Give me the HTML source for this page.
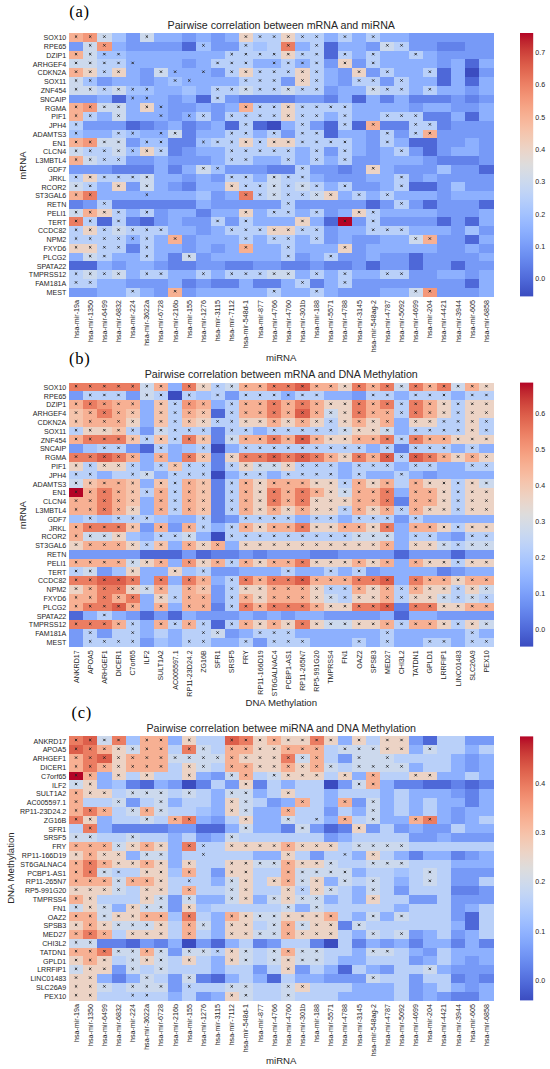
<!DOCTYPE html>
<html><head><meta charset="utf-8"><style>
html,body{margin:0;padding:0;background:#fff;}
body{width:550px;height:1069px;position:relative;overflow:hidden;font-family:"Liberation Sans",sans-serif;}
</style></head><body>
<svg width="550" height="1069" viewBox="0 0 550 1069" style="position:absolute;left:0;top:0">
<defs><linearGradient id="cw" x1="0" y1="1" x2="0" y2="0">
<stop offset="0.0000" stop-color="#3b4cc0"/>
<stop offset="0.0312" stop-color="#445acc"/>
<stop offset="0.0625" stop-color="#4e68d8"/>
<stop offset="0.0938" stop-color="#5875e1"/>
<stop offset="0.1250" stop-color="#6282ea"/>
<stop offset="0.1562" stop-color="#6c8ff1"/>
<stop offset="0.1875" stop-color="#779af7"/>
<stop offset="0.2188" stop-color="#82a6fb"/>
<stop offset="0.2500" stop-color="#8db0fe"/>
<stop offset="0.2812" stop-color="#98b9ff"/>
<stop offset="0.3125" stop-color="#a3c2fe"/>
<stop offset="0.3438" stop-color="#aec9fc"/>
<stop offset="0.3750" stop-color="#b9d0f9"/>
<stop offset="0.4062" stop-color="#c3d5f4"/>
<stop offset="0.4375" stop-color="#ccd9ed"/>
<stop offset="0.4688" stop-color="#d5dbe5"/>
<stop offset="0.5000" stop-color="#dddcdc"/>
<stop offset="0.5312" stop-color="#e5d8d1"/>
<stop offset="0.5625" stop-color="#ecd3c5"/>
<stop offset="0.5938" stop-color="#f1ccb8"/>
<stop offset="0.6250" stop-color="#f5c4ac"/>
<stop offset="0.6562" stop-color="#f7ba9f"/>
<stop offset="0.6875" stop-color="#f7b093"/>
<stop offset="0.7188" stop-color="#f6a586"/>
<stop offset="0.7500" stop-color="#f4987a"/>
<stop offset="0.7812" stop-color="#f08b6e"/>
<stop offset="0.8125" stop-color="#eb7d62"/>
<stop offset="0.8438" stop-color="#e46e56"/>
<stop offset="0.8750" stop-color="#dd5f4b"/>
<stop offset="0.9062" stop-color="#d44e41"/>
<stop offset="0.9375" stop-color="#ca3b37"/>
<stop offset="0.9688" stop-color="#be242e"/>
<stop offset="1.0000" stop-color="#b40426"/>
</linearGradient></defs>
<rect width="550" height="1069" fill="#fff"/>
<g shape-rendering="crispEdges"><rect x="69.0" y="33.0" width="14.5" height="9.1" fill="#f7b093"/><rect x="83.2" y="33.0" width="14.5" height="9.1" fill="#f4987a"/><rect x="97.3" y="33.0" width="14.5" height="9.1" fill="#ccd9ed"/><rect x="111.5" y="33.0" width="14.5" height="9.1" fill="#a3c2fe"/><rect x="125.6" y="33.0" width="14.5" height="9.1" fill="#779af7"/><rect x="139.8" y="33.0" width="14.5" height="9.1" fill="#ccd9ed"/><rect x="153.9" y="33.0" width="14.5" height="9.1" fill="#8db0fe"/><rect x="168.1" y="33.0" width="14.5" height="9.1" fill="#8db0fe"/><rect x="182.2" y="33.0" width="14.5" height="9.1" fill="#779af7"/><rect x="196.4" y="33.0" width="14.5" height="9.1" fill="#8db0fe"/><rect x="210.5" y="33.0" width="14.5" height="9.1" fill="#779af7"/><rect x="224.7" y="33.0" width="14.5" height="9.1" fill="#8db0fe"/><rect x="238.8" y="33.0" width="14.5" height="9.1" fill="#ecd3c5"/><rect x="253.0" y="33.0" width="14.5" height="9.1" fill="#b9d0f9"/><rect x="267.1" y="33.0" width="14.5" height="9.1" fill="#b9d0f9"/><rect x="281.2" y="33.0" width="14.5" height="9.1" fill="#ecd3c5"/><rect x="295.4" y="33.0" width="14.5" height="9.1" fill="#b9d0f9"/><rect x="309.6" y="33.0" width="14.5" height="9.1" fill="#b9d0f9"/><rect x="323.7" y="33.0" width="14.5" height="9.1" fill="#8db0fe"/><rect x="337.9" y="33.0" width="14.5" height="9.1" fill="#b9d0f9"/><rect x="352.0" y="33.0" width="14.5" height="9.1" fill="#8db0fe"/><rect x="366.2" y="33.0" width="14.5" height="9.1" fill="#b9d0f9"/><rect x="380.3" y="33.0" width="14.5" height="9.1" fill="#8db0fe"/><rect x="394.4" y="33.0" width="14.5" height="9.1" fill="#8db0fe"/><rect x="408.6" y="33.0" width="14.5" height="9.1" fill="#779af7"/><rect x="422.8" y="33.0" width="14.5" height="9.1" fill="#779af7"/><rect x="436.9" y="33.0" width="14.5" height="9.1" fill="#779af7"/><rect x="451.1" y="33.0" width="14.5" height="9.1" fill="#779af7"/><rect x="465.2" y="33.0" width="14.5" height="9.1" fill="#779af7"/><rect x="479.4" y="33.0" width="14.5" height="9.1" fill="#779af7"/><rect x="69.0" y="41.8" width="14.5" height="9.1" fill="#779af7"/><rect x="83.2" y="41.8" width="14.5" height="9.1" fill="#ccd9ed"/><rect x="97.3" y="41.8" width="14.5" height="9.1" fill="#f4987a"/><rect x="111.5" y="41.8" width="14.5" height="9.1" fill="#8db0fe"/><rect x="125.6" y="41.8" width="14.5" height="9.1" fill="#779af7"/><rect x="139.8" y="41.8" width="14.5" height="9.1" fill="#779af7"/><rect x="153.9" y="41.8" width="14.5" height="9.1" fill="#779af7"/><rect x="168.1" y="41.8" width="14.5" height="9.1" fill="#779af7"/><rect x="182.2" y="41.8" width="14.5" height="9.1" fill="#4e68d8"/><rect x="196.4" y="41.8" width="14.5" height="9.1" fill="#a3c2fe"/><rect x="210.5" y="41.8" width="14.5" height="9.1" fill="#779af7"/><rect x="224.7" y="41.8" width="14.5" height="9.1" fill="#779af7"/><rect x="238.8" y="41.8" width="14.5" height="9.1" fill="#b9d0f9"/><rect x="253.0" y="41.8" width="14.5" height="9.1" fill="#a3c2fe"/><rect x="267.1" y="41.8" width="14.5" height="9.1" fill="#b9d0f9"/><rect x="281.2" y="41.8" width="14.5" height="9.1" fill="#eb7d62"/><rect x="295.4" y="41.8" width="14.5" height="9.1" fill="#8db0fe"/><rect x="309.6" y="41.8" width="14.5" height="9.1" fill="#b9d0f9"/><rect x="323.7" y="41.8" width="14.5" height="9.1" fill="#4e68d8"/><rect x="337.9" y="41.8" width="14.5" height="9.1" fill="#8db0fe"/><rect x="352.0" y="41.8" width="14.5" height="9.1" fill="#8db0fe"/><rect x="366.2" y="41.8" width="14.5" height="9.1" fill="#779af7"/><rect x="380.3" y="41.8" width="14.5" height="9.1" fill="#ccd9ed"/><rect x="394.4" y="41.8" width="14.5" height="9.1" fill="#b9d0f9"/><rect x="408.6" y="41.8" width="14.5" height="9.1" fill="#779af7"/><rect x="422.8" y="41.8" width="14.5" height="9.1" fill="#779af7"/><rect x="436.9" y="41.8" width="14.5" height="9.1" fill="#6282ea"/><rect x="451.1" y="41.8" width="14.5" height="9.1" fill="#6282ea"/><rect x="465.2" y="41.8" width="14.5" height="9.1" fill="#779af7"/><rect x="479.4" y="41.8" width="14.5" height="9.1" fill="#779af7"/><rect x="69.0" y="50.6" width="14.5" height="9.1" fill="#f7b093"/><rect x="83.2" y="50.6" width="14.5" height="9.1" fill="#ccd9ed"/><rect x="97.3" y="50.6" width="14.5" height="9.1" fill="#a3c2fe"/><rect x="111.5" y="50.6" width="14.5" height="9.1" fill="#a3c2fe"/><rect x="125.6" y="50.6" width="14.5" height="9.1" fill="#8db0fe"/><rect x="139.8" y="50.6" width="14.5" height="9.1" fill="#8db0fe"/><rect x="153.9" y="50.6" width="14.5" height="9.1" fill="#8db0fe"/><rect x="168.1" y="50.6" width="14.5" height="9.1" fill="#8db0fe"/><rect x="182.2" y="50.6" width="14.5" height="9.1" fill="#8db0fe"/><rect x="196.4" y="50.6" width="14.5" height="9.1" fill="#8db0fe"/><rect x="210.5" y="50.6" width="14.5" height="9.1" fill="#8db0fe"/><rect x="224.7" y="50.6" width="14.5" height="9.1" fill="#b9d0f9"/><rect x="238.8" y="50.6" width="14.5" height="9.1" fill="#b9d0f9"/><rect x="253.0" y="50.6" width="14.5" height="9.1" fill="#b9d0f9"/><rect x="267.1" y="50.6" width="14.5" height="9.1" fill="#b9d0f9"/><rect x="281.2" y="50.6" width="14.5" height="9.1" fill="#ecd3c5"/><rect x="295.4" y="50.6" width="14.5" height="9.1" fill="#b9d0f9"/><rect x="309.6" y="50.6" width="14.5" height="9.1" fill="#b9d0f9"/><rect x="323.7" y="50.6" width="14.5" height="9.1" fill="#4e68d8"/><rect x="337.9" y="50.6" width="14.5" height="9.1" fill="#b9d0f9"/><rect x="352.0" y="50.6" width="14.5" height="9.1" fill="#8db0fe"/><rect x="366.2" y="50.6" width="14.5" height="9.1" fill="#b9d0f9"/><rect x="380.3" y="50.6" width="14.5" height="9.1" fill="#8db0fe"/><rect x="394.4" y="50.6" width="14.5" height="9.1" fill="#8db0fe"/><rect x="408.6" y="50.6" width="14.5" height="9.1" fill="#b9d0f9"/><rect x="422.8" y="50.6" width="14.5" height="9.1" fill="#8db0fe"/><rect x="436.9" y="50.6" width="14.5" height="9.1" fill="#779af7"/><rect x="451.1" y="50.6" width="14.5" height="9.1" fill="#779af7"/><rect x="465.2" y="50.6" width="14.5" height="9.1" fill="#779af7"/><rect x="479.4" y="50.6" width="14.5" height="9.1" fill="#779af7"/><rect x="69.0" y="59.3" width="14.5" height="9.1" fill="#ccd9ed"/><rect x="83.2" y="59.3" width="14.5" height="9.1" fill="#ccd9ed"/><rect x="97.3" y="59.3" width="14.5" height="9.1" fill="#b9d0f9"/><rect x="111.5" y="59.3" width="14.5" height="9.1" fill="#b9d0f9"/><rect x="125.6" y="59.3" width="14.5" height="9.1" fill="#8db0fe"/><rect x="139.8" y="59.3" width="14.5" height="9.1" fill="#8db0fe"/><rect x="153.9" y="59.3" width="14.5" height="9.1" fill="#8db0fe"/><rect x="168.1" y="59.3" width="14.5" height="9.1" fill="#8db0fe"/><rect x="182.2" y="59.3" width="14.5" height="9.1" fill="#779af7"/><rect x="196.4" y="59.3" width="14.5" height="9.1" fill="#8db0fe"/><rect x="210.5" y="59.3" width="14.5" height="9.1" fill="#b9d0f9"/><rect x="224.7" y="59.3" width="14.5" height="9.1" fill="#b9d0f9"/><rect x="238.8" y="59.3" width="14.5" height="9.1" fill="#b9d0f9"/><rect x="253.0" y="59.3" width="14.5" height="9.1" fill="#8db0fe"/><rect x="267.1" y="59.3" width="14.5" height="9.1" fill="#8db0fe"/><rect x="281.2" y="59.3" width="14.5" height="9.1" fill="#b9d0f9"/><rect x="295.4" y="59.3" width="14.5" height="9.1" fill="#8db0fe"/><rect x="309.6" y="59.3" width="14.5" height="9.1" fill="#b9d0f9"/><rect x="323.7" y="59.3" width="14.5" height="9.1" fill="#779af7"/><rect x="337.9" y="59.3" width="14.5" height="9.1" fill="#ecd3c5"/><rect x="352.0" y="59.3" width="14.5" height="9.1" fill="#779af7"/><rect x="366.2" y="59.3" width="14.5" height="9.1" fill="#b9d0f9"/><rect x="380.3" y="59.3" width="14.5" height="9.1" fill="#8db0fe"/><rect x="394.4" y="59.3" width="14.5" height="9.1" fill="#8db0fe"/><rect x="408.6" y="59.3" width="14.5" height="9.1" fill="#8db0fe"/><rect x="422.8" y="59.3" width="14.5" height="9.1" fill="#8db0fe"/><rect x="436.9" y="59.3" width="14.5" height="9.1" fill="#779af7"/><rect x="451.1" y="59.3" width="14.5" height="9.1" fill="#8db0fe"/><rect x="465.2" y="59.3" width="14.5" height="9.1" fill="#4e68d8"/><rect x="479.4" y="59.3" width="14.5" height="9.1" fill="#8db0fe"/><rect x="69.0" y="68.1" width="14.5" height="9.1" fill="#f7b093"/><rect x="83.2" y="68.1" width="14.5" height="9.1" fill="#ecd3c5"/><rect x="97.3" y="68.1" width="14.5" height="9.1" fill="#b9d0f9"/><rect x="111.5" y="68.1" width="14.5" height="9.1" fill="#ecd3c5"/><rect x="125.6" y="68.1" width="14.5" height="9.1" fill="#8db0fe"/><rect x="139.8" y="68.1" width="14.5" height="9.1" fill="#779af7"/><rect x="153.9" y="68.1" width="14.5" height="9.1" fill="#ccd9ed"/><rect x="168.1" y="68.1" width="14.5" height="9.1" fill="#8db0fe"/><rect x="182.2" y="68.1" width="14.5" height="9.1" fill="#8db0fe"/><rect x="196.4" y="68.1" width="14.5" height="9.1" fill="#8db0fe"/><rect x="210.5" y="68.1" width="14.5" height="9.1" fill="#779af7"/><rect x="224.7" y="68.1" width="14.5" height="9.1" fill="#b9d0f9"/><rect x="238.8" y="68.1" width="14.5" height="9.1" fill="#ecd3c5"/><rect x="253.0" y="68.1" width="14.5" height="9.1" fill="#b9d0f9"/><rect x="267.1" y="68.1" width="14.5" height="9.1" fill="#b9d0f9"/><rect x="281.2" y="68.1" width="14.5" height="9.1" fill="#b9d0f9"/><rect x="295.4" y="68.1" width="14.5" height="9.1" fill="#ecd3c5"/><rect x="309.6" y="68.1" width="14.5" height="9.1" fill="#b9d0f9"/><rect x="323.7" y="68.1" width="14.5" height="9.1" fill="#8db0fe"/><rect x="337.9" y="68.1" width="14.5" height="9.1" fill="#779af7"/><rect x="352.0" y="68.1" width="14.5" height="9.1" fill="#ecd3c5"/><rect x="366.2" y="68.1" width="14.5" height="9.1" fill="#779af7"/><rect x="380.3" y="68.1" width="14.5" height="9.1" fill="#b9d0f9"/><rect x="394.4" y="68.1" width="14.5" height="9.1" fill="#8db0fe"/><rect x="408.6" y="68.1" width="14.5" height="9.1" fill="#8db0fe"/><rect x="422.8" y="68.1" width="14.5" height="9.1" fill="#b9d0f9"/><rect x="436.9" y="68.1" width="14.5" height="9.1" fill="#4e68d8"/><rect x="451.1" y="68.1" width="14.5" height="9.1" fill="#8db0fe"/><rect x="465.2" y="68.1" width="14.5" height="9.1" fill="#3b4cc0"/><rect x="479.4" y="68.1" width="14.5" height="9.1" fill="#779af7"/><rect x="69.0" y="76.9" width="14.5" height="9.1" fill="#ccd9ed"/><rect x="83.2" y="76.9" width="14.5" height="9.1" fill="#a3c2fe"/><rect x="97.3" y="76.9" width="14.5" height="9.1" fill="#779af7"/><rect x="111.5" y="76.9" width="14.5" height="9.1" fill="#8db0fe"/><rect x="125.6" y="76.9" width="14.5" height="9.1" fill="#8db0fe"/><rect x="139.8" y="76.9" width="14.5" height="9.1" fill="#779af7"/><rect x="153.9" y="76.9" width="14.5" height="9.1" fill="#8db0fe"/><rect x="168.1" y="76.9" width="14.5" height="9.1" fill="#a3c2fe"/><rect x="182.2" y="76.9" width="14.5" height="9.1" fill="#8db0fe"/><rect x="196.4" y="76.9" width="14.5" height="9.1" fill="#8db0fe"/><rect x="210.5" y="76.9" width="14.5" height="9.1" fill="#8db0fe"/><rect x="224.7" y="76.9" width="14.5" height="9.1" fill="#8db0fe"/><rect x="238.8" y="76.9" width="14.5" height="9.1" fill="#b9d0f9"/><rect x="253.0" y="76.9" width="14.5" height="9.1" fill="#b9d0f9"/><rect x="267.1" y="76.9" width="14.5" height="9.1" fill="#b9d0f9"/><rect x="281.2" y="76.9" width="14.5" height="9.1" fill="#779af7"/><rect x="295.4" y="76.9" width="14.5" height="9.1" fill="#ecd3c5"/><rect x="309.6" y="76.9" width="14.5" height="9.1" fill="#b9d0f9"/><rect x="323.7" y="76.9" width="14.5" height="9.1" fill="#8db0fe"/><rect x="337.9" y="76.9" width="14.5" height="9.1" fill="#779af7"/><rect x="352.0" y="76.9" width="14.5" height="9.1" fill="#b9d0f9"/><rect x="366.2" y="76.9" width="14.5" height="9.1" fill="#b9d0f9"/><rect x="380.3" y="76.9" width="14.5" height="9.1" fill="#779af7"/><rect x="394.4" y="76.9" width="14.5" height="9.1" fill="#b9d0f9"/><rect x="408.6" y="76.9" width="14.5" height="9.1" fill="#8db0fe"/><rect x="422.8" y="76.9" width="14.5" height="9.1" fill="#8db0fe"/><rect x="436.9" y="76.9" width="14.5" height="9.1" fill="#4e68d8"/><rect x="451.1" y="76.9" width="14.5" height="9.1" fill="#8db0fe"/><rect x="465.2" y="76.9" width="14.5" height="9.1" fill="#4e68d8"/><rect x="479.4" y="76.9" width="14.5" height="9.1" fill="#8db0fe"/><rect x="69.0" y="85.7" width="14.5" height="9.1" fill="#ccd9ed"/><rect x="83.2" y="85.7" width="14.5" height="9.1" fill="#ccd9ed"/><rect x="97.3" y="85.7" width="14.5" height="9.1" fill="#b9d0f9"/><rect x="111.5" y="85.7" width="14.5" height="9.1" fill="#ccd9ed"/><rect x="125.6" y="85.7" width="14.5" height="9.1" fill="#a3c2fe"/><rect x="139.8" y="85.7" width="14.5" height="9.1" fill="#a3c2fe"/><rect x="153.9" y="85.7" width="14.5" height="9.1" fill="#8db0fe"/><rect x="168.1" y="85.7" width="14.5" height="9.1" fill="#8db0fe"/><rect x="182.2" y="85.7" width="14.5" height="9.1" fill="#a3c2fe"/><rect x="196.4" y="85.7" width="14.5" height="9.1" fill="#8db0fe"/><rect x="210.5" y="85.7" width="14.5" height="9.1" fill="#b9d0f9"/><rect x="224.7" y="85.7" width="14.5" height="9.1" fill="#b9d0f9"/><rect x="238.8" y="85.7" width="14.5" height="9.1" fill="#ccd9ed"/><rect x="253.0" y="85.7" width="14.5" height="9.1" fill="#b9d0f9"/><rect x="267.1" y="85.7" width="14.5" height="9.1" fill="#b9d0f9"/><rect x="281.2" y="85.7" width="14.5" height="9.1" fill="#ccd9ed"/><rect x="295.4" y="85.7" width="14.5" height="9.1" fill="#b9d0f9"/><rect x="309.6" y="85.7" width="14.5" height="9.1" fill="#b9d0f9"/><rect x="323.7" y="85.7" width="14.5" height="9.1" fill="#779af7"/><rect x="337.9" y="85.7" width="14.5" height="9.1" fill="#8db0fe"/><rect x="352.0" y="85.7" width="14.5" height="9.1" fill="#8db0fe"/><rect x="366.2" y="85.7" width="14.5" height="9.1" fill="#ccd9ed"/><rect x="380.3" y="85.7" width="14.5" height="9.1" fill="#b9d0f9"/><rect x="394.4" y="85.7" width="14.5" height="9.1" fill="#b9d0f9"/><rect x="408.6" y="85.7" width="14.5" height="9.1" fill="#8db0fe"/><rect x="422.8" y="85.7" width="14.5" height="9.1" fill="#b9d0f9"/><rect x="436.9" y="85.7" width="14.5" height="9.1" fill="#8db0fe"/><rect x="451.1" y="85.7" width="14.5" height="9.1" fill="#8db0fe"/><rect x="465.2" y="85.7" width="14.5" height="9.1" fill="#779af7"/><rect x="479.4" y="85.7" width="14.5" height="9.1" fill="#8db0fe"/><rect x="69.0" y="94.5" width="14.5" height="9.1" fill="#779af7"/><rect x="83.2" y="94.5" width="14.5" height="9.1" fill="#779af7"/><rect x="97.3" y="94.5" width="14.5" height="9.1" fill="#8db0fe"/><rect x="111.5" y="94.5" width="14.5" height="9.1" fill="#4e68d8"/><rect x="125.6" y="94.5" width="14.5" height="9.1" fill="#8db0fe"/><rect x="139.8" y="94.5" width="14.5" height="9.1" fill="#8db0fe"/><rect x="153.9" y="94.5" width="14.5" height="9.1" fill="#8db0fe"/><rect x="168.1" y="94.5" width="14.5" height="9.1" fill="#779af7"/><rect x="182.2" y="94.5" width="14.5" height="9.1" fill="#8db0fe"/><rect x="196.4" y="94.5" width="14.5" height="9.1" fill="#4e68d8"/><rect x="210.5" y="94.5" width="14.5" height="9.1" fill="#b9d0f9"/><rect x="224.7" y="94.5" width="14.5" height="9.1" fill="#779af7"/><rect x="238.8" y="94.5" width="14.5" height="9.1" fill="#6282ea"/><rect x="253.0" y="94.5" width="14.5" height="9.1" fill="#6282ea"/><rect x="267.1" y="94.5" width="14.5" height="9.1" fill="#6282ea"/><rect x="281.2" y="94.5" width="14.5" height="9.1" fill="#6282ea"/><rect x="295.4" y="94.5" width="14.5" height="9.1" fill="#779af7"/><rect x="309.6" y="94.5" width="14.5" height="9.1" fill="#779af7"/><rect x="323.7" y="94.5" width="14.5" height="9.1" fill="#6282ea"/><rect x="337.9" y="94.5" width="14.5" height="9.1" fill="#8db0fe"/><rect x="352.0" y="94.5" width="14.5" height="9.1" fill="#4e68d8"/><rect x="366.2" y="94.5" width="14.5" height="9.1" fill="#8db0fe"/><rect x="380.3" y="94.5" width="14.5" height="9.1" fill="#6282ea"/><rect x="394.4" y="94.5" width="14.5" height="9.1" fill="#8db0fe"/><rect x="408.6" y="94.5" width="14.5" height="9.1" fill="#6282ea"/><rect x="422.8" y="94.5" width="14.5" height="9.1" fill="#6282ea"/><rect x="436.9" y="94.5" width="14.5" height="9.1" fill="#6282ea"/><rect x="451.1" y="94.5" width="14.5" height="9.1" fill="#779af7"/><rect x="465.2" y="94.5" width="14.5" height="9.1" fill="#6282ea"/><rect x="479.4" y="94.5" width="14.5" height="9.1" fill="#779af7"/><rect x="69.0" y="103.2" width="14.5" height="9.1" fill="#f7b093"/><rect x="83.2" y="103.2" width="14.5" height="9.1" fill="#f4987a"/><rect x="97.3" y="103.2" width="14.5" height="9.1" fill="#ccd9ed"/><rect x="111.5" y="103.2" width="14.5" height="9.1" fill="#ccd9ed"/><rect x="125.6" y="103.2" width="14.5" height="9.1" fill="#8db0fe"/><rect x="139.8" y="103.2" width="14.5" height="9.1" fill="#ecd3c5"/><rect x="153.9" y="103.2" width="14.5" height="9.1" fill="#8db0fe"/><rect x="168.1" y="103.2" width="14.5" height="9.1" fill="#779af7"/><rect x="182.2" y="103.2" width="14.5" height="9.1" fill="#779af7"/><rect x="196.4" y="103.2" width="14.5" height="9.1" fill="#8db0fe"/><rect x="210.5" y="103.2" width="14.5" height="9.1" fill="#779af7"/><rect x="224.7" y="103.2" width="14.5" height="9.1" fill="#8db0fe"/><rect x="238.8" y="103.2" width="14.5" height="9.1" fill="#f7b093"/><rect x="253.0" y="103.2" width="14.5" height="9.1" fill="#b9d0f9"/><rect x="267.1" y="103.2" width="14.5" height="9.1" fill="#b9d0f9"/><rect x="281.2" y="103.2" width="14.5" height="9.1" fill="#ecd3c5"/><rect x="295.4" y="103.2" width="14.5" height="9.1" fill="#b9d0f9"/><rect x="309.6" y="103.2" width="14.5" height="9.1" fill="#b9d0f9"/><rect x="323.7" y="103.2" width="14.5" height="9.1" fill="#b9d0f9"/><rect x="337.9" y="103.2" width="14.5" height="9.1" fill="#b9d0f9"/><rect x="352.0" y="103.2" width="14.5" height="9.1" fill="#8db0fe"/><rect x="366.2" y="103.2" width="14.5" height="9.1" fill="#8db0fe"/><rect x="380.3" y="103.2" width="14.5" height="9.1" fill="#8db0fe"/><rect x="394.4" y="103.2" width="14.5" height="9.1" fill="#8db0fe"/><rect x="408.6" y="103.2" width="14.5" height="9.1" fill="#779af7"/><rect x="422.8" y="103.2" width="14.5" height="9.1" fill="#8db0fe"/><rect x="436.9" y="103.2" width="14.5" height="9.1" fill="#8db0fe"/><rect x="451.1" y="103.2" width="14.5" height="9.1" fill="#779af7"/><rect x="465.2" y="103.2" width="14.5" height="9.1" fill="#779af7"/><rect x="479.4" y="103.2" width="14.5" height="9.1" fill="#8db0fe"/><rect x="69.0" y="112.0" width="14.5" height="9.1" fill="#f7b093"/><rect x="83.2" y="112.0" width="14.5" height="9.1" fill="#b9d0f9"/><rect x="97.3" y="112.0" width="14.5" height="9.1" fill="#8db0fe"/><rect x="111.5" y="112.0" width="14.5" height="9.1" fill="#ccd9ed"/><rect x="125.6" y="112.0" width="14.5" height="9.1" fill="#8db0fe"/><rect x="139.8" y="112.0" width="14.5" height="9.1" fill="#8db0fe"/><rect x="153.9" y="112.0" width="14.5" height="9.1" fill="#8db0fe"/><rect x="168.1" y="112.0" width="14.5" height="9.1" fill="#779af7"/><rect x="182.2" y="112.0" width="14.5" height="9.1" fill="#8db0fe"/><rect x="196.4" y="112.0" width="14.5" height="9.1" fill="#b9d0f9"/><rect x="210.5" y="112.0" width="14.5" height="9.1" fill="#779af7"/><rect x="224.7" y="112.0" width="14.5" height="9.1" fill="#b9d0f9"/><rect x="238.8" y="112.0" width="14.5" height="9.1" fill="#b9d0f9"/><rect x="253.0" y="112.0" width="14.5" height="9.1" fill="#b9d0f9"/><rect x="267.1" y="112.0" width="14.5" height="9.1" fill="#b9d0f9"/><rect x="281.2" y="112.0" width="14.5" height="9.1" fill="#ecd3c5"/><rect x="295.4" y="112.0" width="14.5" height="9.1" fill="#b9d0f9"/><rect x="309.6" y="112.0" width="14.5" height="9.1" fill="#b9d0f9"/><rect x="323.7" y="112.0" width="14.5" height="9.1" fill="#8db0fe"/><rect x="337.9" y="112.0" width="14.5" height="9.1" fill="#b9d0f9"/><rect x="352.0" y="112.0" width="14.5" height="9.1" fill="#8db0fe"/><rect x="366.2" y="112.0" width="14.5" height="9.1" fill="#8db0fe"/><rect x="380.3" y="112.0" width="14.5" height="9.1" fill="#b9d0f9"/><rect x="394.4" y="112.0" width="14.5" height="9.1" fill="#b9d0f9"/><rect x="408.6" y="112.0" width="14.5" height="9.1" fill="#b9d0f9"/><rect x="422.8" y="112.0" width="14.5" height="9.1" fill="#6282ea"/><rect x="436.9" y="112.0" width="14.5" height="9.1" fill="#6282ea"/><rect x="451.1" y="112.0" width="14.5" height="9.1" fill="#8db0fe"/><rect x="465.2" y="112.0" width="14.5" height="9.1" fill="#4e68d8"/><rect x="479.4" y="112.0" width="14.5" height="9.1" fill="#8db0fe"/><rect x="69.0" y="120.8" width="14.5" height="9.1" fill="#b9d0f9"/><rect x="83.2" y="120.8" width="14.5" height="9.1" fill="#779af7"/><rect x="97.3" y="120.8" width="14.5" height="9.1" fill="#779af7"/><rect x="111.5" y="120.8" width="14.5" height="9.1" fill="#779af7"/><rect x="125.6" y="120.8" width="14.5" height="9.1" fill="#4e68d8"/><rect x="139.8" y="120.8" width="14.5" height="9.1" fill="#6282ea"/><rect x="153.9" y="120.8" width="14.5" height="9.1" fill="#779af7"/><rect x="168.1" y="120.8" width="14.5" height="9.1" fill="#8db0fe"/><rect x="182.2" y="120.8" width="14.5" height="9.1" fill="#6282ea"/><rect x="196.4" y="120.8" width="14.5" height="9.1" fill="#779af7"/><rect x="210.5" y="120.8" width="14.5" height="9.1" fill="#8db0fe"/><rect x="224.7" y="120.8" width="14.5" height="9.1" fill="#4e68d8"/><rect x="238.8" y="120.8" width="14.5" height="9.1" fill="#b9d0f9"/><rect x="253.0" y="120.8" width="14.5" height="9.1" fill="#4e68d8"/><rect x="267.1" y="120.8" width="14.5" height="9.1" fill="#3b4cc0"/><rect x="281.2" y="120.8" width="14.5" height="9.1" fill="#8db0fe"/><rect x="295.4" y="120.8" width="14.5" height="9.1" fill="#b9d0f9"/><rect x="309.6" y="120.8" width="14.5" height="9.1" fill="#779af7"/><rect x="323.7" y="120.8" width="14.5" height="9.1" fill="#4e68d8"/><rect x="337.9" y="120.8" width="14.5" height="9.1" fill="#b9d0f9"/><rect x="352.0" y="120.8" width="14.5" height="9.1" fill="#4e68d8"/><rect x="366.2" y="120.8" width="14.5" height="9.1" fill="#f7b093"/><rect x="380.3" y="120.8" width="14.5" height="9.1" fill="#6282ea"/><rect x="394.4" y="120.8" width="14.5" height="9.1" fill="#6282ea"/><rect x="408.6" y="120.8" width="14.5" height="9.1" fill="#b9d0f9"/><rect x="422.8" y="120.8" width="14.5" height="9.1" fill="#b9d0f9"/><rect x="436.9" y="120.8" width="14.5" height="9.1" fill="#6282ea"/><rect x="451.1" y="120.8" width="14.5" height="9.1" fill="#779af7"/><rect x="465.2" y="120.8" width="14.5" height="9.1" fill="#779af7"/><rect x="479.4" y="120.8" width="14.5" height="9.1" fill="#779af7"/><rect x="69.0" y="129.6" width="14.5" height="9.1" fill="#a3c2fe"/><rect x="83.2" y="129.6" width="14.5" height="9.1" fill="#8db0fe"/><rect x="97.3" y="129.6" width="14.5" height="9.1" fill="#8db0fe"/><rect x="111.5" y="129.6" width="14.5" height="9.1" fill="#b9d0f9"/><rect x="125.6" y="129.6" width="14.5" height="9.1" fill="#a3c2fe"/><rect x="139.8" y="129.6" width="14.5" height="9.1" fill="#8db0fe"/><rect x="153.9" y="129.6" width="14.5" height="9.1" fill="#8db0fe"/><rect x="168.1" y="129.6" width="14.5" height="9.1" fill="#ccd9ed"/><rect x="182.2" y="129.6" width="14.5" height="9.1" fill="#6282ea"/><rect x="196.4" y="129.6" width="14.5" height="9.1" fill="#8db0fe"/><rect x="210.5" y="129.6" width="14.5" height="9.1" fill="#8db0fe"/><rect x="224.7" y="129.6" width="14.5" height="9.1" fill="#b9d0f9"/><rect x="238.8" y="129.6" width="14.5" height="9.1" fill="#b9d0f9"/><rect x="253.0" y="129.6" width="14.5" height="9.1" fill="#8db0fe"/><rect x="267.1" y="129.6" width="14.5" height="9.1" fill="#b9d0f9"/><rect x="281.2" y="129.6" width="14.5" height="9.1" fill="#779af7"/><rect x="295.4" y="129.6" width="14.5" height="9.1" fill="#b9d0f9"/><rect x="309.6" y="129.6" width="14.5" height="9.1" fill="#b9d0f9"/><rect x="323.7" y="129.6" width="14.5" height="9.1" fill="#4e68d8"/><rect x="337.9" y="129.6" width="14.5" height="9.1" fill="#8db0fe"/><rect x="352.0" y="129.6" width="14.5" height="9.1" fill="#8db0fe"/><rect x="366.2" y="129.6" width="14.5" height="9.1" fill="#779af7"/><rect x="380.3" y="129.6" width="14.5" height="9.1" fill="#b9d0f9"/><rect x="394.4" y="129.6" width="14.5" height="9.1" fill="#779af7"/><rect x="408.6" y="129.6" width="14.5" height="9.1" fill="#b9d0f9"/><rect x="422.8" y="129.6" width="14.5" height="9.1" fill="#f7b093"/><rect x="436.9" y="129.6" width="14.5" height="9.1" fill="#779af7"/><rect x="451.1" y="129.6" width="14.5" height="9.1" fill="#779af7"/><rect x="465.2" y="129.6" width="14.5" height="9.1" fill="#779af7"/><rect x="479.4" y="129.6" width="14.5" height="9.1" fill="#779af7"/><rect x="69.0" y="138.4" width="14.5" height="9.1" fill="#f7b093"/><rect x="83.2" y="138.4" width="14.5" height="9.1" fill="#f4987a"/><rect x="97.3" y="138.4" width="14.5" height="9.1" fill="#ccd9ed"/><rect x="111.5" y="138.4" width="14.5" height="9.1" fill="#ccd9ed"/><rect x="125.6" y="138.4" width="14.5" height="9.1" fill="#779af7"/><rect x="139.8" y="138.4" width="14.5" height="9.1" fill="#a3c2fe"/><rect x="153.9" y="138.4" width="14.5" height="9.1" fill="#a3c2fe"/><rect x="168.1" y="138.4" width="14.5" height="9.1" fill="#6282ea"/><rect x="182.2" y="138.4" width="14.5" height="9.1" fill="#6282ea"/><rect x="196.4" y="138.4" width="14.5" height="9.1" fill="#a3c2fe"/><rect x="210.5" y="138.4" width="14.5" height="9.1" fill="#b9d0f9"/><rect x="224.7" y="138.4" width="14.5" height="9.1" fill="#b9d0f9"/><rect x="238.8" y="138.4" width="14.5" height="9.1" fill="#ecd3c5"/><rect x="253.0" y="138.4" width="14.5" height="9.1" fill="#b9d0f9"/><rect x="267.1" y="138.4" width="14.5" height="9.1" fill="#ecd3c5"/><rect x="281.2" y="138.4" width="14.5" height="9.1" fill="#ecd3c5"/><rect x="295.4" y="138.4" width="14.5" height="9.1" fill="#b9d0f9"/><rect x="309.6" y="138.4" width="14.5" height="9.1" fill="#b9d0f9"/><rect x="323.7" y="138.4" width="14.5" height="9.1" fill="#b9d0f9"/><rect x="337.9" y="138.4" width="14.5" height="9.1" fill="#b9d0f9"/><rect x="352.0" y="138.4" width="14.5" height="9.1" fill="#8db0fe"/><rect x="366.2" y="138.4" width="14.5" height="9.1" fill="#779af7"/><rect x="380.3" y="138.4" width="14.5" height="9.1" fill="#b9d0f9"/><rect x="394.4" y="138.4" width="14.5" height="9.1" fill="#8db0fe"/><rect x="408.6" y="138.4" width="14.5" height="9.1" fill="#4e68d8"/><rect x="422.8" y="138.4" width="14.5" height="9.1" fill="#4e68d8"/><rect x="436.9" y="138.4" width="14.5" height="9.1" fill="#779af7"/><rect x="451.1" y="138.4" width="14.5" height="9.1" fill="#779af7"/><rect x="465.2" y="138.4" width="14.5" height="9.1" fill="#8db0fe"/><rect x="479.4" y="138.4" width="14.5" height="9.1" fill="#779af7"/><rect x="69.0" y="147.1" width="14.5" height="9.1" fill="#ccd9ed"/><rect x="83.2" y="147.1" width="14.5" height="9.1" fill="#b9d0f9"/><rect x="97.3" y="147.1" width="14.5" height="9.1" fill="#b9d0f9"/><rect x="111.5" y="147.1" width="14.5" height="9.1" fill="#ccd9ed"/><rect x="125.6" y="147.1" width="14.5" height="9.1" fill="#a3c2fe"/><rect x="139.8" y="147.1" width="14.5" height="9.1" fill="#ecd3c5"/><rect x="153.9" y="147.1" width="14.5" height="9.1" fill="#b9d0f9"/><rect x="168.1" y="147.1" width="14.5" height="9.1" fill="#6282ea"/><rect x="182.2" y="147.1" width="14.5" height="9.1" fill="#779af7"/><rect x="196.4" y="147.1" width="14.5" height="9.1" fill="#8db0fe"/><rect x="210.5" y="147.1" width="14.5" height="9.1" fill="#8db0fe"/><rect x="224.7" y="147.1" width="14.5" height="9.1" fill="#b9d0f9"/><rect x="238.8" y="147.1" width="14.5" height="9.1" fill="#b9d0f9"/><rect x="253.0" y="147.1" width="14.5" height="9.1" fill="#b9d0f9"/><rect x="267.1" y="147.1" width="14.5" height="9.1" fill="#b9d0f9"/><rect x="281.2" y="147.1" width="14.5" height="9.1" fill="#b9d0f9"/><rect x="295.4" y="147.1" width="14.5" height="9.1" fill="#8db0fe"/><rect x="309.6" y="147.1" width="14.5" height="9.1" fill="#b9d0f9"/><rect x="323.7" y="147.1" width="14.5" height="9.1" fill="#779af7"/><rect x="337.9" y="147.1" width="14.5" height="9.1" fill="#b9d0f9"/><rect x="352.0" y="147.1" width="14.5" height="9.1" fill="#8db0fe"/><rect x="366.2" y="147.1" width="14.5" height="9.1" fill="#779af7"/><rect x="380.3" y="147.1" width="14.5" height="9.1" fill="#8db0fe"/><rect x="394.4" y="147.1" width="14.5" height="9.1" fill="#b9d0f9"/><rect x="408.6" y="147.1" width="14.5" height="9.1" fill="#779af7"/><rect x="422.8" y="147.1" width="14.5" height="9.1" fill="#4e68d8"/><rect x="436.9" y="147.1" width="14.5" height="9.1" fill="#779af7"/><rect x="451.1" y="147.1" width="14.5" height="9.1" fill="#8db0fe"/><rect x="465.2" y="147.1" width="14.5" height="9.1" fill="#8db0fe"/><rect x="479.4" y="147.1" width="14.5" height="9.1" fill="#779af7"/><rect x="69.0" y="155.9" width="14.5" height="9.1" fill="#f7b093"/><rect x="83.2" y="155.9" width="14.5" height="9.1" fill="#ccd9ed"/><rect x="97.3" y="155.9" width="14.5" height="9.1" fill="#b9d0f9"/><rect x="111.5" y="155.9" width="14.5" height="9.1" fill="#b9d0f9"/><rect x="125.6" y="155.9" width="14.5" height="9.1" fill="#779af7"/><rect x="139.8" y="155.9" width="14.5" height="9.1" fill="#779af7"/><rect x="153.9" y="155.9" width="14.5" height="9.1" fill="#8db0fe"/><rect x="168.1" y="155.9" width="14.5" height="9.1" fill="#779af7"/><rect x="182.2" y="155.9" width="14.5" height="9.1" fill="#779af7"/><rect x="196.4" y="155.9" width="14.5" height="9.1" fill="#779af7"/><rect x="210.5" y="155.9" width="14.5" height="9.1" fill="#8db0fe"/><rect x="224.7" y="155.9" width="14.5" height="9.1" fill="#b9d0f9"/><rect x="238.8" y="155.9" width="14.5" height="9.1" fill="#b9d0f9"/><rect x="253.0" y="155.9" width="14.5" height="9.1" fill="#8db0fe"/><rect x="267.1" y="155.9" width="14.5" height="9.1" fill="#8db0fe"/><rect x="281.2" y="155.9" width="14.5" height="9.1" fill="#b9d0f9"/><rect x="295.4" y="155.9" width="14.5" height="9.1" fill="#8db0fe"/><rect x="309.6" y="155.9" width="14.5" height="9.1" fill="#b9d0f9"/><rect x="323.7" y="155.9" width="14.5" height="9.1" fill="#8db0fe"/><rect x="337.9" y="155.9" width="14.5" height="9.1" fill="#b9d0f9"/><rect x="352.0" y="155.9" width="14.5" height="9.1" fill="#779af7"/><rect x="366.2" y="155.9" width="14.5" height="9.1" fill="#779af7"/><rect x="380.3" y="155.9" width="14.5" height="9.1" fill="#8db0fe"/><rect x="394.4" y="155.9" width="14.5" height="9.1" fill="#8db0fe"/><rect x="408.6" y="155.9" width="14.5" height="9.1" fill="#8db0fe"/><rect x="422.8" y="155.9" width="14.5" height="9.1" fill="#779af7"/><rect x="436.9" y="155.9" width="14.5" height="9.1" fill="#6282ea"/><rect x="451.1" y="155.9" width="14.5" height="9.1" fill="#6282ea"/><rect x="465.2" y="155.9" width="14.5" height="9.1" fill="#6282ea"/><rect x="479.4" y="155.9" width="14.5" height="9.1" fill="#779af7"/><rect x="69.0" y="164.7" width="14.5" height="9.1" fill="#779af7"/><rect x="83.2" y="164.7" width="14.5" height="9.1" fill="#779af7"/><rect x="97.3" y="164.7" width="14.5" height="9.1" fill="#779af7"/><rect x="111.5" y="164.7" width="14.5" height="9.1" fill="#6282ea"/><rect x="125.6" y="164.7" width="14.5" height="9.1" fill="#6282ea"/><rect x="139.8" y="164.7" width="14.5" height="9.1" fill="#6282ea"/><rect x="153.9" y="164.7" width="14.5" height="9.1" fill="#8db0fe"/><rect x="168.1" y="164.7" width="14.5" height="9.1" fill="#6282ea"/><rect x="182.2" y="164.7" width="14.5" height="9.1" fill="#8db0fe"/><rect x="196.4" y="164.7" width="14.5" height="9.1" fill="#ccd9ed"/><rect x="210.5" y="164.7" width="14.5" height="9.1" fill="#a3c2fe"/><rect x="224.7" y="164.7" width="14.5" height="9.1" fill="#779af7"/><rect x="238.8" y="164.7" width="14.5" height="9.1" fill="#779af7"/><rect x="253.0" y="164.7" width="14.5" height="9.1" fill="#779af7"/><rect x="267.1" y="164.7" width="14.5" height="9.1" fill="#6282ea"/><rect x="281.2" y="164.7" width="14.5" height="9.1" fill="#6282ea"/><rect x="295.4" y="164.7" width="14.5" height="9.1" fill="#b9d0f9"/><rect x="309.6" y="164.7" width="14.5" height="9.1" fill="#779af7"/><rect x="323.7" y="164.7" width="14.5" height="9.1" fill="#779af7"/><rect x="337.9" y="164.7" width="14.5" height="9.1" fill="#6282ea"/><rect x="352.0" y="164.7" width="14.5" height="9.1" fill="#779af7"/><rect x="366.2" y="164.7" width="14.5" height="9.1" fill="#ecd3c5"/><rect x="380.3" y="164.7" width="14.5" height="9.1" fill="#8db0fe"/><rect x="394.4" y="164.7" width="14.5" height="9.1" fill="#779af7"/><rect x="408.6" y="164.7" width="14.5" height="9.1" fill="#779af7"/><rect x="422.8" y="164.7" width="14.5" height="9.1" fill="#779af7"/><rect x="436.9" y="164.7" width="14.5" height="9.1" fill="#a3c2fe"/><rect x="451.1" y="164.7" width="14.5" height="9.1" fill="#779af7"/><rect x="465.2" y="164.7" width="14.5" height="9.1" fill="#779af7"/><rect x="479.4" y="164.7" width="14.5" height="9.1" fill="#4e68d8"/><rect x="69.0" y="173.5" width="14.5" height="9.1" fill="#b9d0f9"/><rect x="83.2" y="173.5" width="14.5" height="9.1" fill="#ecd3c5"/><rect x="97.3" y="173.5" width="14.5" height="9.1" fill="#b9d0f9"/><rect x="111.5" y="173.5" width="14.5" height="9.1" fill="#b9d0f9"/><rect x="125.6" y="173.5" width="14.5" height="9.1" fill="#b9d0f9"/><rect x="139.8" y="173.5" width="14.5" height="9.1" fill="#ccd9ed"/><rect x="153.9" y="173.5" width="14.5" height="9.1" fill="#8db0fe"/><rect x="168.1" y="173.5" width="14.5" height="9.1" fill="#8db0fe"/><rect x="182.2" y="173.5" width="14.5" height="9.1" fill="#779af7"/><rect x="196.4" y="173.5" width="14.5" height="9.1" fill="#8db0fe"/><rect x="210.5" y="173.5" width="14.5" height="9.1" fill="#779af7"/><rect x="224.7" y="173.5" width="14.5" height="9.1" fill="#b9d0f9"/><rect x="238.8" y="173.5" width="14.5" height="9.1" fill="#b9d0f9"/><rect x="253.0" y="173.5" width="14.5" height="9.1" fill="#8db0fe"/><rect x="267.1" y="173.5" width="14.5" height="9.1" fill="#ccd9ed"/><rect x="281.2" y="173.5" width="14.5" height="9.1" fill="#b9d0f9"/><rect x="295.4" y="173.5" width="14.5" height="9.1" fill="#b9d0f9"/><rect x="309.6" y="173.5" width="14.5" height="9.1" fill="#8db0fe"/><rect x="323.7" y="173.5" width="14.5" height="9.1" fill="#779af7"/><rect x="337.9" y="173.5" width="14.5" height="9.1" fill="#779af7"/><rect x="352.0" y="173.5" width="14.5" height="9.1" fill="#779af7"/><rect x="366.2" y="173.5" width="14.5" height="9.1" fill="#8db0fe"/><rect x="380.3" y="173.5" width="14.5" height="9.1" fill="#8db0fe"/><rect x="394.4" y="173.5" width="14.5" height="9.1" fill="#b9d0f9"/><rect x="408.6" y="173.5" width="14.5" height="9.1" fill="#779af7"/><rect x="422.8" y="173.5" width="14.5" height="9.1" fill="#8db0fe"/><rect x="436.9" y="173.5" width="14.5" height="9.1" fill="#779af7"/><rect x="451.1" y="173.5" width="14.5" height="9.1" fill="#779af7"/><rect x="465.2" y="173.5" width="14.5" height="9.1" fill="#779af7"/><rect x="479.4" y="173.5" width="14.5" height="9.1" fill="#779af7"/><rect x="69.0" y="182.3" width="14.5" height="9.1" fill="#ccd9ed"/><rect x="83.2" y="182.3" width="14.5" height="9.1" fill="#b9d0f9"/><rect x="97.3" y="182.3" width="14.5" height="9.1" fill="#8db0fe"/><rect x="111.5" y="182.3" width="14.5" height="9.1" fill="#ecd3c5"/><rect x="125.6" y="182.3" width="14.5" height="9.1" fill="#779af7"/><rect x="139.8" y="182.3" width="14.5" height="9.1" fill="#ccd9ed"/><rect x="153.9" y="182.3" width="14.5" height="9.1" fill="#8db0fe"/><rect x="168.1" y="182.3" width="14.5" height="9.1" fill="#779af7"/><rect x="182.2" y="182.3" width="14.5" height="9.1" fill="#6282ea"/><rect x="196.4" y="182.3" width="14.5" height="9.1" fill="#8db0fe"/><rect x="210.5" y="182.3" width="14.5" height="9.1" fill="#8db0fe"/><rect x="224.7" y="182.3" width="14.5" height="9.1" fill="#ecd3c5"/><rect x="238.8" y="182.3" width="14.5" height="9.1" fill="#b9d0f9"/><rect x="253.0" y="182.3" width="14.5" height="9.1" fill="#b9d0f9"/><rect x="267.1" y="182.3" width="14.5" height="9.1" fill="#ccd9ed"/><rect x="281.2" y="182.3" width="14.5" height="9.1" fill="#b9d0f9"/><rect x="295.4" y="182.3" width="14.5" height="9.1" fill="#ccd9ed"/><rect x="309.6" y="182.3" width="14.5" height="9.1" fill="#b9d0f9"/><rect x="323.7" y="182.3" width="14.5" height="9.1" fill="#8db0fe"/><rect x="337.9" y="182.3" width="14.5" height="9.1" fill="#b9d0f9"/><rect x="352.0" y="182.3" width="14.5" height="9.1" fill="#779af7"/><rect x="366.2" y="182.3" width="14.5" height="9.1" fill="#779af7"/><rect x="380.3" y="182.3" width="14.5" height="9.1" fill="#8db0fe"/><rect x="394.4" y="182.3" width="14.5" height="9.1" fill="#b9d0f9"/><rect x="408.6" y="182.3" width="14.5" height="9.1" fill="#4e68d8"/><rect x="422.8" y="182.3" width="14.5" height="9.1" fill="#4e68d8"/><rect x="436.9" y="182.3" width="14.5" height="9.1" fill="#779af7"/><rect x="451.1" y="182.3" width="14.5" height="9.1" fill="#a3c2fe"/><rect x="465.2" y="182.3" width="14.5" height="9.1" fill="#779af7"/><rect x="479.4" y="182.3" width="14.5" height="9.1" fill="#779af7"/><rect x="69.0" y="191.0" width="14.5" height="9.1" fill="#f7b093"/><rect x="83.2" y="191.0" width="14.5" height="9.1" fill="#eb7d62"/><rect x="97.3" y="191.0" width="14.5" height="9.1" fill="#8db0fe"/><rect x="111.5" y="191.0" width="14.5" height="9.1" fill="#8db0fe"/><rect x="125.6" y="191.0" width="14.5" height="9.1" fill="#8db0fe"/><rect x="139.8" y="191.0" width="14.5" height="9.1" fill="#8db0fe"/><rect x="153.9" y="191.0" width="14.5" height="9.1" fill="#8db0fe"/><rect x="168.1" y="191.0" width="14.5" height="9.1" fill="#8db0fe"/><rect x="182.2" y="191.0" width="14.5" height="9.1" fill="#8db0fe"/><rect x="196.4" y="191.0" width="14.5" height="9.1" fill="#a3c2fe"/><rect x="210.5" y="191.0" width="14.5" height="9.1" fill="#779af7"/><rect x="224.7" y="191.0" width="14.5" height="9.1" fill="#8db0fe"/><rect x="238.8" y="191.0" width="14.5" height="9.1" fill="#eb7d62"/><rect x="253.0" y="191.0" width="14.5" height="9.1" fill="#b9d0f9"/><rect x="267.1" y="191.0" width="14.5" height="9.1" fill="#ccd9ed"/><rect x="281.2" y="191.0" width="14.5" height="9.1" fill="#b9d0f9"/><rect x="295.4" y="191.0" width="14.5" height="9.1" fill="#b9d0f9"/><rect x="309.6" y="191.0" width="14.5" height="9.1" fill="#ccd9ed"/><rect x="323.7" y="191.0" width="14.5" height="9.1" fill="#ecd3c5"/><rect x="337.9" y="191.0" width="14.5" height="9.1" fill="#8db0fe"/><rect x="352.0" y="191.0" width="14.5" height="9.1" fill="#b9d0f9"/><rect x="366.2" y="191.0" width="14.5" height="9.1" fill="#8db0fe"/><rect x="380.3" y="191.0" width="14.5" height="9.1" fill="#b9d0f9"/><rect x="394.4" y="191.0" width="14.5" height="9.1" fill="#8db0fe"/><rect x="408.6" y="191.0" width="14.5" height="9.1" fill="#8db0fe"/><rect x="422.8" y="191.0" width="14.5" height="9.1" fill="#8db0fe"/><rect x="436.9" y="191.0" width="14.5" height="9.1" fill="#779af7"/><rect x="451.1" y="191.0" width="14.5" height="9.1" fill="#8db0fe"/><rect x="465.2" y="191.0" width="14.5" height="9.1" fill="#8db0fe"/><rect x="479.4" y="191.0" width="14.5" height="9.1" fill="#8db0fe"/><rect x="69.0" y="199.8" width="14.5" height="9.1" fill="#6282ea"/><rect x="83.2" y="199.8" width="14.5" height="9.1" fill="#779af7"/><rect x="97.3" y="199.8" width="14.5" height="9.1" fill="#b9d0f9"/><rect x="111.5" y="199.8" width="14.5" height="9.1" fill="#6282ea"/><rect x="125.6" y="199.8" width="14.5" height="9.1" fill="#6282ea"/><rect x="139.8" y="199.8" width="14.5" height="9.1" fill="#6282ea"/><rect x="153.9" y="199.8" width="14.5" height="9.1" fill="#6282ea"/><rect x="168.1" y="199.8" width="14.5" height="9.1" fill="#6282ea"/><rect x="182.2" y="199.8" width="14.5" height="9.1" fill="#6282ea"/><rect x="196.4" y="199.8" width="14.5" height="9.1" fill="#8db0fe"/><rect x="210.5" y="199.8" width="14.5" height="9.1" fill="#779af7"/><rect x="224.7" y="199.8" width="14.5" height="9.1" fill="#779af7"/><rect x="238.8" y="199.8" width="14.5" height="9.1" fill="#779af7"/><rect x="253.0" y="199.8" width="14.5" height="9.1" fill="#779af7"/><rect x="267.1" y="199.8" width="14.5" height="9.1" fill="#779af7"/><rect x="281.2" y="199.8" width="14.5" height="9.1" fill="#b9d0f9"/><rect x="295.4" y="199.8" width="14.5" height="9.1" fill="#779af7"/><rect x="309.6" y="199.8" width="14.5" height="9.1" fill="#779af7"/><rect x="323.7" y="199.8" width="14.5" height="9.1" fill="#779af7"/><rect x="337.9" y="199.8" width="14.5" height="9.1" fill="#779af7"/><rect x="352.0" y="199.8" width="14.5" height="9.1" fill="#779af7"/><rect x="366.2" y="199.8" width="14.5" height="9.1" fill="#4e68d8"/><rect x="380.3" y="199.8" width="14.5" height="9.1" fill="#779af7"/><rect x="394.4" y="199.8" width="14.5" height="9.1" fill="#b9d0f9"/><rect x="408.6" y="199.8" width="14.5" height="9.1" fill="#779af7"/><rect x="422.8" y="199.8" width="14.5" height="9.1" fill="#4e68d8"/><rect x="436.9" y="199.8" width="14.5" height="9.1" fill="#779af7"/><rect x="451.1" y="199.8" width="14.5" height="9.1" fill="#779af7"/><rect x="465.2" y="199.8" width="14.5" height="9.1" fill="#779af7"/><rect x="479.4" y="199.8" width="14.5" height="9.1" fill="#4e68d8"/><rect x="69.0" y="208.6" width="14.5" height="9.1" fill="#ccd9ed"/><rect x="83.2" y="208.6" width="14.5" height="9.1" fill="#f7b093"/><rect x="97.3" y="208.6" width="14.5" height="9.1" fill="#ecd3c5"/><rect x="111.5" y="208.6" width="14.5" height="9.1" fill="#b9d0f9"/><rect x="125.6" y="208.6" width="14.5" height="9.1" fill="#8db0fe"/><rect x="139.8" y="208.6" width="14.5" height="9.1" fill="#b9d0f9"/><rect x="153.9" y="208.6" width="14.5" height="9.1" fill="#779af7"/><rect x="168.1" y="208.6" width="14.5" height="9.1" fill="#8db0fe"/><rect x="182.2" y="208.6" width="14.5" height="9.1" fill="#8db0fe"/><rect x="196.4" y="208.6" width="14.5" height="9.1" fill="#6282ea"/><rect x="210.5" y="208.6" width="14.5" height="9.1" fill="#8db0fe"/><rect x="224.7" y="208.6" width="14.5" height="9.1" fill="#8db0fe"/><rect x="238.8" y="208.6" width="14.5" height="9.1" fill="#ecd3c5"/><rect x="253.0" y="208.6" width="14.5" height="9.1" fill="#8db0fe"/><rect x="267.1" y="208.6" width="14.5" height="9.1" fill="#b9d0f9"/><rect x="281.2" y="208.6" width="14.5" height="9.1" fill="#b9d0f9"/><rect x="295.4" y="208.6" width="14.5" height="9.1" fill="#8db0fe"/><rect x="309.6" y="208.6" width="14.5" height="9.1" fill="#b9d0f9"/><rect x="323.7" y="208.6" width="14.5" height="9.1" fill="#779af7"/><rect x="337.9" y="208.6" width="14.5" height="9.1" fill="#8db0fe"/><rect x="352.0" y="208.6" width="14.5" height="9.1" fill="#ecd3c5"/><rect x="366.2" y="208.6" width="14.5" height="9.1" fill="#b9d0f9"/><rect x="380.3" y="208.6" width="14.5" height="9.1" fill="#8db0fe"/><rect x="394.4" y="208.6" width="14.5" height="9.1" fill="#8db0fe"/><rect x="408.6" y="208.6" width="14.5" height="9.1" fill="#8db0fe"/><rect x="422.8" y="208.6" width="14.5" height="9.1" fill="#8db0fe"/><rect x="436.9" y="208.6" width="14.5" height="9.1" fill="#779af7"/><rect x="451.1" y="208.6" width="14.5" height="9.1" fill="#779af7"/><rect x="465.2" y="208.6" width="14.5" height="9.1" fill="#779af7"/><rect x="479.4" y="208.6" width="14.5" height="9.1" fill="#8db0fe"/><rect x="69.0" y="217.4" width="14.5" height="9.1" fill="#eb7d62"/><rect x="83.2" y="217.4" width="14.5" height="9.1" fill="#b9d0f9"/><rect x="97.3" y="217.4" width="14.5" height="9.1" fill="#4e68d8"/><rect x="111.5" y="217.4" width="14.5" height="9.1" fill="#b9d0f9"/><rect x="125.6" y="217.4" width="14.5" height="9.1" fill="#6282ea"/><rect x="139.8" y="217.4" width="14.5" height="9.1" fill="#4e68d8"/><rect x="153.9" y="217.4" width="14.5" height="9.1" fill="#779af7"/><rect x="168.1" y="217.4" width="14.5" height="9.1" fill="#8db0fe"/><rect x="182.2" y="217.4" width="14.5" height="9.1" fill="#779af7"/><rect x="196.4" y="217.4" width="14.5" height="9.1" fill="#779af7"/><rect x="210.5" y="217.4" width="14.5" height="9.1" fill="#b9d0f9"/><rect x="224.7" y="217.4" width="14.5" height="9.1" fill="#779af7"/><rect x="238.8" y="217.4" width="14.5" height="9.1" fill="#b9d0f9"/><rect x="253.0" y="217.4" width="14.5" height="9.1" fill="#8db0fe"/><rect x="267.1" y="217.4" width="14.5" height="9.1" fill="#8db0fe"/><rect x="281.2" y="217.4" width="14.5" height="9.1" fill="#8db0fe"/><rect x="295.4" y="217.4" width="14.5" height="9.1" fill="#ecd3c5"/><rect x="309.6" y="217.4" width="14.5" height="9.1" fill="#8db0fe"/><rect x="323.7" y="217.4" width="14.5" height="9.1" fill="#4e68d8"/><rect x="337.9" y="217.4" width="14.5" height="9.1" fill="#b40426"/><rect x="352.0" y="217.4" width="14.5" height="9.1" fill="#779af7"/><rect x="366.2" y="217.4" width="14.5" height="9.1" fill="#b9d0f9"/><rect x="380.3" y="217.4" width="14.5" height="9.1" fill="#779af7"/><rect x="394.4" y="217.4" width="14.5" height="9.1" fill="#779af7"/><rect x="408.6" y="217.4" width="14.5" height="9.1" fill="#779af7"/><rect x="422.8" y="217.4" width="14.5" height="9.1" fill="#779af7"/><rect x="436.9" y="217.4" width="14.5" height="9.1" fill="#4e68d8"/><rect x="451.1" y="217.4" width="14.5" height="9.1" fill="#779af7"/><rect x="465.2" y="217.4" width="14.5" height="9.1" fill="#4e68d8"/><rect x="479.4" y="217.4" width="14.5" height="9.1" fill="#8db0fe"/><rect x="69.0" y="226.2" width="14.5" height="9.1" fill="#b9d0f9"/><rect x="83.2" y="226.2" width="14.5" height="9.1" fill="#ecd3c5"/><rect x="97.3" y="226.2" width="14.5" height="9.1" fill="#b9d0f9"/><rect x="111.5" y="226.2" width="14.5" height="9.1" fill="#ccd9ed"/><rect x="125.6" y="226.2" width="14.5" height="9.1" fill="#b9d0f9"/><rect x="139.8" y="226.2" width="14.5" height="9.1" fill="#b9d0f9"/><rect x="153.9" y="226.2" width="14.5" height="9.1" fill="#b9d0f9"/><rect x="168.1" y="226.2" width="14.5" height="9.1" fill="#8db0fe"/><rect x="182.2" y="226.2" width="14.5" height="9.1" fill="#8db0fe"/><rect x="196.4" y="226.2" width="14.5" height="9.1" fill="#779af7"/><rect x="210.5" y="226.2" width="14.5" height="9.1" fill="#8db0fe"/><rect x="224.7" y="226.2" width="14.5" height="9.1" fill="#b9d0f9"/><rect x="238.8" y="226.2" width="14.5" height="9.1" fill="#b9d0f9"/><rect x="253.0" y="226.2" width="14.5" height="9.1" fill="#b9d0f9"/><rect x="267.1" y="226.2" width="14.5" height="9.1" fill="#ecd3c5"/><rect x="281.2" y="226.2" width="14.5" height="9.1" fill="#ecd3c5"/><rect x="295.4" y="226.2" width="14.5" height="9.1" fill="#b9d0f9"/><rect x="309.6" y="226.2" width="14.5" height="9.1" fill="#b9d0f9"/><rect x="323.7" y="226.2" width="14.5" height="9.1" fill="#779af7"/><rect x="337.9" y="226.2" width="14.5" height="9.1" fill="#8db0fe"/><rect x="352.0" y="226.2" width="14.5" height="9.1" fill="#8db0fe"/><rect x="366.2" y="226.2" width="14.5" height="9.1" fill="#b9d0f9"/><rect x="380.3" y="226.2" width="14.5" height="9.1" fill="#b9d0f9"/><rect x="394.4" y="226.2" width="14.5" height="9.1" fill="#b9d0f9"/><rect x="408.6" y="226.2" width="14.5" height="9.1" fill="#8db0fe"/><rect x="422.8" y="226.2" width="14.5" height="9.1" fill="#8db0fe"/><rect x="436.9" y="226.2" width="14.5" height="9.1" fill="#8db0fe"/><rect x="451.1" y="226.2" width="14.5" height="9.1" fill="#779af7"/><rect x="465.2" y="226.2" width="14.5" height="9.1" fill="#a3c2fe"/><rect x="479.4" y="226.2" width="14.5" height="9.1" fill="#779af7"/><rect x="69.0" y="234.9" width="14.5" height="9.1" fill="#b9d0f9"/><rect x="83.2" y="234.9" width="14.5" height="9.1" fill="#b9d0f9"/><rect x="97.3" y="234.9" width="14.5" height="9.1" fill="#b9d0f9"/><rect x="111.5" y="234.9" width="14.5" height="9.1" fill="#b9d0f9"/><rect x="125.6" y="234.9" width="14.5" height="9.1" fill="#8db0fe"/><rect x="139.8" y="234.9" width="14.5" height="9.1" fill="#b9d0f9"/><rect x="153.9" y="234.9" width="14.5" height="9.1" fill="#8db0fe"/><rect x="168.1" y="234.9" width="14.5" height="9.1" fill="#f7b093"/><rect x="182.2" y="234.9" width="14.5" height="9.1" fill="#779af7"/><rect x="196.4" y="234.9" width="14.5" height="9.1" fill="#8db0fe"/><rect x="210.5" y="234.9" width="14.5" height="9.1" fill="#8db0fe"/><rect x="224.7" y="234.9" width="14.5" height="9.1" fill="#8db0fe"/><rect x="238.8" y="234.9" width="14.5" height="9.1" fill="#b9d0f9"/><rect x="253.0" y="234.9" width="14.5" height="9.1" fill="#8db0fe"/><rect x="267.1" y="234.9" width="14.5" height="9.1" fill="#b9d0f9"/><rect x="281.2" y="234.9" width="14.5" height="9.1" fill="#b9d0f9"/><rect x="295.4" y="234.9" width="14.5" height="9.1" fill="#8db0fe"/><rect x="309.6" y="234.9" width="14.5" height="9.1" fill="#b9d0f9"/><rect x="323.7" y="234.9" width="14.5" height="9.1" fill="#779af7"/><rect x="337.9" y="234.9" width="14.5" height="9.1" fill="#8db0fe"/><rect x="352.0" y="234.9" width="14.5" height="9.1" fill="#779af7"/><rect x="366.2" y="234.9" width="14.5" height="9.1" fill="#779af7"/><rect x="380.3" y="234.9" width="14.5" height="9.1" fill="#8db0fe"/><rect x="394.4" y="234.9" width="14.5" height="9.1" fill="#8db0fe"/><rect x="408.6" y="234.9" width="14.5" height="9.1" fill="#ccd9ed"/><rect x="422.8" y="234.9" width="14.5" height="9.1" fill="#f7b093"/><rect x="436.9" y="234.9" width="14.5" height="9.1" fill="#779af7"/><rect x="451.1" y="234.9" width="14.5" height="9.1" fill="#779af7"/><rect x="465.2" y="234.9" width="14.5" height="9.1" fill="#4e68d8"/><rect x="479.4" y="234.9" width="14.5" height="9.1" fill="#8db0fe"/><rect x="69.0" y="243.7" width="14.5" height="9.1" fill="#ecd3c5"/><rect x="83.2" y="243.7" width="14.5" height="9.1" fill="#ecd3c5"/><rect x="97.3" y="243.7" width="14.5" height="9.1" fill="#b9d0f9"/><rect x="111.5" y="243.7" width="14.5" height="9.1" fill="#b9d0f9"/><rect x="125.6" y="243.7" width="14.5" height="9.1" fill="#6282ea"/><rect x="139.8" y="243.7" width="14.5" height="9.1" fill="#b9d0f9"/><rect x="153.9" y="243.7" width="14.5" height="9.1" fill="#8db0fe"/><rect x="168.1" y="243.7" width="14.5" height="9.1" fill="#8db0fe"/><rect x="182.2" y="243.7" width="14.5" height="9.1" fill="#779af7"/><rect x="196.4" y="243.7" width="14.5" height="9.1" fill="#8db0fe"/><rect x="210.5" y="243.7" width="14.5" height="9.1" fill="#779af7"/><rect x="224.7" y="243.7" width="14.5" height="9.1" fill="#8db0fe"/><rect x="238.8" y="243.7" width="14.5" height="9.1" fill="#f7b093"/><rect x="253.0" y="243.7" width="14.5" height="9.1" fill="#8db0fe"/><rect x="267.1" y="243.7" width="14.5" height="9.1" fill="#8db0fe"/><rect x="281.2" y="243.7" width="14.5" height="9.1" fill="#b9d0f9"/><rect x="295.4" y="243.7" width="14.5" height="9.1" fill="#8db0fe"/><rect x="309.6" y="243.7" width="14.5" height="9.1" fill="#8db0fe"/><rect x="323.7" y="243.7" width="14.5" height="9.1" fill="#8db0fe"/><rect x="337.9" y="243.7" width="14.5" height="9.1" fill="#ecd3c5"/><rect x="352.0" y="243.7" width="14.5" height="9.1" fill="#779af7"/><rect x="366.2" y="243.7" width="14.5" height="9.1" fill="#8db0fe"/><rect x="380.3" y="243.7" width="14.5" height="9.1" fill="#8db0fe"/><rect x="394.4" y="243.7" width="14.5" height="9.1" fill="#8db0fe"/><rect x="408.6" y="243.7" width="14.5" height="9.1" fill="#8db0fe"/><rect x="422.8" y="243.7" width="14.5" height="9.1" fill="#8db0fe"/><rect x="436.9" y="243.7" width="14.5" height="9.1" fill="#779af7"/><rect x="451.1" y="243.7" width="14.5" height="9.1" fill="#779af7"/><rect x="465.2" y="243.7" width="14.5" height="9.1" fill="#8db0fe"/><rect x="479.4" y="243.7" width="14.5" height="9.1" fill="#779af7"/><rect x="69.0" y="252.5" width="14.5" height="9.1" fill="#8db0fe"/><rect x="83.2" y="252.5" width="14.5" height="9.1" fill="#ccd9ed"/><rect x="97.3" y="252.5" width="14.5" height="9.1" fill="#b9d0f9"/><rect x="111.5" y="252.5" width="14.5" height="9.1" fill="#8db0fe"/><rect x="125.6" y="252.5" width="14.5" height="9.1" fill="#8db0fe"/><rect x="139.8" y="252.5" width="14.5" height="9.1" fill="#b9d0f9"/><rect x="153.9" y="252.5" width="14.5" height="9.1" fill="#8db0fe"/><rect x="168.1" y="252.5" width="14.5" height="9.1" fill="#6282ea"/><rect x="182.2" y="252.5" width="14.5" height="9.1" fill="#ccd9ed"/><rect x="196.4" y="252.5" width="14.5" height="9.1" fill="#779af7"/><rect x="210.5" y="252.5" width="14.5" height="9.1" fill="#8db0fe"/><rect x="224.7" y="252.5" width="14.5" height="9.1" fill="#8db0fe"/><rect x="238.8" y="252.5" width="14.5" height="9.1" fill="#8db0fe"/><rect x="253.0" y="252.5" width="14.5" height="9.1" fill="#8db0fe"/><rect x="267.1" y="252.5" width="14.5" height="9.1" fill="#8db0fe"/><rect x="281.2" y="252.5" width="14.5" height="9.1" fill="#b9d0f9"/><rect x="295.4" y="252.5" width="14.5" height="9.1" fill="#779af7"/><rect x="309.6" y="252.5" width="14.5" height="9.1" fill="#8db0fe"/><rect x="323.7" y="252.5" width="14.5" height="9.1" fill="#b9d0f9"/><rect x="337.9" y="252.5" width="14.5" height="9.1" fill="#779af7"/><rect x="352.0" y="252.5" width="14.5" height="9.1" fill="#779af7"/><rect x="366.2" y="252.5" width="14.5" height="9.1" fill="#8db0fe"/><rect x="380.3" y="252.5" width="14.5" height="9.1" fill="#779af7"/><rect x="394.4" y="252.5" width="14.5" height="9.1" fill="#779af7"/><rect x="408.6" y="252.5" width="14.5" height="9.1" fill="#4e68d8"/><rect x="422.8" y="252.5" width="14.5" height="9.1" fill="#779af7"/><rect x="436.9" y="252.5" width="14.5" height="9.1" fill="#779af7"/><rect x="451.1" y="252.5" width="14.5" height="9.1" fill="#779af7"/><rect x="465.2" y="252.5" width="14.5" height="9.1" fill="#779af7"/><rect x="479.4" y="252.5" width="14.5" height="9.1" fill="#8db0fe"/><rect x="69.0" y="261.3" width="14.5" height="9.1" fill="#4e68d8"/><rect x="83.2" y="261.3" width="14.5" height="9.1" fill="#4e68d8"/><rect x="97.3" y="261.3" width="14.5" height="9.1" fill="#8db0fe"/><rect x="111.5" y="261.3" width="14.5" height="9.1" fill="#779af7"/><rect x="125.6" y="261.3" width="14.5" height="9.1" fill="#8db0fe"/><rect x="139.8" y="261.3" width="14.5" height="9.1" fill="#8db0fe"/><rect x="153.9" y="261.3" width="14.5" height="9.1" fill="#779af7"/><rect x="168.1" y="261.3" width="14.5" height="9.1" fill="#6282ea"/><rect x="182.2" y="261.3" width="14.5" height="9.1" fill="#6282ea"/><rect x="196.4" y="261.3" width="14.5" height="9.1" fill="#779af7"/><rect x="210.5" y="261.3" width="14.5" height="9.1" fill="#779af7"/><rect x="224.7" y="261.3" width="14.5" height="9.1" fill="#6282ea"/><rect x="238.8" y="261.3" width="14.5" height="9.1" fill="#6282ea"/><rect x="253.0" y="261.3" width="14.5" height="9.1" fill="#779af7"/><rect x="267.1" y="261.3" width="14.5" height="9.1" fill="#779af7"/><rect x="281.2" y="261.3" width="14.5" height="9.1" fill="#6282ea"/><rect x="295.4" y="261.3" width="14.5" height="9.1" fill="#6282ea"/><rect x="309.6" y="261.3" width="14.5" height="9.1" fill="#779af7"/><rect x="323.7" y="261.3" width="14.5" height="9.1" fill="#6282ea"/><rect x="337.9" y="261.3" width="14.5" height="9.1" fill="#6282ea"/><rect x="352.0" y="261.3" width="14.5" height="9.1" fill="#779af7"/><rect x="366.2" y="261.3" width="14.5" height="9.1" fill="#4e68d8"/><rect x="380.3" y="261.3" width="14.5" height="9.1" fill="#779af7"/><rect x="394.4" y="261.3" width="14.5" height="9.1" fill="#779af7"/><rect x="408.6" y="261.3" width="14.5" height="9.1" fill="#4e68d8"/><rect x="422.8" y="261.3" width="14.5" height="9.1" fill="#779af7"/><rect x="436.9" y="261.3" width="14.5" height="9.1" fill="#779af7"/><rect x="451.1" y="261.3" width="14.5" height="9.1" fill="#4e68d8"/><rect x="465.2" y="261.3" width="14.5" height="9.1" fill="#779af7"/><rect x="479.4" y="261.3" width="14.5" height="9.1" fill="#779af7"/><rect x="69.0" y="270.1" width="14.5" height="9.1" fill="#b9d0f9"/><rect x="83.2" y="270.1" width="14.5" height="9.1" fill="#ccd9ed"/><rect x="97.3" y="270.1" width="14.5" height="9.1" fill="#b9d0f9"/><rect x="111.5" y="270.1" width="14.5" height="9.1" fill="#ccd9ed"/><rect x="125.6" y="270.1" width="14.5" height="9.1" fill="#8db0fe"/><rect x="139.8" y="270.1" width="14.5" height="9.1" fill="#b9d0f9"/><rect x="153.9" y="270.1" width="14.5" height="9.1" fill="#b9d0f9"/><rect x="168.1" y="270.1" width="14.5" height="9.1" fill="#8db0fe"/><rect x="182.2" y="270.1" width="14.5" height="9.1" fill="#8db0fe"/><rect x="196.4" y="270.1" width="14.5" height="9.1" fill="#b9d0f9"/><rect x="210.5" y="270.1" width="14.5" height="9.1" fill="#8db0fe"/><rect x="224.7" y="270.1" width="14.5" height="9.1" fill="#b9d0f9"/><rect x="238.8" y="270.1" width="14.5" height="9.1" fill="#b9d0f9"/><rect x="253.0" y="270.1" width="14.5" height="9.1" fill="#b9d0f9"/><rect x="267.1" y="270.1" width="14.5" height="9.1" fill="#ccd9ed"/><rect x="281.2" y="270.1" width="14.5" height="9.1" fill="#ccd9ed"/><rect x="295.4" y="270.1" width="14.5" height="9.1" fill="#8db0fe"/><rect x="309.6" y="270.1" width="14.5" height="9.1" fill="#b9d0f9"/><rect x="323.7" y="270.1" width="14.5" height="9.1" fill="#8db0fe"/><rect x="337.9" y="270.1" width="14.5" height="9.1" fill="#b9d0f9"/><rect x="352.0" y="270.1" width="14.5" height="9.1" fill="#8db0fe"/><rect x="366.2" y="270.1" width="14.5" height="9.1" fill="#8db0fe"/><rect x="380.3" y="270.1" width="14.5" height="9.1" fill="#b9d0f9"/><rect x="394.4" y="270.1" width="14.5" height="9.1" fill="#b9d0f9"/><rect x="408.6" y="270.1" width="14.5" height="9.1" fill="#779af7"/><rect x="422.8" y="270.1" width="14.5" height="9.1" fill="#779af7"/><rect x="436.9" y="270.1" width="14.5" height="9.1" fill="#8db0fe"/><rect x="451.1" y="270.1" width="14.5" height="9.1" fill="#8db0fe"/><rect x="465.2" y="270.1" width="14.5" height="9.1" fill="#779af7"/><rect x="479.4" y="270.1" width="14.5" height="9.1" fill="#8db0fe"/><rect x="69.0" y="278.8" width="14.5" height="9.1" fill="#b9d0f9"/><rect x="83.2" y="278.8" width="14.5" height="9.1" fill="#b9d0f9"/><rect x="97.3" y="278.8" width="14.5" height="9.1" fill="#8db0fe"/><rect x="111.5" y="278.8" width="14.5" height="9.1" fill="#8db0fe"/><rect x="125.6" y="278.8" width="14.5" height="9.1" fill="#779af7"/><rect x="139.8" y="278.8" width="14.5" height="9.1" fill="#779af7"/><rect x="153.9" y="278.8" width="14.5" height="9.1" fill="#779af7"/><rect x="168.1" y="278.8" width="14.5" height="9.1" fill="#8db0fe"/><rect x="182.2" y="278.8" width="14.5" height="9.1" fill="#6282ea"/><rect x="196.4" y="278.8" width="14.5" height="9.1" fill="#779af7"/><rect x="210.5" y="278.8" width="14.5" height="9.1" fill="#6282ea"/><rect x="224.7" y="278.8" width="14.5" height="9.1" fill="#6282ea"/><rect x="238.8" y="278.8" width="14.5" height="9.1" fill="#8db0fe"/><rect x="253.0" y="278.8" width="14.5" height="9.1" fill="#6282ea"/><rect x="267.1" y="278.8" width="14.5" height="9.1" fill="#6282ea"/><rect x="281.2" y="278.8" width="14.5" height="9.1" fill="#8db0fe"/><rect x="295.4" y="278.8" width="14.5" height="9.1" fill="#b9d0f9"/><rect x="309.6" y="278.8" width="14.5" height="9.1" fill="#6282ea"/><rect x="323.7" y="278.8" width="14.5" height="9.1" fill="#8db0fe"/><rect x="337.9" y="278.8" width="14.5" height="9.1" fill="#b9d0f9"/><rect x="352.0" y="278.8" width="14.5" height="9.1" fill="#779af7"/><rect x="366.2" y="278.8" width="14.5" height="9.1" fill="#779af7"/><rect x="380.3" y="278.8" width="14.5" height="9.1" fill="#779af7"/><rect x="394.4" y="278.8" width="14.5" height="9.1" fill="#779af7"/><rect x="408.6" y="278.8" width="14.5" height="9.1" fill="#779af7"/><rect x="422.8" y="278.8" width="14.5" height="9.1" fill="#779af7"/><rect x="436.9" y="278.8" width="14.5" height="9.1" fill="#779af7"/><rect x="451.1" y="278.8" width="14.5" height="9.1" fill="#779af7"/><rect x="465.2" y="278.8" width="14.5" height="9.1" fill="#4e68d8"/><rect x="479.4" y="278.8" width="14.5" height="9.1" fill="#8db0fe"/><rect x="69.0" y="287.6" width="14.5" height="9.1" fill="#779af7"/><rect x="83.2" y="287.6" width="14.5" height="9.1" fill="#779af7"/><rect x="97.3" y="287.6" width="14.5" height="9.1" fill="#8db0fe"/><rect x="111.5" y="287.6" width="14.5" height="9.1" fill="#8db0fe"/><rect x="125.6" y="287.6" width="14.5" height="9.1" fill="#b9d0f9"/><rect x="139.8" y="287.6" width="14.5" height="9.1" fill="#8db0fe"/><rect x="153.9" y="287.6" width="14.5" height="9.1" fill="#779af7"/><rect x="168.1" y="287.6" width="14.5" height="9.1" fill="#f7b093"/><rect x="182.2" y="287.6" width="14.5" height="9.1" fill="#779af7"/><rect x="196.4" y="287.6" width="14.5" height="9.1" fill="#8db0fe"/><rect x="210.5" y="287.6" width="14.5" height="9.1" fill="#8db0fe"/><rect x="224.7" y="287.6" width="14.5" height="9.1" fill="#8db0fe"/><rect x="238.8" y="287.6" width="14.5" height="9.1" fill="#8db0fe"/><rect x="253.0" y="287.6" width="14.5" height="9.1" fill="#8db0fe"/><rect x="267.1" y="287.6" width="14.5" height="9.1" fill="#b9d0f9"/><rect x="281.2" y="287.6" width="14.5" height="9.1" fill="#8db0fe"/><rect x="295.4" y="287.6" width="14.5" height="9.1" fill="#8db0fe"/><rect x="309.6" y="287.6" width="14.5" height="9.1" fill="#b9d0f9"/><rect x="323.7" y="287.6" width="14.5" height="9.1" fill="#8db0fe"/><rect x="337.9" y="287.6" width="14.5" height="9.1" fill="#779af7"/><rect x="352.0" y="287.6" width="14.5" height="9.1" fill="#779af7"/><rect x="366.2" y="287.6" width="14.5" height="9.1" fill="#779af7"/><rect x="380.3" y="287.6" width="14.5" height="9.1" fill="#8db0fe"/><rect x="394.4" y="287.6" width="14.5" height="9.1" fill="#8db0fe"/><rect x="408.6" y="287.6" width="14.5" height="9.1" fill="#ccd9ed"/><rect x="422.8" y="287.6" width="14.5" height="9.1" fill="#f4987a"/><rect x="436.9" y="287.6" width="14.5" height="9.1" fill="#779af7"/><rect x="451.1" y="287.6" width="14.5" height="9.1" fill="#779af7"/><rect x="465.2" y="287.6" width="14.5" height="9.1" fill="#779af7"/><rect x="479.4" y="287.6" width="14.5" height="9.1" fill="#8db0fe"/></g>
<path d="M74.92 35.44L77.23 37.74M74.92 37.74L77.23 35.44M89.07 35.44L91.38 37.74M89.07 37.74L91.38 35.44M103.22 35.44L105.53 37.74M103.22 37.74L105.53 35.44M145.67 35.44L147.97 37.74M145.67 37.74L147.97 35.44M244.72 35.44L247.03 37.74M244.72 37.74L247.03 35.44M258.88 35.44L261.17 37.74M258.88 37.74L261.17 35.44M273.03 35.44L275.32 37.74M273.03 37.74L275.32 35.44M287.18 35.44L289.48 37.74M287.18 37.74L289.48 35.44M301.33 35.44L303.62 37.74M301.33 37.74L303.62 35.44M315.48 35.44L317.77 37.74M315.48 37.74L317.77 35.44M343.78 35.44L346.07 37.74M343.78 37.74L346.07 35.44M372.08 35.44L374.38 37.74M372.08 37.74L374.38 35.44M89.07 44.22L91.38 46.52M89.07 46.52L91.38 44.22M103.22 44.22L105.53 46.52M103.22 46.52L105.53 44.22M202.28 44.22L204.58 46.52M202.28 46.52L204.58 44.22M244.72 44.22L247.03 46.52M244.72 46.52L247.03 44.22M287.18 44.22L289.48 46.52M287.18 46.52L289.48 44.22M315.48 44.22L317.77 46.52M315.48 46.52L317.77 44.22M386.23 44.22L388.52 46.52M386.23 46.52L388.52 44.22M400.38 44.22L402.68 46.52M400.38 46.52L402.68 44.22M74.92 53.00L77.23 55.30M74.92 55.30L77.23 53.00M89.07 53.00L91.38 55.30M89.07 55.30L91.38 53.00M103.22 53.00L105.53 55.30M103.22 55.30L105.53 53.00M117.38 53.00L119.68 55.30M117.38 55.30L119.68 53.00M230.57 53.00L232.88 55.30M230.57 55.30L232.88 53.00M244.72 53.00L247.03 55.30M244.72 55.30L247.03 53.00M258.88 53.00L261.17 55.30M258.88 55.30L261.17 53.00M273.03 53.00L275.32 55.30M273.03 55.30L275.32 53.00M287.18 53.00L289.48 55.30M287.18 55.30L289.48 53.00M301.33 53.00L303.62 55.30M301.33 55.30L303.62 53.00M315.48 53.00L317.77 55.30M315.48 55.30L317.77 53.00M343.78 53.00L346.07 55.30M343.78 55.30L346.07 53.00M372.08 53.00L374.38 55.30M372.08 55.30L374.38 53.00M414.53 53.00L416.82 55.30M414.53 55.30L416.82 53.00M74.92 61.78L77.23 64.08M74.92 64.08L77.23 61.78M89.07 61.78L91.38 64.08M89.07 64.08L91.38 61.78M103.22 61.78L105.53 64.08M103.22 64.08L105.53 61.78M117.38 61.78L119.68 64.08M117.38 64.08L119.68 61.78M131.53 61.78L133.83 64.08M131.53 64.08L133.83 61.78M216.43 61.78L218.73 64.08M216.43 64.08L218.73 61.78M230.57 61.78L232.88 64.08M230.57 64.08L232.88 61.78M244.72 61.78L247.03 64.08M244.72 64.08L247.03 61.78M273.03 61.78L275.32 64.08M273.03 64.08L275.32 61.78M287.18 61.78L289.48 64.08M287.18 64.08L289.48 61.78M301.33 61.78L303.62 64.08M301.33 64.08L303.62 61.78M315.48 61.78L317.77 64.08M315.48 64.08L317.77 61.78M343.78 61.78L346.07 64.08M343.78 64.08L346.07 61.78M372.08 61.78L374.38 64.08M372.08 64.08L374.38 61.78M74.92 70.56L77.23 72.86M74.92 72.86L77.23 70.56M89.07 70.56L91.38 72.86M89.07 72.86L91.38 70.56M103.22 70.56L105.53 72.86M103.22 72.86L105.53 70.56M117.38 70.56L119.68 72.86M117.38 72.86L119.68 70.56M159.83 70.56L162.13 72.86M159.83 72.86L162.13 70.56M173.97 70.56L176.28 72.86M173.97 72.86L176.28 70.56M202.28 70.56L204.58 72.86M202.28 72.86L204.58 70.56M230.57 70.56L232.88 72.86M230.57 72.86L232.88 70.56M244.72 70.56L247.03 72.86M244.72 72.86L247.03 70.56M258.88 70.56L261.17 72.86M258.88 72.86L261.17 70.56M273.03 70.56L275.32 72.86M273.03 72.86L275.32 70.56M287.18 70.56L289.48 72.86M287.18 72.86L289.48 70.56M301.33 70.56L303.62 72.86M301.33 72.86L303.62 70.56M315.48 70.56L317.77 72.86M315.48 72.86L317.77 70.56M357.93 70.56L360.22 72.86M357.93 72.86L360.22 70.56M386.23 70.56L388.52 72.86M386.23 72.86L388.52 70.56M428.68 70.56L430.97 72.86M428.68 72.86L430.97 70.56M74.92 79.34L77.23 81.64M74.92 81.64L77.23 79.34M89.07 79.34L91.38 81.64M89.07 81.64L91.38 79.34M173.97 79.34L176.28 81.64M173.97 81.64L176.28 79.34M188.12 79.34L190.43 81.64M188.12 81.64L190.43 79.34M244.72 79.34L247.03 81.64M244.72 81.64L247.03 79.34M258.88 79.34L261.17 81.64M258.88 81.64L261.17 79.34M273.03 79.34L275.32 81.64M273.03 81.64L275.32 79.34M301.33 79.34L303.62 81.64M301.33 81.64L303.62 79.34M315.48 79.34L317.77 81.64M315.48 81.64L317.77 79.34M357.93 79.34L360.22 81.64M357.93 81.64L360.22 79.34M372.08 79.34L374.38 81.64M372.08 81.64L374.38 79.34M400.38 79.34L402.68 81.64M400.38 81.64L402.68 79.34M74.92 88.12L77.23 90.42M74.92 90.42L77.23 88.12M89.07 88.12L91.38 90.42M89.07 90.42L91.38 88.12M103.22 88.12L105.53 90.42M103.22 90.42L105.53 88.12M117.38 88.12L119.68 90.42M117.38 90.42L119.68 88.12M131.53 88.12L133.83 90.42M131.53 90.42L133.83 88.12M145.67 88.12L147.97 90.42M145.67 90.42L147.97 88.12M216.43 88.12L218.73 90.42M216.43 90.42L218.73 88.12M230.57 88.12L232.88 90.42M230.57 90.42L232.88 88.12M244.72 88.12L247.03 90.42M244.72 90.42L247.03 88.12M258.88 88.12L261.17 90.42M258.88 90.42L261.17 88.12M273.03 88.12L275.32 90.42M273.03 90.42L275.32 88.12M287.18 88.12L289.48 90.42M287.18 90.42L289.48 88.12M301.33 88.12L303.62 90.42M301.33 90.42L303.62 88.12M315.48 88.12L317.77 90.42M315.48 90.42L317.77 88.12M372.08 88.12L374.38 90.42M372.08 90.42L374.38 88.12M386.23 88.12L388.52 90.42M386.23 90.42L388.52 88.12M400.38 88.12L402.68 90.42M400.38 90.42L402.68 88.12M428.68 88.12L430.97 90.42M428.68 90.42L430.97 88.12M131.53 96.90L133.83 99.20M131.53 99.20L133.83 96.90M145.67 96.90L147.97 99.20M145.67 99.20L147.97 96.90M216.43 96.90L218.73 99.20M216.43 99.20L218.73 96.90M74.92 105.68L77.23 107.98M74.92 107.98L77.23 105.68M89.07 105.68L91.38 107.98M89.07 107.98L91.38 105.68M103.22 105.68L105.53 107.98M103.22 107.98L105.53 105.68M117.38 105.68L119.68 107.98M117.38 107.98L119.68 105.68M145.67 105.68L147.97 107.98M145.67 107.98L147.97 105.68M159.83 105.68L162.13 107.98M159.83 107.98L162.13 105.68M244.72 105.68L247.03 107.98M244.72 107.98L247.03 105.68M258.88 105.68L261.17 107.98M258.88 107.98L261.17 105.68M273.03 105.68L275.32 107.98M273.03 107.98L275.32 105.68M287.18 105.68L289.48 107.98M287.18 107.98L289.48 105.68M301.33 105.68L303.62 107.98M301.33 107.98L303.62 105.68M315.48 105.68L317.77 107.98M315.48 107.98L317.77 105.68M329.63 105.68L331.93 107.98M329.63 107.98L331.93 105.68M343.78 105.68L346.07 107.98M343.78 107.98L346.07 105.68M74.92 114.46L77.23 116.76M74.92 116.76L77.23 114.46M89.07 114.46L91.38 116.76M89.07 116.76L91.38 114.46M117.38 114.46L119.68 116.76M117.38 116.76L119.68 114.46M159.83 114.46L162.13 116.76M159.83 116.76L162.13 114.46M188.12 114.46L190.43 116.76M188.12 116.76L190.43 114.46M202.28 114.46L204.58 116.76M202.28 116.76L204.58 114.46M230.57 114.46L232.88 116.76M230.57 116.76L232.88 114.46M244.72 114.46L247.03 116.76M244.72 116.76L247.03 114.46M258.88 114.46L261.17 116.76M258.88 116.76L261.17 114.46M273.03 114.46L275.32 116.76M273.03 116.76L275.32 114.46M287.18 114.46L289.48 116.76M287.18 116.76L289.48 114.46M301.33 114.46L303.62 116.76M301.33 116.76L303.62 114.46M315.48 114.46L317.77 116.76M315.48 116.76L317.77 114.46M343.78 114.46L346.07 116.76M343.78 116.76L346.07 114.46M386.23 114.46L388.52 116.76M386.23 116.76L388.52 114.46M400.38 114.46L402.68 116.76M400.38 116.76L402.68 114.46M414.53 114.46L416.82 116.76M414.53 116.76L416.82 114.46M74.92 123.24L77.23 125.54M74.92 125.54L77.23 123.24M244.72 123.24L247.03 125.54M244.72 125.54L247.03 123.24M301.33 123.24L303.62 125.54M301.33 125.54L303.62 123.24M343.78 123.24L346.07 125.54M343.78 125.54L346.07 123.24M372.08 123.24L374.38 125.54M372.08 125.54L374.38 123.24M414.53 123.24L416.82 125.54M414.53 125.54L416.82 123.24M428.68 123.24L430.97 125.54M428.68 125.54L430.97 123.24M74.92 132.02L77.23 134.32M74.92 134.32L77.23 132.02M117.38 132.02L119.68 134.32M117.38 134.32L119.68 132.02M131.53 132.02L133.83 134.32M131.53 134.32L133.83 132.02M159.83 132.02L162.13 134.32M159.83 134.32L162.13 132.02M173.97 132.02L176.28 134.32M173.97 134.32L176.28 132.02M230.57 132.02L232.88 134.32M230.57 134.32L232.88 132.02M244.72 132.02L247.03 134.32M244.72 134.32L247.03 132.02M273.03 132.02L275.32 134.32M273.03 134.32L275.32 132.02M301.33 132.02L303.62 134.32M301.33 134.32L303.62 132.02M315.48 132.02L317.77 134.32M315.48 134.32L317.77 132.02M386.23 132.02L388.52 134.32M386.23 134.32L388.52 132.02M414.53 132.02L416.82 134.32M414.53 134.32L416.82 132.02M428.68 132.02L430.97 134.32M428.68 134.32L430.97 132.02M74.92 140.80L77.23 143.10M74.92 143.10L77.23 140.80M89.07 140.80L91.38 143.10M89.07 143.10L91.38 140.80M103.22 140.80L105.53 143.10M103.22 143.10L105.53 140.80M117.38 140.80L119.68 143.10M117.38 143.10L119.68 140.80M145.67 140.80L147.97 143.10M145.67 143.10L147.97 140.80M159.83 140.80L162.13 143.10M159.83 143.10L162.13 140.80M202.28 140.80L204.58 143.10M202.28 143.10L204.58 140.80M216.43 140.80L218.73 143.10M216.43 143.10L218.73 140.80M230.57 140.80L232.88 143.10M230.57 143.10L232.88 140.80M244.72 140.80L247.03 143.10M244.72 143.10L247.03 140.80M258.88 140.80L261.17 143.10M258.88 143.10L261.17 140.80M273.03 140.80L275.32 143.10M273.03 143.10L275.32 140.80M287.18 140.80L289.48 143.10M287.18 143.10L289.48 140.80M301.33 140.80L303.62 143.10M301.33 143.10L303.62 140.80M315.48 140.80L317.77 143.10M315.48 143.10L317.77 140.80M329.63 140.80L331.93 143.10M329.63 143.10L331.93 140.80M343.78 140.80L346.07 143.10M343.78 143.10L346.07 140.80M386.23 140.80L388.52 143.10M386.23 143.10L388.52 140.80M74.92 149.58L77.23 151.88M74.92 151.88L77.23 149.58M89.07 149.58L91.38 151.88M89.07 151.88L91.38 149.58M103.22 149.58L105.53 151.88M103.22 151.88L105.53 149.58M117.38 149.58L119.68 151.88M117.38 151.88L119.68 149.58M131.53 149.58L133.83 151.88M131.53 151.88L133.83 149.58M145.67 149.58L147.97 151.88M145.67 151.88L147.97 149.58M159.83 149.58L162.13 151.88M159.83 151.88L162.13 149.58M230.57 149.58L232.88 151.88M230.57 151.88L232.88 149.58M244.72 149.58L247.03 151.88M244.72 151.88L247.03 149.58M258.88 149.58L261.17 151.88M258.88 151.88L261.17 149.58M273.03 149.58L275.32 151.88M273.03 151.88L275.32 149.58M287.18 149.58L289.48 151.88M287.18 151.88L289.48 149.58M315.48 149.58L317.77 151.88M315.48 151.88L317.77 149.58M343.78 149.58L346.07 151.88M343.78 151.88L346.07 149.58M400.38 149.58L402.68 151.88M400.38 151.88L402.68 149.58M74.92 158.36L77.23 160.66M74.92 160.66L77.23 158.36M89.07 158.36L91.38 160.66M89.07 160.66L91.38 158.36M103.22 158.36L105.53 160.66M103.22 160.66L105.53 158.36M117.38 158.36L119.68 160.66M117.38 160.66L119.68 158.36M230.57 158.36L232.88 160.66M230.57 160.66L232.88 158.36M244.72 158.36L247.03 160.66M244.72 160.66L247.03 158.36M287.18 158.36L289.48 160.66M287.18 160.66L289.48 158.36M315.48 158.36L317.77 160.66M315.48 160.66L317.77 158.36M343.78 158.36L346.07 160.66M343.78 160.66L346.07 158.36M202.28 167.14L204.58 169.44M202.28 169.44L204.58 167.14M216.43 167.14L218.73 169.44M216.43 169.44L218.73 167.14M301.33 167.14L303.62 169.44M301.33 169.44L303.62 167.14M372.08 167.14L374.38 169.44M372.08 169.44L374.38 167.14M74.92 175.92L77.23 178.22M74.92 178.22L77.23 175.92M89.07 175.92L91.38 178.22M89.07 178.22L91.38 175.92M103.22 175.92L105.53 178.22M103.22 178.22L105.53 175.92M117.38 175.92L119.68 178.22M117.38 178.22L119.68 175.92M131.53 175.92L133.83 178.22M131.53 178.22L133.83 175.92M145.67 175.92L147.97 178.22M145.67 178.22L147.97 175.92M230.57 175.92L232.88 178.22M230.57 178.22L232.88 175.92M244.72 175.92L247.03 178.22M244.72 178.22L247.03 175.92M273.03 175.92L275.32 178.22M273.03 178.22L275.32 175.92M287.18 175.92L289.48 178.22M287.18 178.22L289.48 175.92M301.33 175.92L303.62 178.22M301.33 178.22L303.62 175.92M400.38 175.92L402.68 178.22M400.38 178.22L402.68 175.92M74.92 184.70L77.23 187.00M74.92 187.00L77.23 184.70M89.07 184.70L91.38 187.00M89.07 187.00L91.38 184.70M117.38 184.70L119.68 187.00M117.38 187.00L119.68 184.70M145.67 184.70L147.97 187.00M145.67 187.00L147.97 184.70M230.57 184.70L232.88 187.00M230.57 187.00L232.88 184.70M244.72 184.70L247.03 187.00M244.72 187.00L247.03 184.70M258.88 184.70L261.17 187.00M258.88 187.00L261.17 184.70M273.03 184.70L275.32 187.00M273.03 187.00L275.32 184.70M287.18 184.70L289.48 187.00M287.18 187.00L289.48 184.70M301.33 184.70L303.62 187.00M301.33 187.00L303.62 184.70M315.48 184.70L317.77 187.00M315.48 187.00L317.77 184.70M343.78 184.70L346.07 187.00M343.78 187.00L346.07 184.70M400.38 184.70L402.68 187.00M400.38 187.00L402.68 184.70M74.92 193.48L77.23 195.78M74.92 195.78L77.23 193.48M89.07 193.48L91.38 195.78M89.07 195.78L91.38 193.48M145.67 193.48L147.97 195.78M145.67 195.78L147.97 193.48M244.72 193.48L247.03 195.78M244.72 195.78L247.03 193.48M258.88 193.48L261.17 195.78M258.88 195.78L261.17 193.48M273.03 193.48L275.32 195.78M273.03 195.78L275.32 193.48M287.18 193.48L289.48 195.78M287.18 195.78L289.48 193.48M301.33 193.48L303.62 195.78M301.33 195.78L303.62 193.48M315.48 193.48L317.77 195.78M315.48 195.78L317.77 193.48M329.63 193.48L331.93 195.78M329.63 195.78L331.93 193.48M357.93 193.48L360.22 195.78M357.93 195.78L360.22 193.48M386.23 193.48L388.52 195.78M386.23 195.78L388.52 193.48M103.22 202.26L105.53 204.56M103.22 204.56L105.53 202.26M287.18 202.26L289.48 204.56M287.18 204.56L289.48 202.26M400.38 202.26L402.68 204.56M400.38 204.56L402.68 202.26M74.92 211.04L77.23 213.34M74.92 213.34L77.23 211.04M89.07 211.04L91.38 213.34M89.07 213.34L91.38 211.04M103.22 211.04L105.53 213.34M103.22 213.34L105.53 211.04M117.38 211.04L119.68 213.34M117.38 213.34L119.68 211.04M145.67 211.04L147.97 213.34M145.67 213.34L147.97 211.04M244.72 211.04L247.03 213.34M244.72 213.34L247.03 211.04M273.03 211.04L275.32 213.34M273.03 213.34L275.32 211.04M287.18 211.04L289.48 213.34M287.18 213.34L289.48 211.04M315.48 211.04L317.77 213.34M315.48 213.34L317.77 211.04M357.93 211.04L360.22 213.34M357.93 213.34L360.22 211.04M372.08 211.04L374.38 213.34M372.08 213.34L374.38 211.04M74.92 219.82L77.23 222.12M74.92 222.12L77.23 219.82M89.07 219.82L91.38 222.12M89.07 222.12L91.38 219.82M117.38 219.82L119.68 222.12M117.38 222.12L119.68 219.82M216.43 219.82L218.73 222.12M216.43 222.12L218.73 219.82M244.72 219.82L247.03 222.12M244.72 222.12L247.03 219.82M301.33 219.82L303.62 222.12M301.33 222.12L303.62 219.82M343.78 219.82L346.07 222.12M343.78 222.12L346.07 219.82M372.08 219.82L374.38 222.12M372.08 222.12L374.38 219.82M74.92 228.60L77.23 230.90M74.92 230.90L77.23 228.60M89.07 228.60L91.38 230.90M89.07 230.90L91.38 228.60M103.22 228.60L105.53 230.90M103.22 230.90L105.53 228.60M117.38 228.60L119.68 230.90M117.38 230.90L119.68 228.60M131.53 228.60L133.83 230.90M131.53 230.90L133.83 228.60M145.67 228.60L147.97 230.90M145.67 230.90L147.97 228.60M159.83 228.60L162.13 230.90M159.83 230.90L162.13 228.60M230.57 228.60L232.88 230.90M230.57 230.90L232.88 228.60M244.72 228.60L247.03 230.90M244.72 230.90L247.03 228.60M258.88 228.60L261.17 230.90M258.88 230.90L261.17 228.60M273.03 228.60L275.32 230.90M273.03 230.90L275.32 228.60M287.18 228.60L289.48 230.90M287.18 230.90L289.48 228.60M301.33 228.60L303.62 230.90M301.33 230.90L303.62 228.60M315.48 228.60L317.77 230.90M315.48 230.90L317.77 228.60M372.08 228.60L374.38 230.90M372.08 230.90L374.38 228.60M386.23 228.60L388.52 230.90M386.23 230.90L388.52 228.60M400.38 228.60L402.68 230.90M400.38 230.90L402.68 228.60M74.92 237.38L77.23 239.68M74.92 239.68L77.23 237.38M89.07 237.38L91.38 239.68M89.07 239.68L91.38 237.38M103.22 237.38L105.53 239.68M103.22 239.68L105.53 237.38M117.38 237.38L119.68 239.68M117.38 239.68L119.68 237.38M131.53 237.38L133.83 239.68M131.53 239.68L133.83 237.38M145.67 237.38L147.97 239.68M145.67 239.68L147.97 237.38M173.97 237.38L176.28 239.68M173.97 239.68L176.28 237.38M244.72 237.38L247.03 239.68M244.72 239.68L247.03 237.38M273.03 237.38L275.32 239.68M273.03 239.68L275.32 237.38M287.18 237.38L289.48 239.68M287.18 239.68L289.48 237.38M315.48 237.38L317.77 239.68M315.48 239.68L317.77 237.38M414.53 237.38L416.82 239.68M414.53 239.68L416.82 237.38M428.68 237.38L430.97 239.68M428.68 239.68L430.97 237.38M74.92 246.16L77.23 248.46M74.92 248.46L77.23 246.16M89.07 246.16L91.38 248.46M89.07 248.46L91.38 246.16M103.22 246.16L105.53 248.46M103.22 248.46L105.53 246.16M117.38 246.16L119.68 248.46M117.38 248.46L119.68 246.16M145.67 246.16L147.97 248.46M145.67 248.46L147.97 246.16M244.72 246.16L247.03 248.46M244.72 248.46L247.03 246.16M287.18 246.16L289.48 248.46M287.18 248.46L289.48 246.16M343.78 246.16L346.07 248.46M343.78 248.46L346.07 246.16M89.07 254.94L91.38 257.24M89.07 257.24L91.38 254.94M103.22 254.94L105.53 257.24M103.22 257.24L105.53 254.94M145.67 254.94L147.97 257.24M145.67 257.24L147.97 254.94M188.12 254.94L190.43 257.24M188.12 257.24L190.43 254.94M287.18 254.94L289.48 257.24M287.18 257.24L289.48 254.94M329.63 254.94L331.93 257.24M329.63 257.24L331.93 254.94M74.92 272.50L77.23 274.80M74.92 274.80L77.23 272.50M89.07 272.50L91.38 274.80M89.07 274.80L91.38 272.50M103.22 272.50L105.53 274.80M103.22 274.80L105.53 272.50M117.38 272.50L119.68 274.80M117.38 274.80L119.68 272.50M145.67 272.50L147.97 274.80M145.67 274.80L147.97 272.50M159.83 272.50L162.13 274.80M159.83 274.80L162.13 272.50M202.28 272.50L204.58 274.80M202.28 274.80L204.58 272.50M230.57 272.50L232.88 274.80M230.57 274.80L232.88 272.50M244.72 272.50L247.03 274.80M244.72 274.80L247.03 272.50M258.88 272.50L261.17 274.80M258.88 274.80L261.17 272.50M273.03 272.50L275.32 274.80M273.03 274.80L275.32 272.50M287.18 272.50L289.48 274.80M287.18 274.80L289.48 272.50M315.48 272.50L317.77 274.80M315.48 274.80L317.77 272.50M343.78 272.50L346.07 274.80M343.78 274.80L346.07 272.50M386.23 272.50L388.52 274.80M386.23 274.80L388.52 272.50M400.38 272.50L402.68 274.80M400.38 274.80L402.68 272.50M74.92 281.28L77.23 283.58M74.92 283.58L77.23 281.28M89.07 281.28L91.38 283.58M89.07 283.58L91.38 281.28M301.33 281.28L303.62 283.58M301.33 283.58L303.62 281.28M343.78 281.28L346.07 283.58M343.78 283.58L346.07 281.28M131.53 290.06L133.83 292.36M131.53 292.36L133.83 290.06M173.97 290.06L176.28 292.36M173.97 292.36L176.28 290.06M273.03 290.06L275.32 292.36M273.03 292.36L275.32 290.06M315.48 290.06L317.77 292.36M315.48 292.36L317.77 290.06M414.53 290.06L416.82 292.36M414.53 292.36L416.82 290.06M428.68 290.06L430.97 292.36M428.68 292.36L430.97 290.06" stroke="#222" stroke-width="0.9" fill="none"/>
<g font-family="Liberation Sans, sans-serif" font-size="7.1" fill="#262626"><text x="66.3" y="37.79" text-anchor="end" dy="0.35em">SOX10</text><text x="66.3" y="46.57" text-anchor="end" dy="0.35em">RPE65</text><text x="66.3" y="55.35" text-anchor="end" dy="0.35em">DZIP1</text><text x="66.3" y="64.13" text-anchor="end" dy="0.35em">ARHGEF4</text><text x="66.3" y="72.91" text-anchor="end" dy="0.35em">CDKN2A</text><text x="66.3" y="81.69" text-anchor="end" dy="0.35em">SOX11</text><text x="66.3" y="90.47" text-anchor="end" dy="0.35em">ZNF454</text><text x="66.3" y="99.25" text-anchor="end" dy="0.35em">SNCAIP</text><text x="66.3" y="108.03" text-anchor="end" dy="0.35em">RGMA</text><text x="66.3" y="116.81" text-anchor="end" dy="0.35em">PIF1</text><text x="66.3" y="125.59" text-anchor="end" dy="0.35em">JPH4</text><text x="66.3" y="134.37" text-anchor="end" dy="0.35em">ADAMTS3</text><text x="66.3" y="143.15" text-anchor="end" dy="0.35em">EN1</text><text x="66.3" y="151.93" text-anchor="end" dy="0.35em">CLCN4</text><text x="66.3" y="160.71" text-anchor="end" dy="0.35em">L3MBTL4</text><text x="66.3" y="169.49" text-anchor="end" dy="0.35em">GDF7</text><text x="66.3" y="178.27" text-anchor="end" dy="0.35em">JRKL</text><text x="66.3" y="187.05" text-anchor="end" dy="0.35em">RCOR2</text><text x="66.3" y="195.83" text-anchor="end" dy="0.35em">ST3GAL6</text><text x="66.3" y="204.61" text-anchor="end" dy="0.35em">RETN</text><text x="66.3" y="213.39" text-anchor="end" dy="0.35em">PELI1</text><text x="66.3" y="222.17" text-anchor="end" dy="0.35em">TERT</text><text x="66.3" y="230.95" text-anchor="end" dy="0.35em">CCDC82</text><text x="66.3" y="239.73" text-anchor="end" dy="0.35em">NPM2</text><text x="66.3" y="248.51" text-anchor="end" dy="0.35em">FXYD6</text><text x="66.3" y="257.29" text-anchor="end" dy="0.35em">PLCG2</text><text x="66.3" y="266.07" text-anchor="end" dy="0.35em">SPATA22</text><text x="66.3" y="274.85" text-anchor="end" dy="0.35em">TMPRSS12</text><text x="66.3" y="283.63" text-anchor="end" dy="0.35em">FAM181A</text><text x="66.3" y="292.41" text-anchor="end" dy="0.35em">MEST</text><text transform="translate(76.08 300.10) rotate(-90)" text-anchor="end" dy="0.35em">hsa-mir-19a</text><text transform="translate(90.22 300.10) rotate(-90)" text-anchor="end" dy="0.35em">hsa-mir-1350</text><text transform="translate(104.38 300.10) rotate(-90)" text-anchor="end" dy="0.35em">hsa-mir-6499</text><text transform="translate(118.53 300.10) rotate(-90)" text-anchor="end" dy="0.35em">hsa-mir-6832</text><text transform="translate(132.68 300.10) rotate(-90)" text-anchor="end" dy="0.35em">hsa-mir-224</text><text transform="translate(146.82 300.10) rotate(-90)" text-anchor="end" dy="0.35em">hsa-mir-3622a</text><text transform="translate(160.98 300.10) rotate(-90)" text-anchor="end" dy="0.35em">hsa-mir-6728</text><text transform="translate(175.12 300.10) rotate(-90)" text-anchor="end" dy="0.35em">hsa-mir-216b</text><text transform="translate(189.28 300.10) rotate(-90)" text-anchor="end" dy="0.35em">hsa-mir-155</text><text transform="translate(203.43 300.10) rotate(-90)" text-anchor="end" dy="0.35em">hsa-mir-1276</text><text transform="translate(217.58 300.10) rotate(-90)" text-anchor="end" dy="0.35em">hsa-mir-3115</text><text transform="translate(231.72 300.10) rotate(-90)" text-anchor="end" dy="0.35em">hsa-mir-7112</text><text transform="translate(245.88 300.10) rotate(-90)" text-anchor="end" dy="0.35em">hsa-mir-548d-1</text><text transform="translate(260.02 300.10) rotate(-90)" text-anchor="end" dy="0.35em">hsa-mir-877</text><text transform="translate(274.18 300.10) rotate(-90)" text-anchor="end" dy="0.35em">hsa-mir-4766</text><text transform="translate(288.33 300.10) rotate(-90)" text-anchor="end" dy="0.35em">hsa-mir-4760</text><text transform="translate(302.48 300.10) rotate(-90)" text-anchor="end" dy="0.35em">hsa-mir-301b</text><text transform="translate(316.62 300.10) rotate(-90)" text-anchor="end" dy="0.35em">hsa-mir-188</text><text transform="translate(330.78 300.10) rotate(-90)" text-anchor="end" dy="0.35em">hsa-mir-5571</text><text transform="translate(344.93 300.10) rotate(-90)" text-anchor="end" dy="0.35em">hsa-mir-4788</text><text transform="translate(359.07 300.10) rotate(-90)" text-anchor="end" dy="0.35em">hsa-mir-3145</text><text transform="translate(373.23 300.10) rotate(-90)" text-anchor="end" dy="0.35em">hsa-mir-548ag-2</text><text transform="translate(387.38 300.10) rotate(-90)" text-anchor="end" dy="0.35em">hsa-mir-4787</text><text transform="translate(401.53 300.10) rotate(-90)" text-anchor="end" dy="0.35em">hsa-mir-5092</text><text transform="translate(415.68 300.10) rotate(-90)" text-anchor="end" dy="0.35em">hsa-mir-4699</text><text transform="translate(429.82 300.10) rotate(-90)" text-anchor="end" dy="0.35em">hsa-mir-204</text><text transform="translate(443.98 300.10) rotate(-90)" text-anchor="end" dy="0.35em">hsa-mir-4421</text><text transform="translate(458.12 300.10) rotate(-90)" text-anchor="end" dy="0.35em">hsa-mir-3944</text><text transform="translate(472.28 300.10) rotate(-90)" text-anchor="end" dy="0.35em">hsa-mir-605</text><text transform="translate(486.43 300.10) rotate(-90)" text-anchor="end" dy="0.35em">hsa-mir-6858</text></g>
<text x="281.25" y="28.70" text-anchor="middle" font-family="Liberation Sans, sans-serif" font-size="10.67" fill="#262626">Pairwise correlation between mRNA and miRNA</text>
<text x="281.25" y="360.90" text-anchor="middle" font-family="Liberation Sans, sans-serif" font-size="9.6" fill="#262626">miRNA</text>
<text transform="translate(26.40 165.50) rotate(-90)" text-anchor="middle" font-family="Liberation Sans, sans-serif" font-size="9.6" fill="#262626">mRNA</text>
<text x="69.20" y="17.10" font-family="Liberation Serif, serif" font-size="16.5" letter-spacing="0.8" fill="#000">(a)</text>
<rect x="520" y="33.00" width="13.2" height="263.40" fill="url(#cw)"/>
<g font-family="Liberation Sans, sans-serif" font-size="7.1" fill="#262626"><text x="535.3" y="278.70" dy="0.35em">0.0</text><text x="535.3" y="246.37" dy="0.35em">0.1</text><text x="535.3" y="214.04" dy="0.35em">0.2</text><text x="535.3" y="181.71" dy="0.35em">0.3</text><text x="535.3" y="149.38" dy="0.35em">0.4</text><text x="535.3" y="117.05" dy="0.35em">0.5</text><text x="535.3" y="84.72" dy="0.35em">0.6</text><text x="535.3" y="52.39" dy="0.35em">0.7</text></g>
<g shape-rendering="crispEdges"><rect x="69.0" y="382.6" width="14.5" height="9.1" fill="#eb7d62"/><rect x="83.2" y="382.6" width="14.5" height="9.1" fill="#eb7d62"/><rect x="97.3" y="382.6" width="14.5" height="9.1" fill="#eb7d62"/><rect x="111.5" y="382.6" width="14.5" height="9.1" fill="#eb7d62"/><rect x="125.6" y="382.6" width="14.5" height="9.1" fill="#eb7d62"/><rect x="139.8" y="382.6" width="14.5" height="9.1" fill="#ccd9ed"/><rect x="153.9" y="382.6" width="14.5" height="9.1" fill="#f7b093"/><rect x="168.1" y="382.6" width="14.5" height="9.1" fill="#8db0fe"/><rect x="182.2" y="382.6" width="14.5" height="9.1" fill="#eb7d62"/><rect x="196.4" y="382.6" width="14.5" height="9.1" fill="#ecd3c5"/><rect x="210.5" y="382.6" width="14.5" height="9.1" fill="#b9d0f9"/><rect x="224.7" y="382.6" width="14.5" height="9.1" fill="#ccd9ed"/><rect x="238.8" y="382.6" width="14.5" height="9.1" fill="#f7b093"/><rect x="253.0" y="382.6" width="14.5" height="9.1" fill="#f7b093"/><rect x="267.1" y="382.6" width="14.5" height="9.1" fill="#eb7d62"/><rect x="281.2" y="382.6" width="14.5" height="9.1" fill="#eb7d62"/><rect x="295.4" y="382.6" width="14.5" height="9.1" fill="#dd5f4b"/><rect x="309.6" y="382.6" width="14.5" height="9.1" fill="#f7b093"/><rect x="323.7" y="382.6" width="14.5" height="9.1" fill="#f7b093"/><rect x="337.9" y="382.6" width="14.5" height="9.1" fill="#ecd3c5"/><rect x="352.0" y="382.6" width="14.5" height="9.1" fill="#eb7d62"/><rect x="366.2" y="382.6" width="14.5" height="9.1" fill="#f7b093"/><rect x="380.3" y="382.6" width="14.5" height="9.1" fill="#eb7d62"/><rect x="394.4" y="382.6" width="14.5" height="9.1" fill="#ccd9ed"/><rect x="408.6" y="382.6" width="14.5" height="9.1" fill="#eb7d62"/><rect x="422.8" y="382.6" width="14.5" height="9.1" fill="#f7b093"/><rect x="436.9" y="382.6" width="14.5" height="9.1" fill="#eb7d62"/><rect x="451.1" y="382.6" width="14.5" height="9.1" fill="#ccd9ed"/><rect x="465.2" y="382.6" width="14.5" height="9.1" fill="#f7b093"/><rect x="479.4" y="382.6" width="14.5" height="9.1" fill="#ecd3c5"/><rect x="69.0" y="391.4" width="14.5" height="9.1" fill="#779af7"/><rect x="83.2" y="391.4" width="14.5" height="9.1" fill="#b9d0f9"/><rect x="97.3" y="391.4" width="14.5" height="9.1" fill="#b9d0f9"/><rect x="111.5" y="391.4" width="14.5" height="9.1" fill="#b9d0f9"/><rect x="125.6" y="391.4" width="14.5" height="9.1" fill="#779af7"/><rect x="139.8" y="391.4" width="14.5" height="9.1" fill="#ccd9ed"/><rect x="153.9" y="391.4" width="14.5" height="9.1" fill="#b9d0f9"/><rect x="168.1" y="391.4" width="14.5" height="9.1" fill="#3b4cc0"/><rect x="182.2" y="391.4" width="14.5" height="9.1" fill="#b9d0f9"/><rect x="196.4" y="391.4" width="14.5" height="9.1" fill="#a3c2fe"/><rect x="210.5" y="391.4" width="14.5" height="9.1" fill="#b9d0f9"/><rect x="224.7" y="391.4" width="14.5" height="9.1" fill="#779af7"/><rect x="238.8" y="391.4" width="14.5" height="9.1" fill="#b9d0f9"/><rect x="253.0" y="391.4" width="14.5" height="9.1" fill="#b9d0f9"/><rect x="267.1" y="391.4" width="14.5" height="9.1" fill="#b9d0f9"/><rect x="281.2" y="391.4" width="14.5" height="9.1" fill="#8db0fe"/><rect x="295.4" y="391.4" width="14.5" height="9.1" fill="#b9d0f9"/><rect x="309.6" y="391.4" width="14.5" height="9.1" fill="#b9d0f9"/><rect x="323.7" y="391.4" width="14.5" height="9.1" fill="#8db0fe"/><rect x="337.9" y="391.4" width="14.5" height="9.1" fill="#8db0fe"/><rect x="352.0" y="391.4" width="14.5" height="9.1" fill="#779af7"/><rect x="366.2" y="391.4" width="14.5" height="9.1" fill="#b9d0f9"/><rect x="380.3" y="391.4" width="14.5" height="9.1" fill="#b9d0f9"/><rect x="394.4" y="391.4" width="14.5" height="9.1" fill="#8db0fe"/><rect x="408.6" y="391.4" width="14.5" height="9.1" fill="#b9d0f9"/><rect x="422.8" y="391.4" width="14.5" height="9.1" fill="#b9d0f9"/><rect x="436.9" y="391.4" width="14.5" height="9.1" fill="#b9d0f9"/><rect x="451.1" y="391.4" width="14.5" height="9.1" fill="#8db0fe"/><rect x="465.2" y="391.4" width="14.5" height="9.1" fill="#b9d0f9"/><rect x="479.4" y="391.4" width="14.5" height="9.1" fill="#b9d0f9"/><rect x="69.0" y="400.2" width="14.5" height="9.1" fill="#f7b093"/><rect x="83.2" y="400.2" width="14.5" height="9.1" fill="#eb7d62"/><rect x="97.3" y="400.2" width="14.5" height="9.1" fill="#f4987a"/><rect x="111.5" y="400.2" width="14.5" height="9.1" fill="#f7b093"/><rect x="125.6" y="400.2" width="14.5" height="9.1" fill="#f7b093"/><rect x="139.8" y="400.2" width="14.5" height="9.1" fill="#8db0fe"/><rect x="153.9" y="400.2" width="14.5" height="9.1" fill="#f5c4ac"/><rect x="168.1" y="400.2" width="14.5" height="9.1" fill="#b9d0f9"/><rect x="182.2" y="400.2" width="14.5" height="9.1" fill="#f4987a"/><rect x="196.4" y="400.2" width="14.5" height="9.1" fill="#f7b093"/><rect x="210.5" y="400.2" width="14.5" height="9.1" fill="#8db0fe"/><rect x="224.7" y="400.2" width="14.5" height="9.1" fill="#b9d0f9"/><rect x="238.8" y="400.2" width="14.5" height="9.1" fill="#f7b093"/><rect x="253.0" y="400.2" width="14.5" height="9.1" fill="#f7b093"/><rect x="267.1" y="400.2" width="14.5" height="9.1" fill="#eb7d62"/><rect x="281.2" y="400.2" width="14.5" height="9.1" fill="#f7b093"/><rect x="295.4" y="400.2" width="14.5" height="9.1" fill="#eb7d62"/><rect x="309.6" y="400.2" width="14.5" height="9.1" fill="#f7b093"/><rect x="323.7" y="400.2" width="14.5" height="9.1" fill="#ecd3c5"/><rect x="337.9" y="400.2" width="14.5" height="9.1" fill="#ecd3c5"/><rect x="352.0" y="400.2" width="14.5" height="9.1" fill="#eb7d62"/><rect x="366.2" y="400.2" width="14.5" height="9.1" fill="#f7b093"/><rect x="380.3" y="400.2" width="14.5" height="9.1" fill="#eb7d62"/><rect x="394.4" y="400.2" width="14.5" height="9.1" fill="#b9d0f9"/><rect x="408.6" y="400.2" width="14.5" height="9.1" fill="#eb7d62"/><rect x="422.8" y="400.2" width="14.5" height="9.1" fill="#f7b093"/><rect x="436.9" y="400.2" width="14.5" height="9.1" fill="#ecd3c5"/><rect x="451.1" y="400.2" width="14.5" height="9.1" fill="#b9d0f9"/><rect x="465.2" y="400.2" width="14.5" height="9.1" fill="#ecd3c5"/><rect x="479.4" y="400.2" width="14.5" height="9.1" fill="#ecd3c5"/><rect x="69.0" y="409.0" width="14.5" height="9.1" fill="#f5c4ac"/><rect x="83.2" y="409.0" width="14.5" height="9.1" fill="#f7b093"/><rect x="97.3" y="409.0" width="14.5" height="9.1" fill="#eb7d62"/><rect x="111.5" y="409.0" width="14.5" height="9.1" fill="#f7b093"/><rect x="125.6" y="409.0" width="14.5" height="9.1" fill="#f5c4ac"/><rect x="139.8" y="409.0" width="14.5" height="9.1" fill="#8db0fe"/><rect x="153.9" y="409.0" width="14.5" height="9.1" fill="#f5c4ac"/><rect x="168.1" y="409.0" width="14.5" height="9.1" fill="#b9d0f9"/><rect x="182.2" y="409.0" width="14.5" height="9.1" fill="#f7b093"/><rect x="196.4" y="409.0" width="14.5" height="9.1" fill="#f5c4ac"/><rect x="210.5" y="409.0" width="14.5" height="9.1" fill="#4e68d8"/><rect x="224.7" y="409.0" width="14.5" height="9.1" fill="#b9d0f9"/><rect x="238.8" y="409.0" width="14.5" height="9.1" fill="#f7b093"/><rect x="253.0" y="409.0" width="14.5" height="9.1" fill="#f7b093"/><rect x="267.1" y="409.0" width="14.5" height="9.1" fill="#eb7d62"/><rect x="281.2" y="409.0" width="14.5" height="9.1" fill="#f7b093"/><rect x="295.4" y="409.0" width="14.5" height="9.1" fill="#dd5f4b"/><rect x="309.6" y="409.0" width="14.5" height="9.1" fill="#f7b093"/><rect x="323.7" y="409.0" width="14.5" height="9.1" fill="#ccd9ed"/><rect x="337.9" y="409.0" width="14.5" height="9.1" fill="#ecd3c5"/><rect x="352.0" y="409.0" width="14.5" height="9.1" fill="#eb7d62"/><rect x="366.2" y="409.0" width="14.5" height="9.1" fill="#f7b093"/><rect x="380.3" y="409.0" width="14.5" height="9.1" fill="#f7b093"/><rect x="394.4" y="409.0" width="14.5" height="9.1" fill="#b9d0f9"/><rect x="408.6" y="409.0" width="14.5" height="9.1" fill="#eb7d62"/><rect x="422.8" y="409.0" width="14.5" height="9.1" fill="#f7b093"/><rect x="436.9" y="409.0" width="14.5" height="9.1" fill="#ecd3c5"/><rect x="451.1" y="409.0" width="14.5" height="9.1" fill="#b9d0f9"/><rect x="465.2" y="409.0" width="14.5" height="9.1" fill="#ecd3c5"/><rect x="479.4" y="409.0" width="14.5" height="9.1" fill="#ecd3c5"/><rect x="69.0" y="417.8" width="14.5" height="9.1" fill="#f5c4ac"/><rect x="83.2" y="417.8" width="14.5" height="9.1" fill="#f7b093"/><rect x="97.3" y="417.8" width="14.5" height="9.1" fill="#f7b093"/><rect x="111.5" y="417.8" width="14.5" height="9.1" fill="#f7b093"/><rect x="125.6" y="417.8" width="14.5" height="9.1" fill="#ecd3c5"/><rect x="139.8" y="417.8" width="14.5" height="9.1" fill="#8db0fe"/><rect x="153.9" y="417.8" width="14.5" height="9.1" fill="#f5c4ac"/><rect x="168.1" y="417.8" width="14.5" height="9.1" fill="#b9d0f9"/><rect x="182.2" y="417.8" width="14.5" height="9.1" fill="#f5c4ac"/><rect x="196.4" y="417.8" width="14.5" height="9.1" fill="#ecd3c5"/><rect x="210.5" y="417.8" width="14.5" height="9.1" fill="#b9d0f9"/><rect x="224.7" y="417.8" width="14.5" height="9.1" fill="#b9d0f9"/><rect x="238.8" y="417.8" width="14.5" height="9.1" fill="#ecd3c5"/><rect x="253.0" y="417.8" width="14.5" height="9.1" fill="#ecd3c5"/><rect x="267.1" y="417.8" width="14.5" height="9.1" fill="#f7b093"/><rect x="281.2" y="417.8" width="14.5" height="9.1" fill="#ecd3c5"/><rect x="295.4" y="417.8" width="14.5" height="9.1" fill="#f7b093"/><rect x="309.6" y="417.8" width="14.5" height="9.1" fill="#ecd3c5"/><rect x="323.7" y="417.8" width="14.5" height="9.1" fill="#b9d0f9"/><rect x="337.9" y="417.8" width="14.5" height="9.1" fill="#ecd3c5"/><rect x="352.0" y="417.8" width="14.5" height="9.1" fill="#f7b093"/><rect x="366.2" y="417.8" width="14.5" height="9.1" fill="#ecd3c5"/><rect x="380.3" y="417.8" width="14.5" height="9.1" fill="#f7b093"/><rect x="394.4" y="417.8" width="14.5" height="9.1" fill="#8db0fe"/><rect x="408.6" y="417.8" width="14.5" height="9.1" fill="#ecd3c5"/><rect x="422.8" y="417.8" width="14.5" height="9.1" fill="#ecd3c5"/><rect x="436.9" y="417.8" width="14.5" height="9.1" fill="#b9d0f9"/><rect x="451.1" y="417.8" width="14.5" height="9.1" fill="#b9d0f9"/><rect x="465.2" y="417.8" width="14.5" height="9.1" fill="#ecd3c5"/><rect x="479.4" y="417.8" width="14.5" height="9.1" fill="#b9d0f9"/><rect x="69.0" y="426.6" width="14.5" height="9.1" fill="#b9d0f9"/><rect x="83.2" y="426.6" width="14.5" height="9.1" fill="#ecd3c5"/><rect x="97.3" y="426.6" width="14.5" height="9.1" fill="#ecd3c5"/><rect x="111.5" y="426.6" width="14.5" height="9.1" fill="#f5c4ac"/><rect x="125.6" y="426.6" width="14.5" height="9.1" fill="#b9d0f9"/><rect x="139.8" y="426.6" width="14.5" height="9.1" fill="#779af7"/><rect x="153.9" y="426.6" width="14.5" height="9.1" fill="#ccd9ed"/><rect x="168.1" y="426.6" width="14.5" height="9.1" fill="#b9d0f9"/><rect x="182.2" y="426.6" width="14.5" height="9.1" fill="#b9d0f9"/><rect x="196.4" y="426.6" width="14.5" height="9.1" fill="#b9d0f9"/><rect x="210.5" y="426.6" width="14.5" height="9.1" fill="#6282ea"/><rect x="224.7" y="426.6" width="14.5" height="9.1" fill="#b9d0f9"/><rect x="238.8" y="426.6" width="14.5" height="9.1" fill="#b9d0f9"/><rect x="253.0" y="426.6" width="14.5" height="9.1" fill="#8db0fe"/><rect x="267.1" y="426.6" width="14.5" height="9.1" fill="#b9d0f9"/><rect x="281.2" y="426.6" width="14.5" height="9.1" fill="#b9d0f9"/><rect x="295.4" y="426.6" width="14.5" height="9.1" fill="#b9d0f9"/><rect x="309.6" y="426.6" width="14.5" height="9.1" fill="#b9d0f9"/><rect x="323.7" y="426.6" width="14.5" height="9.1" fill="#b9d0f9"/><rect x="337.9" y="426.6" width="14.5" height="9.1" fill="#ccd9ed"/><rect x="352.0" y="426.6" width="14.5" height="9.1" fill="#ecd3c5"/><rect x="366.2" y="426.6" width="14.5" height="9.1" fill="#ecd3c5"/><rect x="380.3" y="426.6" width="14.5" height="9.1" fill="#ccd9ed"/><rect x="394.4" y="426.6" width="14.5" height="9.1" fill="#8db0fe"/><rect x="408.6" y="426.6" width="14.5" height="9.1" fill="#b9d0f9"/><rect x="422.8" y="426.6" width="14.5" height="9.1" fill="#b9d0f9"/><rect x="436.9" y="426.6" width="14.5" height="9.1" fill="#b9d0f9"/><rect x="451.1" y="426.6" width="14.5" height="9.1" fill="#b9d0f9"/><rect x="465.2" y="426.6" width="14.5" height="9.1" fill="#ecd3c5"/><rect x="479.4" y="426.6" width="14.5" height="9.1" fill="#b9d0f9"/><rect x="69.0" y="435.4" width="14.5" height="9.1" fill="#f7b093"/><rect x="83.2" y="435.4" width="14.5" height="9.1" fill="#eb7d62"/><rect x="97.3" y="435.4" width="14.5" height="9.1" fill="#eb7d62"/><rect x="111.5" y="435.4" width="14.5" height="9.1" fill="#eb7d62"/><rect x="125.6" y="435.4" width="14.5" height="9.1" fill="#f5c4ac"/><rect x="139.8" y="435.4" width="14.5" height="9.1" fill="#b9d0f9"/><rect x="153.9" y="435.4" width="14.5" height="9.1" fill="#f5c4ac"/><rect x="168.1" y="435.4" width="14.5" height="9.1" fill="#b9d0f9"/><rect x="182.2" y="435.4" width="14.5" height="9.1" fill="#eb7d62"/><rect x="196.4" y="435.4" width="14.5" height="9.1" fill="#f5c4ac"/><rect x="210.5" y="435.4" width="14.5" height="9.1" fill="#6282ea"/><rect x="224.7" y="435.4" width="14.5" height="9.1" fill="#ccd9ed"/><rect x="238.8" y="435.4" width="14.5" height="9.1" fill="#f7b093"/><rect x="253.0" y="435.4" width="14.5" height="9.1" fill="#f7b093"/><rect x="267.1" y="435.4" width="14.5" height="9.1" fill="#eb7d62"/><rect x="281.2" y="435.4" width="14.5" height="9.1" fill="#f7b093"/><rect x="295.4" y="435.4" width="14.5" height="9.1" fill="#dd5f4b"/><rect x="309.6" y="435.4" width="14.5" height="9.1" fill="#f7b093"/><rect x="323.7" y="435.4" width="14.5" height="9.1" fill="#ecd3c5"/><rect x="337.9" y="435.4" width="14.5" height="9.1" fill="#ecd3c5"/><rect x="352.0" y="435.4" width="14.5" height="9.1" fill="#f7b093"/><rect x="366.2" y="435.4" width="14.5" height="9.1" fill="#f7b093"/><rect x="380.3" y="435.4" width="14.5" height="9.1" fill="#eb7d62"/><rect x="394.4" y="435.4" width="14.5" height="9.1" fill="#b9d0f9"/><rect x="408.6" y="435.4" width="14.5" height="9.1" fill="#eb7d62"/><rect x="422.8" y="435.4" width="14.5" height="9.1" fill="#f7b093"/><rect x="436.9" y="435.4" width="14.5" height="9.1" fill="#f7b093"/><rect x="451.1" y="435.4" width="14.5" height="9.1" fill="#ecd3c5"/><rect x="465.2" y="435.4" width="14.5" height="9.1" fill="#ecd3c5"/><rect x="479.4" y="435.4" width="14.5" height="9.1" fill="#ecd3c5"/><rect x="69.0" y="444.2" width="14.5" height="9.1" fill="#779af7"/><rect x="83.2" y="444.2" width="14.5" height="9.1" fill="#a3c2fe"/><rect x="97.3" y="444.2" width="14.5" height="9.1" fill="#b9d0f9"/><rect x="111.5" y="444.2" width="14.5" height="9.1" fill="#b9d0f9"/><rect x="125.6" y="444.2" width="14.5" height="9.1" fill="#779af7"/><rect x="139.8" y="444.2" width="14.5" height="9.1" fill="#4e68d8"/><rect x="153.9" y="444.2" width="14.5" height="9.1" fill="#b9d0f9"/><rect x="168.1" y="444.2" width="14.5" height="9.1" fill="#8db0fe"/><rect x="182.2" y="444.2" width="14.5" height="9.1" fill="#a3c2fe"/><rect x="196.4" y="444.2" width="14.5" height="9.1" fill="#b9d0f9"/><rect x="210.5" y="444.2" width="14.5" height="9.1" fill="#3b4cc0"/><rect x="224.7" y="444.2" width="14.5" height="9.1" fill="#8db0fe"/><rect x="238.8" y="444.2" width="14.5" height="9.1" fill="#b9d0f9"/><rect x="253.0" y="444.2" width="14.5" height="9.1" fill="#b9d0f9"/><rect x="267.1" y="444.2" width="14.5" height="9.1" fill="#b9d0f9"/><rect x="281.2" y="444.2" width="14.5" height="9.1" fill="#b9d0f9"/><rect x="295.4" y="444.2" width="14.5" height="9.1" fill="#b9d0f9"/><rect x="309.6" y="444.2" width="14.5" height="9.1" fill="#b9d0f9"/><rect x="323.7" y="444.2" width="14.5" height="9.1" fill="#b9d0f9"/><rect x="337.9" y="444.2" width="14.5" height="9.1" fill="#b9d0f9"/><rect x="352.0" y="444.2" width="14.5" height="9.1" fill="#b9d0f9"/><rect x="366.2" y="444.2" width="14.5" height="9.1" fill="#8db0fe"/><rect x="380.3" y="444.2" width="14.5" height="9.1" fill="#b9d0f9"/><rect x="394.4" y="444.2" width="14.5" height="9.1" fill="#6282ea"/><rect x="408.6" y="444.2" width="14.5" height="9.1" fill="#b9d0f9"/><rect x="422.8" y="444.2" width="14.5" height="9.1" fill="#b9d0f9"/><rect x="436.9" y="444.2" width="14.5" height="9.1" fill="#b9d0f9"/><rect x="451.1" y="444.2" width="14.5" height="9.1" fill="#8db0fe"/><rect x="465.2" y="444.2" width="14.5" height="9.1" fill="#b9d0f9"/><rect x="479.4" y="444.2" width="14.5" height="9.1" fill="#8db0fe"/><rect x="69.0" y="453.0" width="14.5" height="9.1" fill="#eb7d62"/><rect x="83.2" y="453.0" width="14.5" height="9.1" fill="#eb7d62"/><rect x="97.3" y="453.0" width="14.5" height="9.1" fill="#dd5f4b"/><rect x="111.5" y="453.0" width="14.5" height="9.1" fill="#eb7d62"/><rect x="125.6" y="453.0" width="14.5" height="9.1" fill="#f7b093"/><rect x="139.8" y="453.0" width="14.5" height="9.1" fill="#8db0fe"/><rect x="153.9" y="453.0" width="14.5" height="9.1" fill="#f7b093"/><rect x="168.1" y="453.0" width="14.5" height="9.1" fill="#8db0fe"/><rect x="182.2" y="453.0" width="14.5" height="9.1" fill="#eb7d62"/><rect x="196.4" y="453.0" width="14.5" height="9.1" fill="#f5c4ac"/><rect x="210.5" y="453.0" width="14.5" height="9.1" fill="#6282ea"/><rect x="224.7" y="453.0" width="14.5" height="9.1" fill="#ecd3c5"/><rect x="238.8" y="453.0" width="14.5" height="9.1" fill="#eb7d62"/><rect x="253.0" y="453.0" width="14.5" height="9.1" fill="#eb7d62"/><rect x="267.1" y="453.0" width="14.5" height="9.1" fill="#dd5f4b"/><rect x="281.2" y="453.0" width="14.5" height="9.1" fill="#eb7d62"/><rect x="295.4" y="453.0" width="14.5" height="9.1" fill="#dd5f4b"/><rect x="309.6" y="453.0" width="14.5" height="9.1" fill="#eb7d62"/><rect x="323.7" y="453.0" width="14.5" height="9.1" fill="#f7b093"/><rect x="337.9" y="453.0" width="14.5" height="9.1" fill="#ecd3c5"/><rect x="352.0" y="453.0" width="14.5" height="9.1" fill="#eb7d62"/><rect x="366.2" y="453.0" width="14.5" height="9.1" fill="#f7b093"/><rect x="380.3" y="453.0" width="14.5" height="9.1" fill="#dd5f4b"/><rect x="394.4" y="453.0" width="14.5" height="9.1" fill="#b9d0f9"/><rect x="408.6" y="453.0" width="14.5" height="9.1" fill="#dd5f4b"/><rect x="422.8" y="453.0" width="14.5" height="9.1" fill="#eb7d62"/><rect x="436.9" y="453.0" width="14.5" height="9.1" fill="#f7b093"/><rect x="451.1" y="453.0" width="14.5" height="9.1" fill="#ecd3c5"/><rect x="465.2" y="453.0" width="14.5" height="9.1" fill="#f7b093"/><rect x="479.4" y="453.0" width="14.5" height="9.1" fill="#ecd3c5"/><rect x="69.0" y="461.8" width="14.5" height="9.1" fill="#ecd3c5"/><rect x="83.2" y="461.8" width="14.5" height="9.1" fill="#b9d0f9"/><rect x="97.3" y="461.8" width="14.5" height="9.1" fill="#ecd3c5"/><rect x="111.5" y="461.8" width="14.5" height="9.1" fill="#ecd3c5"/><rect x="125.6" y="461.8" width="14.5" height="9.1" fill="#b9d0f9"/><rect x="139.8" y="461.8" width="14.5" height="9.1" fill="#8db0fe"/><rect x="153.9" y="461.8" width="14.5" height="9.1" fill="#b9d0f9"/><rect x="168.1" y="461.8" width="14.5" height="9.1" fill="#f5c4ac"/><rect x="182.2" y="461.8" width="14.5" height="9.1" fill="#b9d0f9"/><rect x="196.4" y="461.8" width="14.5" height="9.1" fill="#b9d0f9"/><rect x="210.5" y="461.8" width="14.5" height="9.1" fill="#6282ea"/><rect x="224.7" y="461.8" width="14.5" height="9.1" fill="#b9d0f9"/><rect x="238.8" y="461.8" width="14.5" height="9.1" fill="#ecd3c5"/><rect x="253.0" y="461.8" width="14.5" height="9.1" fill="#ccd9ed"/><rect x="267.1" y="461.8" width="14.5" height="9.1" fill="#ccd9ed"/><rect x="281.2" y="461.8" width="14.5" height="9.1" fill="#ecd3c5"/><rect x="295.4" y="461.8" width="14.5" height="9.1" fill="#b9d0f9"/><rect x="309.6" y="461.8" width="14.5" height="9.1" fill="#b9d0f9"/><rect x="323.7" y="461.8" width="14.5" height="9.1" fill="#b9d0f9"/><rect x="337.9" y="461.8" width="14.5" height="9.1" fill="#8db0fe"/><rect x="352.0" y="461.8" width="14.5" height="9.1" fill="#b9d0f9"/><rect x="366.2" y="461.8" width="14.5" height="9.1" fill="#b9d0f9"/><rect x="380.3" y="461.8" width="14.5" height="9.1" fill="#b9d0f9"/><rect x="394.4" y="461.8" width="14.5" height="9.1" fill="#8db0fe"/><rect x="408.6" y="461.8" width="14.5" height="9.1" fill="#b9d0f9"/><rect x="422.8" y="461.8" width="14.5" height="9.1" fill="#b9d0f9"/><rect x="436.9" y="461.8" width="14.5" height="9.1" fill="#8db0fe"/><rect x="451.1" y="461.8" width="14.5" height="9.1" fill="#8db0fe"/><rect x="465.2" y="461.8" width="14.5" height="9.1" fill="#b9d0f9"/><rect x="479.4" y="461.8" width="14.5" height="9.1" fill="#b9d0f9"/><rect x="69.0" y="470.6" width="14.5" height="9.1" fill="#b9d0f9"/><rect x="83.2" y="470.6" width="14.5" height="9.1" fill="#b9d0f9"/><rect x="97.3" y="470.6" width="14.5" height="9.1" fill="#8db0fe"/><rect x="111.5" y="470.6" width="14.5" height="9.1" fill="#b9d0f9"/><rect x="125.6" y="470.6" width="14.5" height="9.1" fill="#b9d0f9"/><rect x="139.8" y="470.6" width="14.5" height="9.1" fill="#ccd9ed"/><rect x="153.9" y="470.6" width="14.5" height="9.1" fill="#8db0fe"/><rect x="168.1" y="470.6" width="14.5" height="9.1" fill="#b9d0f9"/><rect x="182.2" y="470.6" width="14.5" height="9.1" fill="#b9d0f9"/><rect x="196.4" y="470.6" width="14.5" height="9.1" fill="#b9d0f9"/><rect x="210.5" y="470.6" width="14.5" height="9.1" fill="#3b4cc0"/><rect x="224.7" y="470.6" width="14.5" height="9.1" fill="#8db0fe"/><rect x="238.8" y="470.6" width="14.5" height="9.1" fill="#b9d0f9"/><rect x="253.0" y="470.6" width="14.5" height="9.1" fill="#b9d0f9"/><rect x="267.1" y="470.6" width="14.5" height="9.1" fill="#8db0fe"/><rect x="281.2" y="470.6" width="14.5" height="9.1" fill="#b9d0f9"/><rect x="295.4" y="470.6" width="14.5" height="9.1" fill="#b9d0f9"/><rect x="309.6" y="470.6" width="14.5" height="9.1" fill="#b9d0f9"/><rect x="323.7" y="470.6" width="14.5" height="9.1" fill="#b9d0f9"/><rect x="337.9" y="470.6" width="14.5" height="9.1" fill="#8db0fe"/><rect x="352.0" y="470.6" width="14.5" height="9.1" fill="#b9d0f9"/><rect x="366.2" y="470.6" width="14.5" height="9.1" fill="#8db0fe"/><rect x="380.3" y="470.6" width="14.5" height="9.1" fill="#8db0fe"/><rect x="394.4" y="470.6" width="14.5" height="9.1" fill="#b9d0f9"/><rect x="408.6" y="470.6" width="14.5" height="9.1" fill="#8db0fe"/><rect x="422.8" y="470.6" width="14.5" height="9.1" fill="#779af7"/><rect x="436.9" y="470.6" width="14.5" height="9.1" fill="#8db0fe"/><rect x="451.1" y="470.6" width="14.5" height="9.1" fill="#8db0fe"/><rect x="465.2" y="470.6" width="14.5" height="9.1" fill="#8db0fe"/><rect x="479.4" y="470.6" width="14.5" height="9.1" fill="#8db0fe"/><rect x="69.0" y="479.4" width="14.5" height="9.1" fill="#ccd9ed"/><rect x="83.2" y="479.4" width="14.5" height="9.1" fill="#f5c4ac"/><rect x="97.3" y="479.4" width="14.5" height="9.1" fill="#f7b093"/><rect x="111.5" y="479.4" width="14.5" height="9.1" fill="#f7b093"/><rect x="125.6" y="479.4" width="14.5" height="9.1" fill="#f5c4ac"/><rect x="139.8" y="479.4" width="14.5" height="9.1" fill="#8db0fe"/><rect x="153.9" y="479.4" width="14.5" height="9.1" fill="#f5c4ac"/><rect x="168.1" y="479.4" width="14.5" height="9.1" fill="#b9d0f9"/><rect x="182.2" y="479.4" width="14.5" height="9.1" fill="#f7b093"/><rect x="196.4" y="479.4" width="14.5" height="9.1" fill="#f5c4ac"/><rect x="210.5" y="479.4" width="14.5" height="9.1" fill="#6282ea"/><rect x="224.7" y="479.4" width="14.5" height="9.1" fill="#b9d0f9"/><rect x="238.8" y="479.4" width="14.5" height="9.1" fill="#f7b093"/><rect x="253.0" y="479.4" width="14.5" height="9.1" fill="#ecd3c5"/><rect x="267.1" y="479.4" width="14.5" height="9.1" fill="#f7b093"/><rect x="281.2" y="479.4" width="14.5" height="9.1" fill="#f7b093"/><rect x="295.4" y="479.4" width="14.5" height="9.1" fill="#f7b093"/><rect x="309.6" y="479.4" width="14.5" height="9.1" fill="#ecd3c5"/><rect x="323.7" y="479.4" width="14.5" height="9.1" fill="#ecd3c5"/><rect x="337.9" y="479.4" width="14.5" height="9.1" fill="#b9d0f9"/><rect x="352.0" y="479.4" width="14.5" height="9.1" fill="#f7b093"/><rect x="366.2" y="479.4" width="14.5" height="9.1" fill="#ecd3c5"/><rect x="380.3" y="479.4" width="14.5" height="9.1" fill="#f7b093"/><rect x="394.4" y="479.4" width="14.5" height="9.1" fill="#b9d0f9"/><rect x="408.6" y="479.4" width="14.5" height="9.1" fill="#f7b093"/><rect x="422.8" y="479.4" width="14.5" height="9.1" fill="#ecd3c5"/><rect x="436.9" y="479.4" width="14.5" height="9.1" fill="#ecd3c5"/><rect x="451.1" y="479.4" width="14.5" height="9.1" fill="#b9d0f9"/><rect x="465.2" y="479.4" width="14.5" height="9.1" fill="#ecd3c5"/><rect x="479.4" y="479.4" width="14.5" height="9.1" fill="#ccd9ed"/><rect x="69.0" y="488.2" width="14.5" height="9.1" fill="#b40426"/><rect x="83.2" y="488.2" width="14.5" height="9.1" fill="#f7b093"/><rect x="97.3" y="488.2" width="14.5" height="9.1" fill="#eb7d62"/><rect x="111.5" y="488.2" width="14.5" height="9.1" fill="#f7b093"/><rect x="125.6" y="488.2" width="14.5" height="9.1" fill="#f5c4ac"/><rect x="139.8" y="488.2" width="14.5" height="9.1" fill="#b9d0f9"/><rect x="153.9" y="488.2" width="14.5" height="9.1" fill="#f7b093"/><rect x="168.1" y="488.2" width="14.5" height="9.1" fill="#b9d0f9"/><rect x="182.2" y="488.2" width="14.5" height="9.1" fill="#f7b093"/><rect x="196.4" y="488.2" width="14.5" height="9.1" fill="#f5c4ac"/><rect x="210.5" y="488.2" width="14.5" height="9.1" fill="#6282ea"/><rect x="224.7" y="488.2" width="14.5" height="9.1" fill="#b9d0f9"/><rect x="238.8" y="488.2" width="14.5" height="9.1" fill="#f7b093"/><rect x="253.0" y="488.2" width="14.5" height="9.1" fill="#ecd3c5"/><rect x="267.1" y="488.2" width="14.5" height="9.1" fill="#eb7d62"/><rect x="281.2" y="488.2" width="14.5" height="9.1" fill="#f7b093"/><rect x="295.4" y="488.2" width="14.5" height="9.1" fill="#eb7d62"/><rect x="309.6" y="488.2" width="14.5" height="9.1" fill="#f7b093"/><rect x="323.7" y="488.2" width="14.5" height="9.1" fill="#ecd3c5"/><rect x="337.9" y="488.2" width="14.5" height="9.1" fill="#ccd9ed"/><rect x="352.0" y="488.2" width="14.5" height="9.1" fill="#f7b093"/><rect x="366.2" y="488.2" width="14.5" height="9.1" fill="#f7b093"/><rect x="380.3" y="488.2" width="14.5" height="9.1" fill="#eb7d62"/><rect x="394.4" y="488.2" width="14.5" height="9.1" fill="#8db0fe"/><rect x="408.6" y="488.2" width="14.5" height="9.1" fill="#f7b093"/><rect x="422.8" y="488.2" width="14.5" height="9.1" fill="#f7b093"/><rect x="436.9" y="488.2" width="14.5" height="9.1" fill="#ecd3c5"/><rect x="451.1" y="488.2" width="14.5" height="9.1" fill="#b9d0f9"/><rect x="465.2" y="488.2" width="14.5" height="9.1" fill="#ecd3c5"/><rect x="479.4" y="488.2" width="14.5" height="9.1" fill="#ecd3c5"/><rect x="69.0" y="497.0" width="14.5" height="9.1" fill="#f7b093"/><rect x="83.2" y="497.0" width="14.5" height="9.1" fill="#f7b093"/><rect x="97.3" y="497.0" width="14.5" height="9.1" fill="#eb7d62"/><rect x="111.5" y="497.0" width="14.5" height="9.1" fill="#f7b093"/><rect x="125.6" y="497.0" width="14.5" height="9.1" fill="#f5c4ac"/><rect x="139.8" y="497.0" width="14.5" height="9.1" fill="#8db0fe"/><rect x="153.9" y="497.0" width="14.5" height="9.1" fill="#f7b093"/><rect x="168.1" y="497.0" width="14.5" height="9.1" fill="#b9d0f9"/><rect x="182.2" y="497.0" width="14.5" height="9.1" fill="#f7b093"/><rect x="196.4" y="497.0" width="14.5" height="9.1" fill="#f5c4ac"/><rect x="210.5" y="497.0" width="14.5" height="9.1" fill="#6282ea"/><rect x="224.7" y="497.0" width="14.5" height="9.1" fill="#b9d0f9"/><rect x="238.8" y="497.0" width="14.5" height="9.1" fill="#f7b093"/><rect x="253.0" y="497.0" width="14.5" height="9.1" fill="#ecd3c5"/><rect x="267.1" y="497.0" width="14.5" height="9.1" fill="#eb7d62"/><rect x="281.2" y="497.0" width="14.5" height="9.1" fill="#f7b093"/><rect x="295.4" y="497.0" width="14.5" height="9.1" fill="#eb7d62"/><rect x="309.6" y="497.0" width="14.5" height="9.1" fill="#ecd3c5"/><rect x="323.7" y="497.0" width="14.5" height="9.1" fill="#ecd3c5"/><rect x="337.9" y="497.0" width="14.5" height="9.1" fill="#ecd3c5"/><rect x="352.0" y="497.0" width="14.5" height="9.1" fill="#f7b093"/><rect x="366.2" y="497.0" width="14.5" height="9.1" fill="#f7b093"/><rect x="380.3" y="497.0" width="14.5" height="9.1" fill="#eb7d62"/><rect x="394.4" y="497.0" width="14.5" height="9.1" fill="#6282ea"/><rect x="408.6" y="497.0" width="14.5" height="9.1" fill="#f7b093"/><rect x="422.8" y="497.0" width="14.5" height="9.1" fill="#f7b093"/><rect x="436.9" y="497.0" width="14.5" height="9.1" fill="#ecd3c5"/><rect x="451.1" y="497.0" width="14.5" height="9.1" fill="#b9d0f9"/><rect x="465.2" y="497.0" width="14.5" height="9.1" fill="#ecd3c5"/><rect x="479.4" y="497.0" width="14.5" height="9.1" fill="#ecd3c5"/><rect x="69.0" y="505.8" width="14.5" height="9.1" fill="#f7b093"/><rect x="83.2" y="505.8" width="14.5" height="9.1" fill="#f7b093"/><rect x="97.3" y="505.8" width="14.5" height="9.1" fill="#eb7d62"/><rect x="111.5" y="505.8" width="14.5" height="9.1" fill="#f7b093"/><rect x="125.6" y="505.8" width="14.5" height="9.1" fill="#ecd3c5"/><rect x="139.8" y="505.8" width="14.5" height="9.1" fill="#8db0fe"/><rect x="153.9" y="505.8" width="14.5" height="9.1" fill="#f7b093"/><rect x="168.1" y="505.8" width="14.5" height="9.1" fill="#b9d0f9"/><rect x="182.2" y="505.8" width="14.5" height="9.1" fill="#f7b093"/><rect x="196.4" y="505.8" width="14.5" height="9.1" fill="#f5c4ac"/><rect x="210.5" y="505.8" width="14.5" height="9.1" fill="#6282ea"/><rect x="224.7" y="505.8" width="14.5" height="9.1" fill="#b9d0f9"/><rect x="238.8" y="505.8" width="14.5" height="9.1" fill="#f7b093"/><rect x="253.0" y="505.8" width="14.5" height="9.1" fill="#ecd3c5"/><rect x="267.1" y="505.8" width="14.5" height="9.1" fill="#f7b093"/><rect x="281.2" y="505.8" width="14.5" height="9.1" fill="#ecd3c5"/><rect x="295.4" y="505.8" width="14.5" height="9.1" fill="#f7b093"/><rect x="309.6" y="505.8" width="14.5" height="9.1" fill="#ecd3c5"/><rect x="323.7" y="505.8" width="14.5" height="9.1" fill="#ecd3c5"/><rect x="337.9" y="505.8" width="14.5" height="9.1" fill="#b9d0f9"/><rect x="352.0" y="505.8" width="14.5" height="9.1" fill="#f7b093"/><rect x="366.2" y="505.8" width="14.5" height="9.1" fill="#ecd3c5"/><rect x="380.3" y="505.8" width="14.5" height="9.1" fill="#f7b093"/><rect x="394.4" y="505.8" width="14.5" height="9.1" fill="#b9d0f9"/><rect x="408.6" y="505.8" width="14.5" height="9.1" fill="#f7b093"/><rect x="422.8" y="505.8" width="14.5" height="9.1" fill="#ecd3c5"/><rect x="436.9" y="505.8" width="14.5" height="9.1" fill="#ecd3c5"/><rect x="451.1" y="505.8" width="14.5" height="9.1" fill="#b9d0f9"/><rect x="465.2" y="505.8" width="14.5" height="9.1" fill="#ecd3c5"/><rect x="479.4" y="505.8" width="14.5" height="9.1" fill="#ecd3c5"/><rect x="69.0" y="514.6" width="14.5" height="9.1" fill="#a3c2fe"/><rect x="83.2" y="514.6" width="14.5" height="9.1" fill="#b9d0f9"/><rect x="97.3" y="514.6" width="14.5" height="9.1" fill="#a3c2fe"/><rect x="111.5" y="514.6" width="14.5" height="9.1" fill="#b9d0f9"/><rect x="125.6" y="514.6" width="14.5" height="9.1" fill="#b9d0f9"/><rect x="139.8" y="514.6" width="14.5" height="9.1" fill="#b9d0f9"/><rect x="153.9" y="514.6" width="14.5" height="9.1" fill="#a3c2fe"/><rect x="168.1" y="514.6" width="14.5" height="9.1" fill="#8db0fe"/><rect x="182.2" y="514.6" width="14.5" height="9.1" fill="#8db0fe"/><rect x="196.4" y="514.6" width="14.5" height="9.1" fill="#b9d0f9"/><rect x="210.5" y="514.6" width="14.5" height="9.1" fill="#6282ea"/><rect x="224.7" y="514.6" width="14.5" height="9.1" fill="#779af7"/><rect x="238.8" y="514.6" width="14.5" height="9.1" fill="#b9d0f9"/><rect x="253.0" y="514.6" width="14.5" height="9.1" fill="#b9d0f9"/><rect x="267.1" y="514.6" width="14.5" height="9.1" fill="#b9d0f9"/><rect x="281.2" y="514.6" width="14.5" height="9.1" fill="#b9d0f9"/><rect x="295.4" y="514.6" width="14.5" height="9.1" fill="#8db0fe"/><rect x="309.6" y="514.6" width="14.5" height="9.1" fill="#b9d0f9"/><rect x="323.7" y="514.6" width="14.5" height="9.1" fill="#b9d0f9"/><rect x="337.9" y="514.6" width="14.5" height="9.1" fill="#8db0fe"/><rect x="352.0" y="514.6" width="14.5" height="9.1" fill="#b9d0f9"/><rect x="366.2" y="514.6" width="14.5" height="9.1" fill="#b9d0f9"/><rect x="380.3" y="514.6" width="14.5" height="9.1" fill="#b9d0f9"/><rect x="394.4" y="514.6" width="14.5" height="9.1" fill="#779af7"/><rect x="408.6" y="514.6" width="14.5" height="9.1" fill="#b9d0f9"/><rect x="422.8" y="514.6" width="14.5" height="9.1" fill="#8db0fe"/><rect x="436.9" y="514.6" width="14.5" height="9.1" fill="#8db0fe"/><rect x="451.1" y="514.6" width="14.5" height="9.1" fill="#8db0fe"/><rect x="465.2" y="514.6" width="14.5" height="9.1" fill="#8db0fe"/><rect x="479.4" y="514.6" width="14.5" height="9.1" fill="#8db0fe"/><rect x="69.0" y="523.4" width="14.5" height="9.1" fill="#f7b093"/><rect x="83.2" y="523.4" width="14.5" height="9.1" fill="#eb7d62"/><rect x="97.3" y="523.4" width="14.5" height="9.1" fill="#eb7d62"/><rect x="111.5" y="523.4" width="14.5" height="9.1" fill="#eb7d62"/><rect x="125.6" y="523.4" width="14.5" height="9.1" fill="#f5c4ac"/><rect x="139.8" y="523.4" width="14.5" height="9.1" fill="#779af7"/><rect x="153.9" y="523.4" width="14.5" height="9.1" fill="#f7b093"/><rect x="168.1" y="523.4" width="14.5" height="9.1" fill="#779af7"/><rect x="182.2" y="523.4" width="14.5" height="9.1" fill="#f7b093"/><rect x="196.4" y="523.4" width="14.5" height="9.1" fill="#b9d0f9"/><rect x="210.5" y="523.4" width="14.5" height="9.1" fill="#8db0fe"/><rect x="224.7" y="523.4" width="14.5" height="9.1" fill="#b9d0f9"/><rect x="238.8" y="523.4" width="14.5" height="9.1" fill="#f7b093"/><rect x="253.0" y="523.4" width="14.5" height="9.1" fill="#ecd3c5"/><rect x="267.1" y="523.4" width="14.5" height="9.1" fill="#f7b093"/><rect x="281.2" y="523.4" width="14.5" height="9.1" fill="#f7b093"/><rect x="295.4" y="523.4" width="14.5" height="9.1" fill="#eb7d62"/><rect x="309.6" y="523.4" width="14.5" height="9.1" fill="#ecd3c5"/><rect x="323.7" y="523.4" width="14.5" height="9.1" fill="#ecd3c5"/><rect x="337.9" y="523.4" width="14.5" height="9.1" fill="#f7b093"/><rect x="352.0" y="523.4" width="14.5" height="9.1" fill="#f7b093"/><rect x="366.2" y="523.4" width="14.5" height="9.1" fill="#ecd3c5"/><rect x="380.3" y="523.4" width="14.5" height="9.1" fill="#eb7d62"/><rect x="394.4" y="523.4" width="14.5" height="9.1" fill="#8db0fe"/><rect x="408.6" y="523.4" width="14.5" height="9.1" fill="#f7b093"/><rect x="422.8" y="523.4" width="14.5" height="9.1" fill="#f7b093"/><rect x="436.9" y="523.4" width="14.5" height="9.1" fill="#ecd3c5"/><rect x="451.1" y="523.4" width="14.5" height="9.1" fill="#b9d0f9"/><rect x="465.2" y="523.4" width="14.5" height="9.1" fill="#ecd3c5"/><rect x="479.4" y="523.4" width="14.5" height="9.1" fill="#ecd3c5"/><rect x="69.0" y="532.2" width="14.5" height="9.1" fill="#f7b093"/><rect x="83.2" y="532.2" width="14.5" height="9.1" fill="#ccd9ed"/><rect x="97.3" y="532.2" width="14.5" height="9.1" fill="#ccd9ed"/><rect x="111.5" y="532.2" width="14.5" height="9.1" fill="#ecd3c5"/><rect x="125.6" y="532.2" width="14.5" height="9.1" fill="#a3c2fe"/><rect x="139.8" y="532.2" width="14.5" height="9.1" fill="#8db0fe"/><rect x="153.9" y="532.2" width="14.5" height="9.1" fill="#b9d0f9"/><rect x="168.1" y="532.2" width="14.5" height="9.1" fill="#b9d0f9"/><rect x="182.2" y="532.2" width="14.5" height="9.1" fill="#ccd9ed"/><rect x="196.4" y="532.2" width="14.5" height="9.1" fill="#8db0fe"/><rect x="210.5" y="532.2" width="14.5" height="9.1" fill="#3b4cc0"/><rect x="224.7" y="532.2" width="14.5" height="9.1" fill="#b9d0f9"/><rect x="238.8" y="532.2" width="14.5" height="9.1" fill="#b9d0f9"/><rect x="253.0" y="532.2" width="14.5" height="9.1" fill="#b9d0f9"/><rect x="267.1" y="532.2" width="14.5" height="9.1" fill="#b9d0f9"/><rect x="281.2" y="532.2" width="14.5" height="9.1" fill="#b9d0f9"/><rect x="295.4" y="532.2" width="14.5" height="9.1" fill="#b9d0f9"/><rect x="309.6" y="532.2" width="14.5" height="9.1" fill="#b9d0f9"/><rect x="323.7" y="532.2" width="14.5" height="9.1" fill="#b9d0f9"/><rect x="337.9" y="532.2" width="14.5" height="9.1" fill="#b9d0f9"/><rect x="352.0" y="532.2" width="14.5" height="9.1" fill="#ccd9ed"/><rect x="366.2" y="532.2" width="14.5" height="9.1" fill="#ccd9ed"/><rect x="380.3" y="532.2" width="14.5" height="9.1" fill="#ccd9ed"/><rect x="394.4" y="532.2" width="14.5" height="9.1" fill="#8db0fe"/><rect x="408.6" y="532.2" width="14.5" height="9.1" fill="#b9d0f9"/><rect x="422.8" y="532.2" width="14.5" height="9.1" fill="#b9d0f9"/><rect x="436.9" y="532.2" width="14.5" height="9.1" fill="#8db0fe"/><rect x="451.1" y="532.2" width="14.5" height="9.1" fill="#779af7"/><rect x="465.2" y="532.2" width="14.5" height="9.1" fill="#b9d0f9"/><rect x="479.4" y="532.2" width="14.5" height="9.1" fill="#b9d0f9"/><rect x="69.0" y="541.0" width="14.5" height="9.1" fill="#ecd3c5"/><rect x="83.2" y="541.0" width="14.5" height="9.1" fill="#f7b093"/><rect x="97.3" y="541.0" width="14.5" height="9.1" fill="#f7b093"/><rect x="111.5" y="541.0" width="14.5" height="9.1" fill="#f7b093"/><rect x="125.6" y="541.0" width="14.5" height="9.1" fill="#ecd3c5"/><rect x="139.8" y="541.0" width="14.5" height="9.1" fill="#b9d0f9"/><rect x="153.9" y="541.0" width="14.5" height="9.1" fill="#f5c4ac"/><rect x="168.1" y="541.0" width="14.5" height="9.1" fill="#8db0fe"/><rect x="182.2" y="541.0" width="14.5" height="9.1" fill="#f7b093"/><rect x="196.4" y="541.0" width="14.5" height="9.1" fill="#ecd3c5"/><rect x="210.5" y="541.0" width="14.5" height="9.1" fill="#f7b093"/><rect x="224.7" y="541.0" width="14.5" height="9.1" fill="#8db0fe"/><rect x="238.8" y="541.0" width="14.5" height="9.1" fill="#ecd3c5"/><rect x="253.0" y="541.0" width="14.5" height="9.1" fill="#ecd3c5"/><rect x="267.1" y="541.0" width="14.5" height="9.1" fill="#ecd3c5"/><rect x="281.2" y="541.0" width="14.5" height="9.1" fill="#ecd3c5"/><rect x="295.4" y="541.0" width="14.5" height="9.1" fill="#ecd3c5"/><rect x="309.6" y="541.0" width="14.5" height="9.1" fill="#ecd3c5"/><rect x="323.7" y="541.0" width="14.5" height="9.1" fill="#ecd3c5"/><rect x="337.9" y="541.0" width="14.5" height="9.1" fill="#ecd3c5"/><rect x="352.0" y="541.0" width="14.5" height="9.1" fill="#ecd3c5"/><rect x="366.2" y="541.0" width="14.5" height="9.1" fill="#ecd3c5"/><rect x="380.3" y="541.0" width="14.5" height="9.1" fill="#f7b093"/><rect x="394.4" y="541.0" width="14.5" height="9.1" fill="#8db0fe"/><rect x="408.6" y="541.0" width="14.5" height="9.1" fill="#ecd3c5"/><rect x="422.8" y="541.0" width="14.5" height="9.1" fill="#ecd3c5"/><rect x="436.9" y="541.0" width="14.5" height="9.1" fill="#ccd9ed"/><rect x="451.1" y="541.0" width="14.5" height="9.1" fill="#b9d0f9"/><rect x="465.2" y="541.0" width="14.5" height="9.1" fill="#ccd9ed"/><rect x="479.4" y="541.0" width="14.5" height="9.1" fill="#ccd9ed"/><rect x="69.0" y="549.8" width="14.5" height="9.1" fill="#779af7"/><rect x="83.2" y="549.8" width="14.5" height="9.1" fill="#779af7"/><rect x="97.3" y="549.8" width="14.5" height="9.1" fill="#779af7"/><rect x="111.5" y="549.8" width="14.5" height="9.1" fill="#779af7"/><rect x="125.6" y="549.8" width="14.5" height="9.1" fill="#779af7"/><rect x="139.8" y="549.8" width="14.5" height="9.1" fill="#4e68d8"/><rect x="153.9" y="549.8" width="14.5" height="9.1" fill="#4e68d8"/><rect x="168.1" y="549.8" width="14.5" height="9.1" fill="#4e68d8"/><rect x="182.2" y="549.8" width="14.5" height="9.1" fill="#779af7"/><rect x="196.4" y="549.8" width="14.5" height="9.1" fill="#4e68d8"/><rect x="210.5" y="549.8" width="14.5" height="9.1" fill="#6282ea"/><rect x="224.7" y="549.8" width="14.5" height="9.1" fill="#6282ea"/><rect x="238.8" y="549.8" width="14.5" height="9.1" fill="#779af7"/><rect x="253.0" y="549.8" width="14.5" height="9.1" fill="#6282ea"/><rect x="267.1" y="549.8" width="14.5" height="9.1" fill="#779af7"/><rect x="281.2" y="549.8" width="14.5" height="9.1" fill="#779af7"/><rect x="295.4" y="549.8" width="14.5" height="9.1" fill="#779af7"/><rect x="309.6" y="549.8" width="14.5" height="9.1" fill="#6282ea"/><rect x="323.7" y="549.8" width="14.5" height="9.1" fill="#6282ea"/><rect x="337.9" y="549.8" width="14.5" height="9.1" fill="#779af7"/><rect x="352.0" y="549.8" width="14.5" height="9.1" fill="#779af7"/><rect x="366.2" y="549.8" width="14.5" height="9.1" fill="#779af7"/><rect x="380.3" y="549.8" width="14.5" height="9.1" fill="#779af7"/><rect x="394.4" y="549.8" width="14.5" height="9.1" fill="#4e68d8"/><rect x="408.6" y="549.8" width="14.5" height="9.1" fill="#779af7"/><rect x="422.8" y="549.8" width="14.5" height="9.1" fill="#779af7"/><rect x="436.9" y="549.8" width="14.5" height="9.1" fill="#779af7"/><rect x="451.1" y="549.8" width="14.5" height="9.1" fill="#4e68d8"/><rect x="465.2" y="549.8" width="14.5" height="9.1" fill="#779af7"/><rect x="479.4" y="549.8" width="14.5" height="9.1" fill="#779af7"/><rect x="69.0" y="558.6" width="14.5" height="9.1" fill="#f7b093"/><rect x="83.2" y="558.6" width="14.5" height="9.1" fill="#f7b093"/><rect x="97.3" y="558.6" width="14.5" height="9.1" fill="#f7b093"/><rect x="111.5" y="558.6" width="14.5" height="9.1" fill="#f7b093"/><rect x="125.6" y="558.6" width="14.5" height="9.1" fill="#ccd9ed"/><rect x="139.8" y="558.6" width="14.5" height="9.1" fill="#ecd3c5"/><rect x="153.9" y="558.6" width="14.5" height="9.1" fill="#f7b093"/><rect x="168.1" y="558.6" width="14.5" height="9.1" fill="#8db0fe"/><rect x="182.2" y="558.6" width="14.5" height="9.1" fill="#f4987a"/><rect x="196.4" y="558.6" width="14.5" height="9.1" fill="#ecd3c5"/><rect x="210.5" y="558.6" width="14.5" height="9.1" fill="#f7b093"/><rect x="224.7" y="558.6" width="14.5" height="9.1" fill="#b9d0f9"/><rect x="238.8" y="558.6" width="14.5" height="9.1" fill="#f7b093"/><rect x="253.0" y="558.6" width="14.5" height="9.1" fill="#ecd3c5"/><rect x="267.1" y="558.6" width="14.5" height="9.1" fill="#f7b093"/><rect x="281.2" y="558.6" width="14.5" height="9.1" fill="#f7b093"/><rect x="295.4" y="558.6" width="14.5" height="9.1" fill="#eb7d62"/><rect x="309.6" y="558.6" width="14.5" height="9.1" fill="#ecd3c5"/><rect x="323.7" y="558.6" width="14.5" height="9.1" fill="#ecd3c5"/><rect x="337.9" y="558.6" width="14.5" height="9.1" fill="#ecd3c5"/><rect x="352.0" y="558.6" width="14.5" height="9.1" fill="#f7b093"/><rect x="366.2" y="558.6" width="14.5" height="9.1" fill="#ecd3c5"/><rect x="380.3" y="558.6" width="14.5" height="9.1" fill="#f7b093"/><rect x="394.4" y="558.6" width="14.5" height="9.1" fill="#8db0fe"/><rect x="408.6" y="558.6" width="14.5" height="9.1" fill="#f7b093"/><rect x="422.8" y="558.6" width="14.5" height="9.1" fill="#ecd3c5"/><rect x="436.9" y="558.6" width="14.5" height="9.1" fill="#ecd3c5"/><rect x="451.1" y="558.6" width="14.5" height="9.1" fill="#b9d0f9"/><rect x="465.2" y="558.6" width="14.5" height="9.1" fill="#ecd3c5"/><rect x="479.4" y="558.6" width="14.5" height="9.1" fill="#ecd3c5"/><rect x="69.0" y="567.4" width="14.5" height="9.1" fill="#b9d0f9"/><rect x="83.2" y="567.4" width="14.5" height="9.1" fill="#ccd9ed"/><rect x="97.3" y="567.4" width="14.5" height="9.1" fill="#779af7"/><rect x="111.5" y="567.4" width="14.5" height="9.1" fill="#a3c2fe"/><rect x="125.6" y="567.4" width="14.5" height="9.1" fill="#ecd3c5"/><rect x="139.8" y="567.4" width="14.5" height="9.1" fill="#8db0fe"/><rect x="153.9" y="567.4" width="14.5" height="9.1" fill="#8db0fe"/><rect x="168.1" y="567.4" width="14.5" height="9.1" fill="#ecd3c5"/><rect x="182.2" y="567.4" width="14.5" height="9.1" fill="#a3c2fe"/><rect x="196.4" y="567.4" width="14.5" height="9.1" fill="#b9d0f9"/><rect x="210.5" y="567.4" width="14.5" height="9.1" fill="#779af7"/><rect x="224.7" y="567.4" width="14.5" height="9.1" fill="#779af7"/><rect x="238.8" y="567.4" width="14.5" height="9.1" fill="#8db0fe"/><rect x="253.0" y="567.4" width="14.5" height="9.1" fill="#8db0fe"/><rect x="267.1" y="567.4" width="14.5" height="9.1" fill="#8db0fe"/><rect x="281.2" y="567.4" width="14.5" height="9.1" fill="#b9d0f9"/><rect x="295.4" y="567.4" width="14.5" height="9.1" fill="#8db0fe"/><rect x="309.6" y="567.4" width="14.5" height="9.1" fill="#8db0fe"/><rect x="323.7" y="567.4" width="14.5" height="9.1" fill="#b9d0f9"/><rect x="337.9" y="567.4" width="14.5" height="9.1" fill="#8db0fe"/><rect x="352.0" y="567.4" width="14.5" height="9.1" fill="#b9d0f9"/><rect x="366.2" y="567.4" width="14.5" height="9.1" fill="#779af7"/><rect x="380.3" y="567.4" width="14.5" height="9.1" fill="#8db0fe"/><rect x="394.4" y="567.4" width="14.5" height="9.1" fill="#8db0fe"/><rect x="408.6" y="567.4" width="14.5" height="9.1" fill="#8db0fe"/><rect x="422.8" y="567.4" width="14.5" height="9.1" fill="#8db0fe"/><rect x="436.9" y="567.4" width="14.5" height="9.1" fill="#6282ea"/><rect x="451.1" y="567.4" width="14.5" height="9.1" fill="#779af7"/><rect x="465.2" y="567.4" width="14.5" height="9.1" fill="#8db0fe"/><rect x="479.4" y="567.4" width="14.5" height="9.1" fill="#8db0fe"/><rect x="69.0" y="576.2" width="14.5" height="9.1" fill="#eb7d62"/><rect x="83.2" y="576.2" width="14.5" height="9.1" fill="#eb7d62"/><rect x="97.3" y="576.2" width="14.5" height="9.1" fill="#dd5f4b"/><rect x="111.5" y="576.2" width="14.5" height="9.1" fill="#dd5f4b"/><rect x="125.6" y="576.2" width="14.5" height="9.1" fill="#eb7d62"/><rect x="139.8" y="576.2" width="14.5" height="9.1" fill="#8db0fe"/><rect x="153.9" y="576.2" width="14.5" height="9.1" fill="#eb7d62"/><rect x="168.1" y="576.2" width="14.5" height="9.1" fill="#8db0fe"/><rect x="182.2" y="576.2" width="14.5" height="9.1" fill="#eb7d62"/><rect x="196.4" y="576.2" width="14.5" height="9.1" fill="#f7b093"/><rect x="210.5" y="576.2" width="14.5" height="9.1" fill="#8db0fe"/><rect x="224.7" y="576.2" width="14.5" height="9.1" fill="#b9d0f9"/><rect x="238.8" y="576.2" width="14.5" height="9.1" fill="#eb7d62"/><rect x="253.0" y="576.2" width="14.5" height="9.1" fill="#f7b093"/><rect x="267.1" y="576.2" width="14.5" height="9.1" fill="#eb7d62"/><rect x="281.2" y="576.2" width="14.5" height="9.1" fill="#eb7d62"/><rect x="295.4" y="576.2" width="14.5" height="9.1" fill="#dd5f4b"/><rect x="309.6" y="576.2" width="14.5" height="9.1" fill="#f7b093"/><rect x="323.7" y="576.2" width="14.5" height="9.1" fill="#f7b093"/><rect x="337.9" y="576.2" width="14.5" height="9.1" fill="#f7b093"/><rect x="352.0" y="576.2" width="14.5" height="9.1" fill="#eb7d62"/><rect x="366.2" y="576.2" width="14.5" height="9.1" fill="#eb7d62"/><rect x="380.3" y="576.2" width="14.5" height="9.1" fill="#dd5f4b"/><rect x="394.4" y="576.2" width="14.5" height="9.1" fill="#8db0fe"/><rect x="408.6" y="576.2" width="14.5" height="9.1" fill="#eb7d62"/><rect x="422.8" y="576.2" width="14.5" height="9.1" fill="#f7b093"/><rect x="436.9" y="576.2" width="14.5" height="9.1" fill="#f7b093"/><rect x="451.1" y="576.2" width="14.5" height="9.1" fill="#ecd3c5"/><rect x="465.2" y="576.2" width="14.5" height="9.1" fill="#f7b093"/><rect x="479.4" y="576.2" width="14.5" height="9.1" fill="#f7b093"/><rect x="69.0" y="585.0" width="14.5" height="9.1" fill="#ecd3c5"/><rect x="83.2" y="585.0" width="14.5" height="9.1" fill="#f7b093"/><rect x="97.3" y="585.0" width="14.5" height="9.1" fill="#eb7d62"/><rect x="111.5" y="585.0" width="14.5" height="9.1" fill="#eb7d62"/><rect x="125.6" y="585.0" width="14.5" height="9.1" fill="#ecd3c5"/><rect x="139.8" y="585.0" width="14.5" height="9.1" fill="#ccd9ed"/><rect x="153.9" y="585.0" width="14.5" height="9.1" fill="#f7b093"/><rect x="168.1" y="585.0" width="14.5" height="9.1" fill="#b9d0f9"/><rect x="182.2" y="585.0" width="14.5" height="9.1" fill="#f7b093"/><rect x="196.4" y="585.0" width="14.5" height="9.1" fill="#f5c4ac"/><rect x="210.5" y="585.0" width="14.5" height="9.1" fill="#779af7"/><rect x="224.7" y="585.0" width="14.5" height="9.1" fill="#b9d0f9"/><rect x="238.8" y="585.0" width="14.5" height="9.1" fill="#ecd3c5"/><rect x="253.0" y="585.0" width="14.5" height="9.1" fill="#ecd3c5"/><rect x="267.1" y="585.0" width="14.5" height="9.1" fill="#f7b093"/><rect x="281.2" y="585.0" width="14.5" height="9.1" fill="#f7b093"/><rect x="295.4" y="585.0" width="14.5" height="9.1" fill="#f7b093"/><rect x="309.6" y="585.0" width="14.5" height="9.1" fill="#ecd3c5"/><rect x="323.7" y="585.0" width="14.5" height="9.1" fill="#b9d0f9"/><rect x="337.9" y="585.0" width="14.5" height="9.1" fill="#b9d0f9"/><rect x="352.0" y="585.0" width="14.5" height="9.1" fill="#f7b093"/><rect x="366.2" y="585.0" width="14.5" height="9.1" fill="#ecd3c5"/><rect x="380.3" y="585.0" width="14.5" height="9.1" fill="#f7b093"/><rect x="394.4" y="585.0" width="14.5" height="9.1" fill="#b9d0f9"/><rect x="408.6" y="585.0" width="14.5" height="9.1" fill="#f7b093"/><rect x="422.8" y="585.0" width="14.5" height="9.1" fill="#ecd3c5"/><rect x="436.9" y="585.0" width="14.5" height="9.1" fill="#ecd3c5"/><rect x="451.1" y="585.0" width="14.5" height="9.1" fill="#b9d0f9"/><rect x="465.2" y="585.0" width="14.5" height="9.1" fill="#ecd3c5"/><rect x="479.4" y="585.0" width="14.5" height="9.1" fill="#ccd9ed"/><rect x="69.0" y="593.8" width="14.5" height="9.1" fill="#f7b093"/><rect x="83.2" y="593.8" width="14.5" height="9.1" fill="#f7b093"/><rect x="97.3" y="593.8" width="14.5" height="9.1" fill="#eb7d62"/><rect x="111.5" y="593.8" width="14.5" height="9.1" fill="#f7b093"/><rect x="125.6" y="593.8" width="14.5" height="9.1" fill="#eb7d62"/><rect x="139.8" y="593.8" width="14.5" height="9.1" fill="#8db0fe"/><rect x="153.9" y="593.8" width="14.5" height="9.1" fill="#ecd3c5"/><rect x="168.1" y="593.8" width="14.5" height="9.1" fill="#b9d0f9"/><rect x="182.2" y="593.8" width="14.5" height="9.1" fill="#f7b093"/><rect x="196.4" y="593.8" width="14.5" height="9.1" fill="#f7b093"/><rect x="210.5" y="593.8" width="14.5" height="9.1" fill="#779af7"/><rect x="224.7" y="593.8" width="14.5" height="9.1" fill="#b9d0f9"/><rect x="238.8" y="593.8" width="14.5" height="9.1" fill="#f7b093"/><rect x="253.0" y="593.8" width="14.5" height="9.1" fill="#ecd3c5"/><rect x="267.1" y="593.8" width="14.5" height="9.1" fill="#f7b093"/><rect x="281.2" y="593.8" width="14.5" height="9.1" fill="#f7b093"/><rect x="295.4" y="593.8" width="14.5" height="9.1" fill="#f7b093"/><rect x="309.6" y="593.8" width="14.5" height="9.1" fill="#ecd3c5"/><rect x="323.7" y="593.8" width="14.5" height="9.1" fill="#ccd9ed"/><rect x="337.9" y="593.8" width="14.5" height="9.1" fill="#b9d0f9"/><rect x="352.0" y="593.8" width="14.5" height="9.1" fill="#ecd3c5"/><rect x="366.2" y="593.8" width="14.5" height="9.1" fill="#ecd3c5"/><rect x="380.3" y="593.8" width="14.5" height="9.1" fill="#f7b093"/><rect x="394.4" y="593.8" width="14.5" height="9.1" fill="#b9d0f9"/><rect x="408.6" y="593.8" width="14.5" height="9.1" fill="#ecd3c5"/><rect x="422.8" y="593.8" width="14.5" height="9.1" fill="#ecd3c5"/><rect x="436.9" y="593.8" width="14.5" height="9.1" fill="#ccd9ed"/><rect x="451.1" y="593.8" width="14.5" height="9.1" fill="#b9d0f9"/><rect x="465.2" y="593.8" width="14.5" height="9.1" fill="#ccd9ed"/><rect x="479.4" y="593.8" width="14.5" height="9.1" fill="#b9d0f9"/><rect x="69.0" y="602.6" width="14.5" height="9.1" fill="#f7b093"/><rect x="83.2" y="602.6" width="14.5" height="9.1" fill="#eb7d62"/><rect x="97.3" y="602.6" width="14.5" height="9.1" fill="#eb7d62"/><rect x="111.5" y="602.6" width="14.5" height="9.1" fill="#dd5f4b"/><rect x="125.6" y="602.6" width="14.5" height="9.1" fill="#f7b093"/><rect x="139.8" y="602.6" width="14.5" height="9.1" fill="#8db0fe"/><rect x="153.9" y="602.6" width="14.5" height="9.1" fill="#f7b093"/><rect x="168.1" y="602.6" width="14.5" height="9.1" fill="#8db0fe"/><rect x="182.2" y="602.6" width="14.5" height="9.1" fill="#f7b093"/><rect x="196.4" y="602.6" width="14.5" height="9.1" fill="#f7b093"/><rect x="210.5" y="602.6" width="14.5" height="9.1" fill="#6282ea"/><rect x="224.7" y="602.6" width="14.5" height="9.1" fill="#b9d0f9"/><rect x="238.8" y="602.6" width="14.5" height="9.1" fill="#eb7d62"/><rect x="253.0" y="602.6" width="14.5" height="9.1" fill="#f7b093"/><rect x="267.1" y="602.6" width="14.5" height="9.1" fill="#eb7d62"/><rect x="281.2" y="602.6" width="14.5" height="9.1" fill="#eb7d62"/><rect x="295.4" y="602.6" width="14.5" height="9.1" fill="#eb7d62"/><rect x="309.6" y="602.6" width="14.5" height="9.1" fill="#f7b093"/><rect x="323.7" y="602.6" width="14.5" height="9.1" fill="#ecd3c5"/><rect x="337.9" y="602.6" width="14.5" height="9.1" fill="#ecd3c5"/><rect x="352.0" y="602.6" width="14.5" height="9.1" fill="#eb7d62"/><rect x="366.2" y="602.6" width="14.5" height="9.1" fill="#eb7d62"/><rect x="380.3" y="602.6" width="14.5" height="9.1" fill="#dd5f4b"/><rect x="394.4" y="602.6" width="14.5" height="9.1" fill="#6282ea"/><rect x="408.6" y="602.6" width="14.5" height="9.1" fill="#eb7d62"/><rect x="422.8" y="602.6" width="14.5" height="9.1" fill="#eb7d62"/><rect x="436.9" y="602.6" width="14.5" height="9.1" fill="#ecd3c5"/><rect x="451.1" y="602.6" width="14.5" height="9.1" fill="#ecd3c5"/><rect x="465.2" y="602.6" width="14.5" height="9.1" fill="#f7b093"/><rect x="479.4" y="602.6" width="14.5" height="9.1" fill="#f7b093"/><rect x="69.0" y="611.4" width="14.5" height="9.1" fill="#4e68d8"/><rect x="83.2" y="611.4" width="14.5" height="9.1" fill="#8db0fe"/><rect x="97.3" y="611.4" width="14.5" height="9.1" fill="#b9d0f9"/><rect x="111.5" y="611.4" width="14.5" height="9.1" fill="#8db0fe"/><rect x="125.6" y="611.4" width="14.5" height="9.1" fill="#779af7"/><rect x="139.8" y="611.4" width="14.5" height="9.1" fill="#4e68d8"/><rect x="153.9" y="611.4" width="14.5" height="9.1" fill="#779af7"/><rect x="168.1" y="611.4" width="14.5" height="9.1" fill="#4e68d8"/><rect x="182.2" y="611.4" width="14.5" height="9.1" fill="#8db0fe"/><rect x="196.4" y="611.4" width="14.5" height="9.1" fill="#779af7"/><rect x="210.5" y="611.4" width="14.5" height="9.1" fill="#779af7"/><rect x="224.7" y="611.4" width="14.5" height="9.1" fill="#779af7"/><rect x="238.8" y="611.4" width="14.5" height="9.1" fill="#8db0fe"/><rect x="253.0" y="611.4" width="14.5" height="9.1" fill="#779af7"/><rect x="267.1" y="611.4" width="14.5" height="9.1" fill="#8db0fe"/><rect x="281.2" y="611.4" width="14.5" height="9.1" fill="#779af7"/><rect x="295.4" y="611.4" width="14.5" height="9.1" fill="#8db0fe"/><rect x="309.6" y="611.4" width="14.5" height="9.1" fill="#8db0fe"/><rect x="323.7" y="611.4" width="14.5" height="9.1" fill="#779af7"/><rect x="337.9" y="611.4" width="14.5" height="9.1" fill="#779af7"/><rect x="352.0" y="611.4" width="14.5" height="9.1" fill="#779af7"/><rect x="366.2" y="611.4" width="14.5" height="9.1" fill="#779af7"/><rect x="380.3" y="611.4" width="14.5" height="9.1" fill="#8db0fe"/><rect x="394.4" y="611.4" width="14.5" height="9.1" fill="#4e68d8"/><rect x="408.6" y="611.4" width="14.5" height="9.1" fill="#8db0fe"/><rect x="422.8" y="611.4" width="14.5" height="9.1" fill="#8db0fe"/><rect x="436.9" y="611.4" width="14.5" height="9.1" fill="#779af7"/><rect x="451.1" y="611.4" width="14.5" height="9.1" fill="#779af7"/><rect x="465.2" y="611.4" width="14.5" height="9.1" fill="#779af7"/><rect x="479.4" y="611.4" width="14.5" height="9.1" fill="#779af7"/><rect x="69.0" y="620.2" width="14.5" height="9.1" fill="#eb7d62"/><rect x="83.2" y="620.2" width="14.5" height="9.1" fill="#eb7d62"/><rect x="97.3" y="620.2" width="14.5" height="9.1" fill="#eb7d62"/><rect x="111.5" y="620.2" width="14.5" height="9.1" fill="#f7b093"/><rect x="125.6" y="620.2" width="14.5" height="9.1" fill="#b9d0f9"/><rect x="139.8" y="620.2" width="14.5" height="9.1" fill="#8db0fe"/><rect x="153.9" y="620.2" width="14.5" height="9.1" fill="#f7b093"/><rect x="168.1" y="620.2" width="14.5" height="9.1" fill="#b9d0f9"/><rect x="182.2" y="620.2" width="14.5" height="9.1" fill="#f7b093"/><rect x="196.4" y="620.2" width="14.5" height="9.1" fill="#b9d0f9"/><rect x="210.5" y="620.2" width="14.5" height="9.1" fill="#4e68d8"/><rect x="224.7" y="620.2" width="14.5" height="9.1" fill="#b9d0f9"/><rect x="238.8" y="620.2" width="14.5" height="9.1" fill="#f7b093"/><rect x="253.0" y="620.2" width="14.5" height="9.1" fill="#ecd3c5"/><rect x="267.1" y="620.2" width="14.5" height="9.1" fill="#f7b093"/><rect x="281.2" y="620.2" width="14.5" height="9.1" fill="#ecd3c5"/><rect x="295.4" y="620.2" width="14.5" height="9.1" fill="#eb7d62"/><rect x="309.6" y="620.2" width="14.5" height="9.1" fill="#ecd3c5"/><rect x="323.7" y="620.2" width="14.5" height="9.1" fill="#ccd9ed"/><rect x="337.9" y="620.2" width="14.5" height="9.1" fill="#ccd9ed"/><rect x="352.0" y="620.2" width="14.5" height="9.1" fill="#ecd3c5"/><rect x="366.2" y="620.2" width="14.5" height="9.1" fill="#ecd3c5"/><rect x="380.3" y="620.2" width="14.5" height="9.1" fill="#f7b093"/><rect x="394.4" y="620.2" width="14.5" height="9.1" fill="#b9d0f9"/><rect x="408.6" y="620.2" width="14.5" height="9.1" fill="#f7b093"/><rect x="422.8" y="620.2" width="14.5" height="9.1" fill="#f7b093"/><rect x="436.9" y="620.2" width="14.5" height="9.1" fill="#ecd3c5"/><rect x="451.1" y="620.2" width="14.5" height="9.1" fill="#b9d0f9"/><rect x="465.2" y="620.2" width="14.5" height="9.1" fill="#ecd3c5"/><rect x="479.4" y="620.2" width="14.5" height="9.1" fill="#ccd9ed"/><rect x="69.0" y="629.0" width="14.5" height="9.1" fill="#779af7"/><rect x="83.2" y="629.0" width="14.5" height="9.1" fill="#b9d0f9"/><rect x="97.3" y="629.0" width="14.5" height="9.1" fill="#779af7"/><rect x="111.5" y="629.0" width="14.5" height="9.1" fill="#b9d0f9"/><rect x="125.6" y="629.0" width="14.5" height="9.1" fill="#b9d0f9"/><rect x="139.8" y="629.0" width="14.5" height="9.1" fill="#8db0fe"/><rect x="153.9" y="629.0" width="14.5" height="9.1" fill="#b9d0f9"/><rect x="168.1" y="629.0" width="14.5" height="9.1" fill="#8db0fe"/><rect x="182.2" y="629.0" width="14.5" height="9.1" fill="#b9d0f9"/><rect x="196.4" y="629.0" width="14.5" height="9.1" fill="#b9d0f9"/><rect x="210.5" y="629.0" width="14.5" height="9.1" fill="#ccd9ed"/><rect x="224.7" y="629.0" width="14.5" height="9.1" fill="#779af7"/><rect x="238.8" y="629.0" width="14.5" height="9.1" fill="#8db0fe"/><rect x="253.0" y="629.0" width="14.5" height="9.1" fill="#b9d0f9"/><rect x="267.1" y="629.0" width="14.5" height="9.1" fill="#b9d0f9"/><rect x="281.2" y="629.0" width="14.5" height="9.1" fill="#b9d0f9"/><rect x="295.4" y="629.0" width="14.5" height="9.1" fill="#8db0fe"/><rect x="309.6" y="629.0" width="14.5" height="9.1" fill="#8db0fe"/><rect x="323.7" y="629.0" width="14.5" height="9.1" fill="#8db0fe"/><rect x="337.9" y="629.0" width="14.5" height="9.1" fill="#8db0fe"/><rect x="352.0" y="629.0" width="14.5" height="9.1" fill="#8db0fe"/><rect x="366.2" y="629.0" width="14.5" height="9.1" fill="#8db0fe"/><rect x="380.3" y="629.0" width="14.5" height="9.1" fill="#b9d0f9"/><rect x="394.4" y="629.0" width="14.5" height="9.1" fill="#8db0fe"/><rect x="408.6" y="629.0" width="14.5" height="9.1" fill="#8db0fe"/><rect x="422.8" y="629.0" width="14.5" height="9.1" fill="#8db0fe"/><rect x="436.9" y="629.0" width="14.5" height="9.1" fill="#8db0fe"/><rect x="451.1" y="629.0" width="14.5" height="9.1" fill="#8db0fe"/><rect x="465.2" y="629.0" width="14.5" height="9.1" fill="#b9d0f9"/><rect x="479.4" y="629.0" width="14.5" height="9.1" fill="#8db0fe"/><rect x="69.0" y="637.8" width="14.5" height="9.1" fill="#779af7"/><rect x="83.2" y="637.8" width="14.5" height="9.1" fill="#b9d0f9"/><rect x="97.3" y="637.8" width="14.5" height="9.1" fill="#b9d0f9"/><rect x="111.5" y="637.8" width="14.5" height="9.1" fill="#b9d0f9"/><rect x="125.6" y="637.8" width="14.5" height="9.1" fill="#b9d0f9"/><rect x="139.8" y="637.8" width="14.5" height="9.1" fill="#779af7"/><rect x="153.9" y="637.8" width="14.5" height="9.1" fill="#a3c2fe"/><rect x="168.1" y="637.8" width="14.5" height="9.1" fill="#8db0fe"/><rect x="182.2" y="637.8" width="14.5" height="9.1" fill="#b9d0f9"/><rect x="196.4" y="637.8" width="14.5" height="9.1" fill="#b9d0f9"/><rect x="210.5" y="637.8" width="14.5" height="9.1" fill="#8db0fe"/><rect x="224.7" y="637.8" width="14.5" height="9.1" fill="#8db0fe"/><rect x="238.8" y="637.8" width="14.5" height="9.1" fill="#b9d0f9"/><rect x="253.0" y="637.8" width="14.5" height="9.1" fill="#779af7"/><rect x="267.1" y="637.8" width="14.5" height="9.1" fill="#b9d0f9"/><rect x="281.2" y="637.8" width="14.5" height="9.1" fill="#b9d0f9"/><rect x="295.4" y="637.8" width="14.5" height="9.1" fill="#b9d0f9"/><rect x="309.6" y="637.8" width="14.5" height="9.1" fill="#8db0fe"/><rect x="323.7" y="637.8" width="14.5" height="9.1" fill="#8db0fe"/><rect x="337.9" y="637.8" width="14.5" height="9.1" fill="#8db0fe"/><rect x="352.0" y="637.8" width="14.5" height="9.1" fill="#b9d0f9"/><rect x="366.2" y="637.8" width="14.5" height="9.1" fill="#8db0fe"/><rect x="380.3" y="637.8" width="14.5" height="9.1" fill="#b9d0f9"/><rect x="394.4" y="637.8" width="14.5" height="9.1" fill="#8db0fe"/><rect x="408.6" y="637.8" width="14.5" height="9.1" fill="#8db0fe"/><rect x="422.8" y="637.8" width="14.5" height="9.1" fill="#b9d0f9"/><rect x="436.9" y="637.8" width="14.5" height="9.1" fill="#b9d0f9"/><rect x="451.1" y="637.8" width="14.5" height="9.1" fill="#8db0fe"/><rect x="465.2" y="637.8" width="14.5" height="9.1" fill="#b9d0f9"/><rect x="479.4" y="637.8" width="14.5" height="9.1" fill="#b9d0f9"/></g>
<path d="M74.92 385.05L77.23 387.35M74.92 387.35L77.23 385.05M89.07 385.05L91.38 387.35M89.07 387.35L91.38 385.05M103.22 385.05L105.53 387.35M103.22 387.35L105.53 385.05M117.38 385.05L119.68 387.35M117.38 387.35L119.68 385.05M131.53 385.05L133.83 387.35M131.53 387.35L133.83 385.05M145.67 385.05L147.97 387.35M145.67 387.35L147.97 385.05M159.83 385.05L162.13 387.35M159.83 387.35L162.13 385.05M188.12 385.05L190.43 387.35M188.12 387.35L190.43 385.05M202.28 385.05L204.58 387.35M202.28 387.35L204.58 385.05M216.43 385.05L218.73 387.35M216.43 387.35L218.73 385.05M230.57 385.05L232.88 387.35M230.57 387.35L232.88 385.05M244.72 385.05L247.03 387.35M244.72 387.35L247.03 385.05M258.88 385.05L261.17 387.35M258.88 387.35L261.17 385.05M273.03 385.05L275.32 387.35M273.03 387.35L275.32 385.05M287.18 385.05L289.48 387.35M287.18 387.35L289.48 385.05M301.33 385.05L303.62 387.35M301.33 387.35L303.62 385.05M315.48 385.05L317.77 387.35M315.48 387.35L317.77 385.05M329.63 385.05L331.93 387.35M329.63 387.35L331.93 385.05M343.78 385.05L346.07 387.35M343.78 387.35L346.07 385.05M357.93 385.05L360.22 387.35M357.93 387.35L360.22 385.05M372.08 385.05L374.38 387.35M372.08 387.35L374.38 385.05M386.23 385.05L388.52 387.35M386.23 387.35L388.52 385.05M400.38 385.05L402.68 387.35M400.38 387.35L402.68 385.05M414.53 385.05L416.82 387.35M414.53 387.35L416.82 385.05M428.68 385.05L430.97 387.35M428.68 387.35L430.97 385.05M442.83 385.05L445.12 387.35M442.83 387.35L445.12 385.05M456.98 385.05L459.27 387.35M456.98 387.35L459.27 385.05M471.13 385.05L473.43 387.35M471.13 387.35L473.43 385.05M485.28 385.05L487.57 387.35M485.28 387.35L487.57 385.05M89.07 393.85L91.38 396.15M89.07 396.15L91.38 393.85M103.22 393.85L105.53 396.15M103.22 396.15L105.53 393.85M117.38 393.85L119.68 396.15M117.38 396.15L119.68 393.85M145.67 393.85L147.97 396.15M145.67 396.15L147.97 393.85M159.83 393.85L162.13 396.15M159.83 396.15L162.13 393.85M188.12 393.85L190.43 396.15M188.12 396.15L190.43 393.85M216.43 393.85L218.73 396.15M216.43 396.15L218.73 393.85M244.72 393.85L247.03 396.15M244.72 396.15L247.03 393.85M258.88 393.85L261.17 396.15M258.88 396.15L261.17 393.85M273.03 393.85L275.32 396.15M273.03 396.15L275.32 393.85M287.18 393.85L289.48 396.15M287.18 396.15L289.48 393.85M301.33 393.85L303.62 396.15M301.33 396.15L303.62 393.85M315.48 393.85L317.77 396.15M315.48 396.15L317.77 393.85M372.08 393.85L374.38 396.15M372.08 396.15L374.38 393.85M386.23 393.85L388.52 396.15M386.23 396.15L388.52 393.85M414.53 393.85L416.82 396.15M414.53 396.15L416.82 393.85M428.68 393.85L430.97 396.15M428.68 396.15L430.97 393.85M442.83 393.85L445.12 396.15M442.83 396.15L445.12 393.85M471.13 393.85L473.43 396.15M471.13 396.15L473.43 393.85M485.28 393.85L487.57 396.15M485.28 396.15L487.57 393.85M74.92 402.65L77.23 404.95M74.92 404.95L77.23 402.65M89.07 402.65L91.38 404.95M89.07 404.95L91.38 402.65M103.22 402.65L105.53 404.95M103.22 404.95L105.53 402.65M117.38 402.65L119.68 404.95M117.38 404.95L119.68 402.65M131.53 402.65L133.83 404.95M131.53 404.95L133.83 402.65M159.83 402.65L162.13 404.95M159.83 404.95L162.13 402.65M173.97 402.65L176.28 404.95M173.97 404.95L176.28 402.65M188.12 402.65L190.43 404.95M188.12 404.95L190.43 402.65M202.28 402.65L204.58 404.95M202.28 404.95L204.58 402.65M230.57 402.65L232.88 404.95M230.57 404.95L232.88 402.65M244.72 402.65L247.03 404.95M244.72 404.95L247.03 402.65M258.88 402.65L261.17 404.95M258.88 404.95L261.17 402.65M273.03 402.65L275.32 404.95M273.03 404.95L275.32 402.65M287.18 402.65L289.48 404.95M287.18 404.95L289.48 402.65M301.33 402.65L303.62 404.95M301.33 404.95L303.62 402.65M315.48 402.65L317.77 404.95M315.48 404.95L317.77 402.65M329.63 402.65L331.93 404.95M329.63 404.95L331.93 402.65M343.78 402.65L346.07 404.95M343.78 404.95L346.07 402.65M357.93 402.65L360.22 404.95M357.93 404.95L360.22 402.65M372.08 402.65L374.38 404.95M372.08 404.95L374.38 402.65M386.23 402.65L388.52 404.95M386.23 404.95L388.52 402.65M400.38 402.65L402.68 404.95M400.38 404.95L402.68 402.65M414.53 402.65L416.82 404.95M414.53 404.95L416.82 402.65M428.68 402.65L430.97 404.95M428.68 404.95L430.97 402.65M442.83 402.65L445.12 404.95M442.83 404.95L445.12 402.65M456.98 402.65L459.27 404.95M456.98 404.95L459.27 402.65M471.13 402.65L473.43 404.95M471.13 404.95L473.43 402.65M485.28 402.65L487.57 404.95M485.28 404.95L487.57 402.65M74.92 411.45L77.23 413.75M74.92 413.75L77.23 411.45M89.07 411.45L91.38 413.75M89.07 413.75L91.38 411.45M103.22 411.45L105.53 413.75M103.22 413.75L105.53 411.45M117.38 411.45L119.68 413.75M117.38 413.75L119.68 411.45M131.53 411.45L133.83 413.75M131.53 413.75L133.83 411.45M159.83 411.45L162.13 413.75M159.83 413.75L162.13 411.45M173.97 411.45L176.28 413.75M173.97 413.75L176.28 411.45M188.12 411.45L190.43 413.75M188.12 413.75L190.43 411.45M202.28 411.45L204.58 413.75M202.28 413.75L204.58 411.45M230.57 411.45L232.88 413.75M230.57 413.75L232.88 411.45M244.72 411.45L247.03 413.75M244.72 413.75L247.03 411.45M258.88 411.45L261.17 413.75M258.88 413.75L261.17 411.45M273.03 411.45L275.32 413.75M273.03 413.75L275.32 411.45M287.18 411.45L289.48 413.75M287.18 413.75L289.48 411.45M301.33 411.45L303.62 413.75M301.33 413.75L303.62 411.45M315.48 411.45L317.77 413.75M315.48 413.75L317.77 411.45M329.63 411.45L331.93 413.75M329.63 413.75L331.93 411.45M343.78 411.45L346.07 413.75M343.78 413.75L346.07 411.45M357.93 411.45L360.22 413.75M357.93 413.75L360.22 411.45M372.08 411.45L374.38 413.75M372.08 413.75L374.38 411.45M386.23 411.45L388.52 413.75M386.23 413.75L388.52 411.45M400.38 411.45L402.68 413.75M400.38 413.75L402.68 411.45M414.53 411.45L416.82 413.75M414.53 413.75L416.82 411.45M428.68 411.45L430.97 413.75M428.68 413.75L430.97 411.45M442.83 411.45L445.12 413.75M442.83 413.75L445.12 411.45M456.98 411.45L459.27 413.75M456.98 413.75L459.27 411.45M471.13 411.45L473.43 413.75M471.13 413.75L473.43 411.45M485.28 411.45L487.57 413.75M485.28 413.75L487.57 411.45M74.92 420.25L77.23 422.55M74.92 422.55L77.23 420.25M89.07 420.25L91.38 422.55M89.07 422.55L91.38 420.25M103.22 420.25L105.53 422.55M103.22 422.55L105.53 420.25M117.38 420.25L119.68 422.55M117.38 422.55L119.68 420.25M131.53 420.25L133.83 422.55M131.53 422.55L133.83 420.25M159.83 420.25L162.13 422.55M159.83 422.55L162.13 420.25M173.97 420.25L176.28 422.55M173.97 422.55L176.28 420.25M188.12 420.25L190.43 422.55M188.12 422.55L190.43 420.25M202.28 420.25L204.58 422.55M202.28 422.55L204.58 420.25M216.43 420.25L218.73 422.55M216.43 422.55L218.73 420.25M230.57 420.25L232.88 422.55M230.57 422.55L232.88 420.25M244.72 420.25L247.03 422.55M244.72 422.55L247.03 420.25M258.88 420.25L261.17 422.55M258.88 422.55L261.17 420.25M273.03 420.25L275.32 422.55M273.03 422.55L275.32 420.25M287.18 420.25L289.48 422.55M287.18 422.55L289.48 420.25M301.33 420.25L303.62 422.55M301.33 422.55L303.62 420.25M315.48 420.25L317.77 422.55M315.48 422.55L317.77 420.25M329.63 420.25L331.93 422.55M329.63 422.55L331.93 420.25M343.78 420.25L346.07 422.55M343.78 422.55L346.07 420.25M357.93 420.25L360.22 422.55M357.93 422.55L360.22 420.25M372.08 420.25L374.38 422.55M372.08 422.55L374.38 420.25M386.23 420.25L388.52 422.55M386.23 422.55L388.52 420.25M414.53 420.25L416.82 422.55M414.53 422.55L416.82 420.25M428.68 420.25L430.97 422.55M428.68 422.55L430.97 420.25M442.83 420.25L445.12 422.55M442.83 422.55L445.12 420.25M456.98 420.25L459.27 422.55M456.98 422.55L459.27 420.25M471.13 420.25L473.43 422.55M471.13 422.55L473.43 420.25M485.28 420.25L487.57 422.55M485.28 422.55L487.57 420.25M74.92 429.05L77.23 431.35M74.92 431.35L77.23 429.05M89.07 429.05L91.38 431.35M89.07 431.35L91.38 429.05M103.22 429.05L105.53 431.35M103.22 431.35L105.53 429.05M117.38 429.05L119.68 431.35M117.38 431.35L119.68 429.05M131.53 429.05L133.83 431.35M131.53 431.35L133.83 429.05M159.83 429.05L162.13 431.35M159.83 431.35L162.13 429.05M173.97 429.05L176.28 431.35M173.97 431.35L176.28 429.05M188.12 429.05L190.43 431.35M188.12 431.35L190.43 429.05M202.28 429.05L204.58 431.35M202.28 431.35L204.58 429.05M230.57 429.05L232.88 431.35M230.57 431.35L232.88 429.05M244.72 429.05L247.03 431.35M244.72 431.35L247.03 429.05M273.03 429.05L275.32 431.35M273.03 431.35L275.32 429.05M287.18 429.05L289.48 431.35M287.18 431.35L289.48 429.05M301.33 429.05L303.62 431.35M301.33 431.35L303.62 429.05M315.48 429.05L317.77 431.35M315.48 431.35L317.77 429.05M329.63 429.05L331.93 431.35M329.63 431.35L331.93 429.05M343.78 429.05L346.07 431.35M343.78 431.35L346.07 429.05M357.93 429.05L360.22 431.35M357.93 431.35L360.22 429.05M372.08 429.05L374.38 431.35M372.08 431.35L374.38 429.05M386.23 429.05L388.52 431.35M386.23 431.35L388.52 429.05M414.53 429.05L416.82 431.35M414.53 431.35L416.82 429.05M428.68 429.05L430.97 431.35M428.68 431.35L430.97 429.05M442.83 429.05L445.12 431.35M442.83 431.35L445.12 429.05M456.98 429.05L459.27 431.35M456.98 431.35L459.27 429.05M471.13 429.05L473.43 431.35M471.13 431.35L473.43 429.05M485.28 429.05L487.57 431.35M485.28 431.35L487.57 429.05M74.92 437.85L77.23 440.15M74.92 440.15L77.23 437.85M89.07 437.85L91.38 440.15M89.07 440.15L91.38 437.85M103.22 437.85L105.53 440.15M103.22 440.15L105.53 437.85M117.38 437.85L119.68 440.15M117.38 440.15L119.68 437.85M131.53 437.85L133.83 440.15M131.53 440.15L133.83 437.85M145.67 437.85L147.97 440.15M145.67 440.15L147.97 437.85M159.83 437.85L162.13 440.15M159.83 440.15L162.13 437.85M173.97 437.85L176.28 440.15M173.97 440.15L176.28 437.85M188.12 437.85L190.43 440.15M188.12 440.15L190.43 437.85M202.28 437.85L204.58 440.15M202.28 440.15L204.58 437.85M230.57 437.85L232.88 440.15M230.57 440.15L232.88 437.85M244.72 437.85L247.03 440.15M244.72 440.15L247.03 437.85M258.88 437.85L261.17 440.15M258.88 440.15L261.17 437.85M273.03 437.85L275.32 440.15M273.03 440.15L275.32 437.85M287.18 437.85L289.48 440.15M287.18 440.15L289.48 437.85M301.33 437.85L303.62 440.15M301.33 440.15L303.62 437.85M315.48 437.85L317.77 440.15M315.48 440.15L317.77 437.85M329.63 437.85L331.93 440.15M329.63 440.15L331.93 437.85M343.78 437.85L346.07 440.15M343.78 440.15L346.07 437.85M357.93 437.85L360.22 440.15M357.93 440.15L360.22 437.85M372.08 437.85L374.38 440.15M372.08 440.15L374.38 437.85M386.23 437.85L388.52 440.15M386.23 440.15L388.52 437.85M400.38 437.85L402.68 440.15M400.38 440.15L402.68 437.85M414.53 437.85L416.82 440.15M414.53 440.15L416.82 437.85M428.68 437.85L430.97 440.15M428.68 440.15L430.97 437.85M442.83 437.85L445.12 440.15M442.83 440.15L445.12 437.85M456.98 437.85L459.27 440.15M456.98 440.15L459.27 437.85M471.13 437.85L473.43 440.15M471.13 440.15L473.43 437.85M485.28 437.85L487.57 440.15M485.28 440.15L487.57 437.85M103.22 446.65L105.53 448.95M103.22 448.95L105.53 446.65M117.38 446.65L119.68 448.95M117.38 448.95L119.68 446.65M159.83 446.65L162.13 448.95M159.83 448.95L162.13 446.65M202.28 446.65L204.58 448.95M202.28 448.95L204.58 446.65M244.72 446.65L247.03 448.95M244.72 448.95L247.03 446.65M258.88 446.65L261.17 448.95M258.88 448.95L261.17 446.65M273.03 446.65L275.32 448.95M273.03 448.95L275.32 446.65M287.18 446.65L289.48 448.95M287.18 448.95L289.48 446.65M301.33 446.65L303.62 448.95M301.33 448.95L303.62 446.65M315.48 446.65L317.77 448.95M315.48 448.95L317.77 446.65M329.63 446.65L331.93 448.95M329.63 448.95L331.93 446.65M343.78 446.65L346.07 448.95M343.78 448.95L346.07 446.65M357.93 446.65L360.22 448.95M357.93 448.95L360.22 446.65M386.23 446.65L388.52 448.95M386.23 448.95L388.52 446.65M414.53 446.65L416.82 448.95M414.53 448.95L416.82 446.65M428.68 446.65L430.97 448.95M428.68 448.95L430.97 446.65M442.83 446.65L445.12 448.95M442.83 448.95L445.12 446.65M471.13 446.65L473.43 448.95M471.13 448.95L473.43 446.65M74.92 455.45L77.23 457.75M74.92 457.75L77.23 455.45M89.07 455.45L91.38 457.75M89.07 457.75L91.38 455.45M103.22 455.45L105.53 457.75M103.22 457.75L105.53 455.45M117.38 455.45L119.68 457.75M117.38 457.75L119.68 455.45M131.53 455.45L133.83 457.75M131.53 457.75L133.83 455.45M159.83 455.45L162.13 457.75M159.83 457.75L162.13 455.45M188.12 455.45L190.43 457.75M188.12 457.75L190.43 455.45M202.28 455.45L204.58 457.75M202.28 457.75L204.58 455.45M230.57 455.45L232.88 457.75M230.57 457.75L232.88 455.45M244.72 455.45L247.03 457.75M244.72 457.75L247.03 455.45M258.88 455.45L261.17 457.75M258.88 457.75L261.17 455.45M273.03 455.45L275.32 457.75M273.03 457.75L275.32 455.45M287.18 455.45L289.48 457.75M287.18 457.75L289.48 455.45M301.33 455.45L303.62 457.75M301.33 457.75L303.62 455.45M315.48 455.45L317.77 457.75M315.48 457.75L317.77 455.45M329.63 455.45L331.93 457.75M329.63 457.75L331.93 455.45M343.78 455.45L346.07 457.75M343.78 457.75L346.07 455.45M357.93 455.45L360.22 457.75M357.93 457.75L360.22 455.45M372.08 455.45L374.38 457.75M372.08 457.75L374.38 455.45M386.23 455.45L388.52 457.75M386.23 457.75L388.52 455.45M400.38 455.45L402.68 457.75M400.38 457.75L402.68 455.45M414.53 455.45L416.82 457.75M414.53 457.75L416.82 455.45M428.68 455.45L430.97 457.75M428.68 457.75L430.97 455.45M442.83 455.45L445.12 457.75M442.83 457.75L445.12 455.45M456.98 455.45L459.27 457.75M456.98 457.75L459.27 455.45M471.13 455.45L473.43 457.75M471.13 457.75L473.43 455.45M485.28 455.45L487.57 457.75M485.28 457.75L487.57 455.45M74.92 464.25L77.23 466.55M74.92 466.55L77.23 464.25M89.07 464.25L91.38 466.55M89.07 466.55L91.38 464.25M103.22 464.25L105.53 466.55M103.22 466.55L105.53 464.25M117.38 464.25L119.68 466.55M117.38 466.55L119.68 464.25M131.53 464.25L133.83 466.55M131.53 466.55L133.83 464.25M159.83 464.25L162.13 466.55M159.83 466.55L162.13 464.25M173.97 464.25L176.28 466.55M173.97 466.55L176.28 464.25M188.12 464.25L190.43 466.55M188.12 466.55L190.43 464.25M202.28 464.25L204.58 466.55M202.28 466.55L204.58 464.25M230.57 464.25L232.88 466.55M230.57 466.55L232.88 464.25M244.72 464.25L247.03 466.55M244.72 466.55L247.03 464.25M258.88 464.25L261.17 466.55M258.88 466.55L261.17 464.25M273.03 464.25L275.32 466.55M273.03 466.55L275.32 464.25M287.18 464.25L289.48 466.55M287.18 466.55L289.48 464.25M301.33 464.25L303.62 466.55M301.33 466.55L303.62 464.25M315.48 464.25L317.77 466.55M315.48 466.55L317.77 464.25M329.63 464.25L331.93 466.55M329.63 466.55L331.93 464.25M357.93 464.25L360.22 466.55M357.93 466.55L360.22 464.25M372.08 464.25L374.38 466.55M372.08 466.55L374.38 464.25M386.23 464.25L388.52 466.55M386.23 466.55L388.52 464.25M414.53 464.25L416.82 466.55M414.53 466.55L416.82 464.25M428.68 464.25L430.97 466.55M428.68 466.55L430.97 464.25M471.13 464.25L473.43 466.55M471.13 466.55L473.43 464.25M485.28 464.25L487.57 466.55M485.28 466.55L487.57 464.25M74.92 473.05L77.23 475.35M74.92 475.35L77.23 473.05M89.07 473.05L91.38 475.35M89.07 475.35L91.38 473.05M131.53 473.05L133.83 475.35M131.53 475.35L133.83 473.05M145.67 473.05L147.97 475.35M145.67 475.35L147.97 473.05M173.97 473.05L176.28 475.35M173.97 475.35L176.28 473.05M188.12 473.05L190.43 475.35M188.12 475.35L190.43 473.05M202.28 473.05L204.58 475.35M202.28 475.35L204.58 473.05M244.72 473.05L247.03 475.35M244.72 475.35L247.03 473.05M258.88 473.05L261.17 475.35M258.88 475.35L261.17 473.05M287.18 473.05L289.48 475.35M287.18 475.35L289.48 473.05M301.33 473.05L303.62 475.35M301.33 475.35L303.62 473.05M315.48 473.05L317.77 475.35M315.48 475.35L317.77 473.05M329.63 473.05L331.93 475.35M329.63 475.35L331.93 473.05M357.93 473.05L360.22 475.35M357.93 475.35L360.22 473.05M400.38 473.05L402.68 475.35M400.38 475.35L402.68 473.05M74.92 481.85L77.23 484.15M74.92 484.15L77.23 481.85M89.07 481.85L91.38 484.15M89.07 484.15L91.38 481.85M103.22 481.85L105.53 484.15M103.22 484.15L105.53 481.85M117.38 481.85L119.68 484.15M117.38 484.15L119.68 481.85M131.53 481.85L133.83 484.15M131.53 484.15L133.83 481.85M159.83 481.85L162.13 484.15M159.83 484.15L162.13 481.85M173.97 481.85L176.28 484.15M173.97 484.15L176.28 481.85M188.12 481.85L190.43 484.15M188.12 484.15L190.43 481.85M202.28 481.85L204.58 484.15M202.28 484.15L204.58 481.85M230.57 481.85L232.88 484.15M230.57 484.15L232.88 481.85M244.72 481.85L247.03 484.15M244.72 484.15L247.03 481.85M258.88 481.85L261.17 484.15M258.88 484.15L261.17 481.85M273.03 481.85L275.32 484.15M273.03 484.15L275.32 481.85M287.18 481.85L289.48 484.15M287.18 484.15L289.48 481.85M301.33 481.85L303.62 484.15M301.33 484.15L303.62 481.85M315.48 481.85L317.77 484.15M315.48 484.15L317.77 481.85M329.63 481.85L331.93 484.15M329.63 484.15L331.93 481.85M343.78 481.85L346.07 484.15M343.78 484.15L346.07 481.85M357.93 481.85L360.22 484.15M357.93 484.15L360.22 481.85M372.08 481.85L374.38 484.15M372.08 484.15L374.38 481.85M386.23 481.85L388.52 484.15M386.23 484.15L388.52 481.85M414.53 481.85L416.82 484.15M414.53 484.15L416.82 481.85M428.68 481.85L430.97 484.15M428.68 484.15L430.97 481.85M442.83 481.85L445.12 484.15M442.83 484.15L445.12 481.85M456.98 481.85L459.27 484.15M456.98 484.15L459.27 481.85M471.13 481.85L473.43 484.15M471.13 484.15L473.43 481.85M485.28 481.85L487.57 484.15M485.28 484.15L487.57 481.85M74.92 490.65L77.23 492.95M74.92 492.95L77.23 490.65M89.07 490.65L91.38 492.95M89.07 492.95L91.38 490.65M103.22 490.65L105.53 492.95M103.22 492.95L105.53 490.65M117.38 490.65L119.68 492.95M117.38 492.95L119.68 490.65M131.53 490.65L133.83 492.95M131.53 492.95L133.83 490.65M145.67 490.65L147.97 492.95M145.67 492.95L147.97 490.65M159.83 490.65L162.13 492.95M159.83 492.95L162.13 490.65M173.97 490.65L176.28 492.95M173.97 492.95L176.28 490.65M188.12 490.65L190.43 492.95M188.12 492.95L190.43 490.65M202.28 490.65L204.58 492.95M202.28 492.95L204.58 490.65M230.57 490.65L232.88 492.95M230.57 492.95L232.88 490.65M244.72 490.65L247.03 492.95M244.72 492.95L247.03 490.65M258.88 490.65L261.17 492.95M258.88 492.95L261.17 490.65M273.03 490.65L275.32 492.95M273.03 492.95L275.32 490.65M287.18 490.65L289.48 492.95M287.18 492.95L289.48 490.65M301.33 490.65L303.62 492.95M301.33 492.95L303.62 490.65M315.48 490.65L317.77 492.95M315.48 492.95L317.77 490.65M329.63 490.65L331.93 492.95M329.63 492.95L331.93 490.65M343.78 490.65L346.07 492.95M343.78 492.95L346.07 490.65M357.93 490.65L360.22 492.95M357.93 492.95L360.22 490.65M372.08 490.65L374.38 492.95M372.08 492.95L374.38 490.65M386.23 490.65L388.52 492.95M386.23 492.95L388.52 490.65M414.53 490.65L416.82 492.95M414.53 492.95L416.82 490.65M428.68 490.65L430.97 492.95M428.68 492.95L430.97 490.65M442.83 490.65L445.12 492.95M442.83 492.95L445.12 490.65M456.98 490.65L459.27 492.95M456.98 492.95L459.27 490.65M471.13 490.65L473.43 492.95M471.13 492.95L473.43 490.65M485.28 490.65L487.57 492.95M485.28 492.95L487.57 490.65M74.92 499.45L77.23 501.75M74.92 501.75L77.23 499.45M89.07 499.45L91.38 501.75M89.07 501.75L91.38 499.45M103.22 499.45L105.53 501.75M103.22 501.75L105.53 499.45M117.38 499.45L119.68 501.75M117.38 501.75L119.68 499.45M131.53 499.45L133.83 501.75M131.53 501.75L133.83 499.45M159.83 499.45L162.13 501.75M159.83 501.75L162.13 499.45M173.97 499.45L176.28 501.75M173.97 501.75L176.28 499.45M188.12 499.45L190.43 501.75M188.12 501.75L190.43 499.45M202.28 499.45L204.58 501.75M202.28 501.75L204.58 499.45M230.57 499.45L232.88 501.75M230.57 501.75L232.88 499.45M244.72 499.45L247.03 501.75M244.72 501.75L247.03 499.45M258.88 499.45L261.17 501.75M258.88 501.75L261.17 499.45M273.03 499.45L275.32 501.75M273.03 501.75L275.32 499.45M287.18 499.45L289.48 501.75M287.18 501.75L289.48 499.45M301.33 499.45L303.62 501.75M301.33 501.75L303.62 499.45M315.48 499.45L317.77 501.75M315.48 501.75L317.77 499.45M329.63 499.45L331.93 501.75M329.63 501.75L331.93 499.45M343.78 499.45L346.07 501.75M343.78 501.75L346.07 499.45M357.93 499.45L360.22 501.75M357.93 501.75L360.22 499.45M372.08 499.45L374.38 501.75M372.08 501.75L374.38 499.45M386.23 499.45L388.52 501.75M386.23 501.75L388.52 499.45M414.53 499.45L416.82 501.75M414.53 501.75L416.82 499.45M428.68 499.45L430.97 501.75M428.68 501.75L430.97 499.45M442.83 499.45L445.12 501.75M442.83 501.75L445.12 499.45M456.98 499.45L459.27 501.75M456.98 501.75L459.27 499.45M471.13 499.45L473.43 501.75M471.13 501.75L473.43 499.45M485.28 499.45L487.57 501.75M485.28 501.75L487.57 499.45M74.92 508.25L77.23 510.55M74.92 510.55L77.23 508.25M89.07 508.25L91.38 510.55M89.07 510.55L91.38 508.25M103.22 508.25L105.53 510.55M103.22 510.55L105.53 508.25M117.38 508.25L119.68 510.55M117.38 510.55L119.68 508.25M131.53 508.25L133.83 510.55M131.53 510.55L133.83 508.25M159.83 508.25L162.13 510.55M159.83 510.55L162.13 508.25M173.97 508.25L176.28 510.55M173.97 510.55L176.28 508.25M188.12 508.25L190.43 510.55M188.12 510.55L190.43 508.25M202.28 508.25L204.58 510.55M202.28 510.55L204.58 508.25M230.57 508.25L232.88 510.55M230.57 510.55L232.88 508.25M244.72 508.25L247.03 510.55M244.72 510.55L247.03 508.25M258.88 508.25L261.17 510.55M258.88 510.55L261.17 508.25M273.03 508.25L275.32 510.55M273.03 510.55L275.32 508.25M287.18 508.25L289.48 510.55M287.18 510.55L289.48 508.25M301.33 508.25L303.62 510.55M301.33 510.55L303.62 508.25M315.48 508.25L317.77 510.55M315.48 510.55L317.77 508.25M329.63 508.25L331.93 510.55M329.63 510.55L331.93 508.25M343.78 508.25L346.07 510.55M343.78 510.55L346.07 508.25M357.93 508.25L360.22 510.55M357.93 510.55L360.22 508.25M372.08 508.25L374.38 510.55M372.08 510.55L374.38 508.25M386.23 508.25L388.52 510.55M386.23 510.55L388.52 508.25M400.38 508.25L402.68 510.55M400.38 510.55L402.68 508.25M414.53 508.25L416.82 510.55M414.53 510.55L416.82 508.25M428.68 508.25L430.97 510.55M428.68 510.55L430.97 508.25M442.83 508.25L445.12 510.55M442.83 510.55L445.12 508.25M456.98 508.25L459.27 510.55M456.98 510.55L459.27 508.25M471.13 508.25L473.43 510.55M471.13 510.55L473.43 508.25M485.28 508.25L487.57 510.55M485.28 510.55L487.57 508.25M89.07 517.05L91.38 519.35M89.07 519.35L91.38 517.05M117.38 517.05L119.68 519.35M117.38 519.35L119.68 517.05M131.53 517.05L133.83 519.35M131.53 519.35L133.83 517.05M145.67 517.05L147.97 519.35M145.67 519.35L147.97 517.05M202.28 517.05L204.58 519.35M202.28 519.35L204.58 517.05M244.72 517.05L247.03 519.35M244.72 519.35L247.03 517.05M258.88 517.05L261.17 519.35M258.88 519.35L261.17 517.05M273.03 517.05L275.32 519.35M273.03 519.35L275.32 517.05M287.18 517.05L289.48 519.35M287.18 519.35L289.48 517.05M315.48 517.05L317.77 519.35M315.48 519.35L317.77 517.05M329.63 517.05L331.93 519.35M329.63 519.35L331.93 517.05M357.93 517.05L360.22 519.35M357.93 519.35L360.22 517.05M372.08 517.05L374.38 519.35M372.08 519.35L374.38 517.05M386.23 517.05L388.52 519.35M386.23 519.35L388.52 517.05M414.53 517.05L416.82 519.35M414.53 519.35L416.82 517.05M74.92 525.85L77.23 528.15M74.92 528.15L77.23 525.85M89.07 525.85L91.38 528.15M89.07 528.15L91.38 525.85M103.22 525.85L105.53 528.15M103.22 528.15L105.53 525.85M117.38 525.85L119.68 528.15M117.38 528.15L119.68 525.85M131.53 525.85L133.83 528.15M131.53 528.15L133.83 525.85M159.83 525.85L162.13 528.15M159.83 528.15L162.13 525.85M188.12 525.85L190.43 528.15M188.12 528.15L190.43 525.85M202.28 525.85L204.58 528.15M202.28 528.15L204.58 525.85M230.57 525.85L232.88 528.15M230.57 528.15L232.88 525.85M244.72 525.85L247.03 528.15M244.72 528.15L247.03 525.85M258.88 525.85L261.17 528.15M258.88 528.15L261.17 525.85M273.03 525.85L275.32 528.15M273.03 528.15L275.32 525.85M287.18 525.85L289.48 528.15M287.18 528.15L289.48 525.85M301.33 525.85L303.62 528.15M301.33 528.15L303.62 525.85M315.48 525.85L317.77 528.15M315.48 528.15L317.77 525.85M329.63 525.85L331.93 528.15M329.63 528.15L331.93 525.85M343.78 525.85L346.07 528.15M343.78 528.15L346.07 525.85M357.93 525.85L360.22 528.15M357.93 528.15L360.22 525.85M372.08 525.85L374.38 528.15M372.08 528.15L374.38 525.85M386.23 525.85L388.52 528.15M386.23 528.15L388.52 525.85M414.53 525.85L416.82 528.15M414.53 528.15L416.82 525.85M428.68 525.85L430.97 528.15M428.68 528.15L430.97 525.85M442.83 525.85L445.12 528.15M442.83 528.15L445.12 525.85M456.98 525.85L459.27 528.15M456.98 528.15L459.27 525.85M471.13 525.85L473.43 528.15M471.13 528.15L473.43 525.85M485.28 525.85L487.57 528.15M485.28 528.15L487.57 525.85M74.92 534.65L77.23 536.95M74.92 536.95L77.23 534.65M89.07 534.65L91.38 536.95M89.07 536.95L91.38 534.65M103.22 534.65L105.53 536.95M103.22 536.95L105.53 534.65M117.38 534.65L119.68 536.95M117.38 536.95L119.68 534.65M159.83 534.65L162.13 536.95M159.83 536.95L162.13 534.65M173.97 534.65L176.28 536.95M173.97 536.95L176.28 534.65M188.12 534.65L190.43 536.95M188.12 536.95L190.43 534.65M230.57 534.65L232.88 536.95M230.57 536.95L232.88 534.65M244.72 534.65L247.03 536.95M244.72 536.95L247.03 534.65M258.88 534.65L261.17 536.95M258.88 536.95L261.17 534.65M273.03 534.65L275.32 536.95M273.03 536.95L275.32 534.65M287.18 534.65L289.48 536.95M287.18 536.95L289.48 534.65M301.33 534.65L303.62 536.95M301.33 536.95L303.62 534.65M315.48 534.65L317.77 536.95M315.48 536.95L317.77 534.65M329.63 534.65L331.93 536.95M329.63 536.95L331.93 534.65M343.78 534.65L346.07 536.95M343.78 536.95L346.07 534.65M357.93 534.65L360.22 536.95M357.93 536.95L360.22 534.65M372.08 534.65L374.38 536.95M372.08 536.95L374.38 534.65M386.23 534.65L388.52 536.95M386.23 536.95L388.52 534.65M414.53 534.65L416.82 536.95M414.53 536.95L416.82 534.65M428.68 534.65L430.97 536.95M428.68 536.95L430.97 534.65M471.13 534.65L473.43 536.95M471.13 536.95L473.43 534.65M485.28 534.65L487.57 536.95M485.28 536.95L487.57 534.65M74.92 543.45L77.23 545.75M74.92 545.75L77.23 543.45M89.07 543.45L91.38 545.75M89.07 545.75L91.38 543.45M103.22 543.45L105.53 545.75M103.22 545.75L105.53 543.45M117.38 543.45L119.68 545.75M117.38 545.75L119.68 543.45M131.53 543.45L133.83 545.75M131.53 545.75L133.83 543.45M145.67 543.45L147.97 545.75M145.67 545.75L147.97 543.45M159.83 543.45L162.13 545.75M159.83 545.75L162.13 543.45M188.12 543.45L190.43 545.75M188.12 545.75L190.43 543.45M202.28 543.45L204.58 545.75M202.28 545.75L204.58 543.45M216.43 543.45L218.73 545.75M216.43 545.75L218.73 543.45M244.72 543.45L247.03 545.75M244.72 545.75L247.03 543.45M258.88 543.45L261.17 545.75M258.88 545.75L261.17 543.45M273.03 543.45L275.32 545.75M273.03 545.75L275.32 543.45M287.18 543.45L289.48 545.75M287.18 545.75L289.48 543.45M301.33 543.45L303.62 545.75M301.33 545.75L303.62 543.45M315.48 543.45L317.77 545.75M315.48 545.75L317.77 543.45M329.63 543.45L331.93 545.75M329.63 545.75L331.93 543.45M343.78 543.45L346.07 545.75M343.78 545.75L346.07 543.45M357.93 543.45L360.22 545.75M357.93 545.75L360.22 543.45M372.08 543.45L374.38 545.75M372.08 545.75L374.38 543.45M386.23 543.45L388.52 545.75M386.23 545.75L388.52 543.45M414.53 543.45L416.82 545.75M414.53 545.75L416.82 543.45M428.68 543.45L430.97 545.75M428.68 545.75L430.97 543.45M442.83 543.45L445.12 545.75M442.83 545.75L445.12 543.45M456.98 543.45L459.27 545.75M456.98 545.75L459.27 543.45M471.13 543.45L473.43 545.75M471.13 545.75L473.43 543.45M485.28 543.45L487.57 545.75M485.28 545.75L487.57 543.45M74.92 561.05L77.23 563.35M74.92 563.35L77.23 561.05M89.07 561.05L91.38 563.35M89.07 563.35L91.38 561.05M103.22 561.05L105.53 563.35M103.22 563.35L105.53 561.05M117.38 561.05L119.68 563.35M117.38 563.35L119.68 561.05M131.53 561.05L133.83 563.35M131.53 563.35L133.83 561.05M145.67 561.05L147.97 563.35M145.67 563.35L147.97 561.05M159.83 561.05L162.13 563.35M159.83 563.35L162.13 561.05M188.12 561.05L190.43 563.35M188.12 563.35L190.43 561.05M202.28 561.05L204.58 563.35M202.28 563.35L204.58 561.05M216.43 561.05L218.73 563.35M216.43 563.35L218.73 561.05M230.57 561.05L232.88 563.35M230.57 563.35L232.88 561.05M244.72 561.05L247.03 563.35M244.72 563.35L247.03 561.05M258.88 561.05L261.17 563.35M258.88 563.35L261.17 561.05M273.03 561.05L275.32 563.35M273.03 563.35L275.32 561.05M287.18 561.05L289.48 563.35M287.18 563.35L289.48 561.05M301.33 561.05L303.62 563.35M301.33 563.35L303.62 561.05M315.48 561.05L317.77 563.35M315.48 563.35L317.77 561.05M329.63 561.05L331.93 563.35M329.63 563.35L331.93 561.05M343.78 561.05L346.07 563.35M343.78 563.35L346.07 561.05M357.93 561.05L360.22 563.35M357.93 563.35L360.22 561.05M372.08 561.05L374.38 563.35M372.08 563.35L374.38 561.05M386.23 561.05L388.52 563.35M386.23 563.35L388.52 561.05M414.53 561.05L416.82 563.35M414.53 563.35L416.82 561.05M428.68 561.05L430.97 563.35M428.68 563.35L430.97 561.05M442.83 561.05L445.12 563.35M442.83 563.35L445.12 561.05M456.98 561.05L459.27 563.35M456.98 563.35L459.27 561.05M471.13 561.05L473.43 563.35M471.13 563.35L473.43 561.05M485.28 561.05L487.57 563.35M485.28 563.35L487.57 561.05M74.92 569.85L77.23 572.15M74.92 572.15L77.23 569.85M89.07 569.85L91.38 572.15M89.07 572.15L91.38 569.85M131.53 569.85L133.83 572.15M131.53 572.15L133.83 569.85M173.97 569.85L176.28 572.15M173.97 572.15L176.28 569.85M202.28 569.85L204.58 572.15M202.28 572.15L204.58 569.85M287.18 569.85L289.48 572.15M287.18 572.15L289.48 569.85M329.63 569.85L331.93 572.15M329.63 572.15L331.93 569.85M357.93 569.85L360.22 572.15M357.93 572.15L360.22 569.85M74.92 578.65L77.23 580.95M74.92 580.95L77.23 578.65M89.07 578.65L91.38 580.95M89.07 580.95L91.38 578.65M103.22 578.65L105.53 580.95M103.22 580.95L105.53 578.65M117.38 578.65L119.68 580.95M117.38 580.95L119.68 578.65M131.53 578.65L133.83 580.95M131.53 580.95L133.83 578.65M159.83 578.65L162.13 580.95M159.83 580.95L162.13 578.65M188.12 578.65L190.43 580.95M188.12 580.95L190.43 578.65M202.28 578.65L204.58 580.95M202.28 580.95L204.58 578.65M230.57 578.65L232.88 580.95M230.57 580.95L232.88 578.65M244.72 578.65L247.03 580.95M244.72 580.95L247.03 578.65M258.88 578.65L261.17 580.95M258.88 580.95L261.17 578.65M273.03 578.65L275.32 580.95M273.03 580.95L275.32 578.65M287.18 578.65L289.48 580.95M287.18 580.95L289.48 578.65M301.33 578.65L303.62 580.95M301.33 580.95L303.62 578.65M315.48 578.65L317.77 580.95M315.48 580.95L317.77 578.65M329.63 578.65L331.93 580.95M329.63 580.95L331.93 578.65M343.78 578.65L346.07 580.95M343.78 580.95L346.07 578.65M357.93 578.65L360.22 580.95M357.93 580.95L360.22 578.65M372.08 578.65L374.38 580.95M372.08 580.95L374.38 578.65M386.23 578.65L388.52 580.95M386.23 580.95L388.52 578.65M414.53 578.65L416.82 580.95M414.53 580.95L416.82 578.65M428.68 578.65L430.97 580.95M428.68 580.95L430.97 578.65M442.83 578.65L445.12 580.95M442.83 580.95L445.12 578.65M456.98 578.65L459.27 580.95M456.98 580.95L459.27 578.65M471.13 578.65L473.43 580.95M471.13 580.95L473.43 578.65M485.28 578.65L487.57 580.95M485.28 580.95L487.57 578.65M74.92 587.45L77.23 589.75M74.92 589.75L77.23 587.45M89.07 587.45L91.38 589.75M89.07 589.75L91.38 587.45M103.22 587.45L105.53 589.75M103.22 589.75L105.53 587.45M117.38 587.45L119.68 589.75M117.38 589.75L119.68 587.45M131.53 587.45L133.83 589.75M131.53 589.75L133.83 587.45M145.67 587.45L147.97 589.75M145.67 589.75L147.97 587.45M159.83 587.45L162.13 589.75M159.83 589.75L162.13 587.45M188.12 587.45L190.43 589.75M188.12 589.75L190.43 587.45M202.28 587.45L204.58 589.75M202.28 589.75L204.58 587.45M230.57 587.45L232.88 589.75M230.57 589.75L232.88 587.45M244.72 587.45L247.03 589.75M244.72 589.75L247.03 587.45M258.88 587.45L261.17 589.75M258.88 589.75L261.17 587.45M273.03 587.45L275.32 589.75M273.03 589.75L275.32 587.45M287.18 587.45L289.48 589.75M287.18 589.75L289.48 587.45M301.33 587.45L303.62 589.75M301.33 589.75L303.62 587.45M315.48 587.45L317.77 589.75M315.48 589.75L317.77 587.45M329.63 587.45L331.93 589.75M329.63 589.75L331.93 587.45M343.78 587.45L346.07 589.75M343.78 589.75L346.07 587.45M357.93 587.45L360.22 589.75M357.93 589.75L360.22 587.45M372.08 587.45L374.38 589.75M372.08 589.75L374.38 587.45M386.23 587.45L388.52 589.75M386.23 589.75L388.52 587.45M400.38 587.45L402.68 589.75M400.38 589.75L402.68 587.45M414.53 587.45L416.82 589.75M414.53 589.75L416.82 587.45M428.68 587.45L430.97 589.75M428.68 589.75L430.97 587.45M442.83 587.45L445.12 589.75M442.83 589.75L445.12 587.45M456.98 587.45L459.27 589.75M456.98 589.75L459.27 587.45M471.13 587.45L473.43 589.75M471.13 589.75L473.43 587.45M485.28 587.45L487.57 589.75M485.28 589.75L487.57 587.45M74.92 596.25L77.23 598.55M74.92 598.55L77.23 596.25M89.07 596.25L91.38 598.55M89.07 598.55L91.38 596.25M103.22 596.25L105.53 598.55M103.22 598.55L105.53 596.25M117.38 596.25L119.68 598.55M117.38 598.55L119.68 596.25M131.53 596.25L133.83 598.55M131.53 598.55L133.83 596.25M159.83 596.25L162.13 598.55M159.83 598.55L162.13 596.25M173.97 596.25L176.28 598.55M173.97 598.55L176.28 596.25M188.12 596.25L190.43 598.55M188.12 598.55L190.43 596.25M202.28 596.25L204.58 598.55M202.28 598.55L204.58 596.25M230.57 596.25L232.88 598.55M230.57 598.55L232.88 596.25M244.72 596.25L247.03 598.55M244.72 598.55L247.03 596.25M258.88 596.25L261.17 598.55M258.88 598.55L261.17 596.25M273.03 596.25L275.32 598.55M273.03 598.55L275.32 596.25M287.18 596.25L289.48 598.55M287.18 598.55L289.48 596.25M301.33 596.25L303.62 598.55M301.33 598.55L303.62 596.25M315.48 596.25L317.77 598.55M315.48 598.55L317.77 596.25M329.63 596.25L331.93 598.55M329.63 598.55L331.93 596.25M343.78 596.25L346.07 598.55M343.78 598.55L346.07 596.25M357.93 596.25L360.22 598.55M357.93 598.55L360.22 596.25M372.08 596.25L374.38 598.55M372.08 598.55L374.38 596.25M386.23 596.25L388.52 598.55M386.23 598.55L388.52 596.25M400.38 596.25L402.68 598.55M400.38 598.55L402.68 596.25M414.53 596.25L416.82 598.55M414.53 598.55L416.82 596.25M428.68 596.25L430.97 598.55M428.68 598.55L430.97 596.25M442.83 596.25L445.12 598.55M442.83 598.55L445.12 596.25M456.98 596.25L459.27 598.55M456.98 598.55L459.27 596.25M471.13 596.25L473.43 598.55M471.13 598.55L473.43 596.25M485.28 596.25L487.57 598.55M485.28 598.55L487.57 596.25M74.92 605.05L77.23 607.35M74.92 607.35L77.23 605.05M89.07 605.05L91.38 607.35M89.07 607.35L91.38 605.05M103.22 605.05L105.53 607.35M103.22 607.35L105.53 605.05M117.38 605.05L119.68 607.35M117.38 607.35L119.68 605.05M131.53 605.05L133.83 607.35M131.53 607.35L133.83 605.05M159.83 605.05L162.13 607.35M159.83 607.35L162.13 605.05M188.12 605.05L190.43 607.35M188.12 607.35L190.43 605.05M202.28 605.05L204.58 607.35M202.28 607.35L204.58 605.05M230.57 605.05L232.88 607.35M230.57 607.35L232.88 605.05M244.72 605.05L247.03 607.35M244.72 607.35L247.03 605.05M258.88 605.05L261.17 607.35M258.88 607.35L261.17 605.05M273.03 605.05L275.32 607.35M273.03 607.35L275.32 605.05M287.18 605.05L289.48 607.35M287.18 607.35L289.48 605.05M301.33 605.05L303.62 607.35M301.33 607.35L303.62 605.05M315.48 605.05L317.77 607.35M315.48 607.35L317.77 605.05M329.63 605.05L331.93 607.35M329.63 607.35L331.93 605.05M343.78 605.05L346.07 607.35M343.78 607.35L346.07 605.05M357.93 605.05L360.22 607.35M357.93 607.35L360.22 605.05M372.08 605.05L374.38 607.35M372.08 607.35L374.38 605.05M386.23 605.05L388.52 607.35M386.23 607.35L388.52 605.05M414.53 605.05L416.82 607.35M414.53 607.35L416.82 605.05M428.68 605.05L430.97 607.35M428.68 607.35L430.97 605.05M442.83 605.05L445.12 607.35M442.83 607.35L445.12 605.05M456.98 605.05L459.27 607.35M456.98 607.35L459.27 605.05M471.13 605.05L473.43 607.35M471.13 607.35L473.43 605.05M485.28 605.05L487.57 607.35M485.28 607.35L487.57 605.05M103.22 613.85L105.53 616.15M103.22 616.15L105.53 613.85M74.92 622.65L77.23 624.95M74.92 624.95L77.23 622.65M89.07 622.65L91.38 624.95M89.07 624.95L91.38 622.65M103.22 622.65L105.53 624.95M103.22 624.95L105.53 622.65M117.38 622.65L119.68 624.95M117.38 624.95L119.68 622.65M131.53 622.65L133.83 624.95M131.53 624.95L133.83 622.65M159.83 622.65L162.13 624.95M159.83 624.95L162.13 622.65M173.97 622.65L176.28 624.95M173.97 624.95L176.28 622.65M188.12 622.65L190.43 624.95M188.12 624.95L190.43 622.65M202.28 622.65L204.58 624.95M202.28 624.95L204.58 622.65M230.57 622.65L232.88 624.95M230.57 624.95L232.88 622.65M244.72 622.65L247.03 624.95M244.72 624.95L247.03 622.65M258.88 622.65L261.17 624.95M258.88 624.95L261.17 622.65M273.03 622.65L275.32 624.95M273.03 624.95L275.32 622.65M287.18 622.65L289.48 624.95M287.18 624.95L289.48 622.65M301.33 622.65L303.62 624.95M301.33 624.95L303.62 622.65M315.48 622.65L317.77 624.95M315.48 624.95L317.77 622.65M329.63 622.65L331.93 624.95M329.63 624.95L331.93 622.65M343.78 622.65L346.07 624.95M343.78 624.95L346.07 622.65M357.93 622.65L360.22 624.95M357.93 624.95L360.22 622.65M372.08 622.65L374.38 624.95M372.08 624.95L374.38 622.65M386.23 622.65L388.52 624.95M386.23 624.95L388.52 622.65M400.38 622.65L402.68 624.95M400.38 624.95L402.68 622.65M414.53 622.65L416.82 624.95M414.53 624.95L416.82 622.65M428.68 622.65L430.97 624.95M428.68 624.95L430.97 622.65M442.83 622.65L445.12 624.95M442.83 624.95L445.12 622.65M456.98 622.65L459.27 624.95M456.98 624.95L459.27 622.65M471.13 622.65L473.43 624.95M471.13 624.95L473.43 622.65M485.28 622.65L487.57 624.95M485.28 624.95L487.57 622.65M89.07 631.45L91.38 633.75M89.07 633.75L91.38 631.45M131.53 631.45L133.83 633.75M131.53 633.75L133.83 631.45M202.28 631.45L204.58 633.75M202.28 633.75L204.58 631.45M216.43 631.45L218.73 633.75M216.43 633.75L218.73 631.45M258.88 631.45L261.17 633.75M258.88 633.75L261.17 631.45M273.03 631.45L275.32 633.75M273.03 633.75L275.32 631.45M287.18 631.45L289.48 633.75M287.18 633.75L289.48 631.45M386.23 631.45L388.52 633.75M386.23 633.75L388.52 631.45M471.13 631.45L473.43 633.75M471.13 633.75L473.43 631.45M89.07 640.25L91.38 642.55M89.07 642.55L91.38 640.25M103.22 640.25L105.53 642.55M103.22 642.55L105.53 640.25M117.38 640.25L119.68 642.55M117.38 642.55L119.68 640.25M131.53 640.25L133.83 642.55M131.53 642.55L133.83 640.25M188.12 640.25L190.43 642.55M188.12 642.55L190.43 640.25M202.28 640.25L204.58 642.55M202.28 642.55L204.58 640.25M244.72 640.25L247.03 642.55M244.72 642.55L247.03 640.25M273.03 640.25L275.32 642.55M273.03 642.55L275.32 640.25M287.18 640.25L289.48 642.55M287.18 642.55L289.48 640.25M301.33 640.25L303.62 642.55M301.33 642.55L303.62 640.25M357.93 640.25L360.22 642.55M357.93 642.55L360.22 640.25M386.23 640.25L388.52 642.55M386.23 642.55L388.52 640.25M428.68 640.25L430.97 642.55M428.68 642.55L430.97 640.25M442.83 640.25L445.12 642.55M442.83 642.55L445.12 640.25M471.13 640.25L473.43 642.55M471.13 642.55L473.43 640.25M485.28 640.25L487.57 642.55M485.28 642.55L487.57 640.25" stroke="#222" stroke-width="0.9" fill="none"/>
<g font-family="Liberation Sans, sans-serif" font-size="7.1" fill="#262626"><text x="66.3" y="387.40" text-anchor="end" dy="0.35em">SOX10</text><text x="66.3" y="396.20" text-anchor="end" dy="0.35em">RPE65</text><text x="66.3" y="405.00" text-anchor="end" dy="0.35em">DZIP1</text><text x="66.3" y="413.80" text-anchor="end" dy="0.35em">ARHGEF4</text><text x="66.3" y="422.60" text-anchor="end" dy="0.35em">CDKN2A</text><text x="66.3" y="431.40" text-anchor="end" dy="0.35em">SOX11</text><text x="66.3" y="440.20" text-anchor="end" dy="0.35em">ZNF454</text><text x="66.3" y="449.00" text-anchor="end" dy="0.35em">SNCAIP</text><text x="66.3" y="457.80" text-anchor="end" dy="0.35em">RGMA</text><text x="66.3" y="466.60" text-anchor="end" dy="0.35em">PIF1</text><text x="66.3" y="475.40" text-anchor="end" dy="0.35em">JPH4</text><text x="66.3" y="484.20" text-anchor="end" dy="0.35em">ADAMTS3</text><text x="66.3" y="493.00" text-anchor="end" dy="0.35em">EN1</text><text x="66.3" y="501.80" text-anchor="end" dy="0.35em">CLCN4</text><text x="66.3" y="510.60" text-anchor="end" dy="0.35em">L3MBTL4</text><text x="66.3" y="519.40" text-anchor="end" dy="0.35em">GDF7</text><text x="66.3" y="528.20" text-anchor="end" dy="0.35em">JRKL</text><text x="66.3" y="537.00" text-anchor="end" dy="0.35em">RCOR2</text><text x="66.3" y="545.80" text-anchor="end" dy="0.35em">ST3GAL6</text><text x="66.3" y="554.60" text-anchor="end" dy="0.35em">RETN</text><text x="66.3" y="563.40" text-anchor="end" dy="0.35em">PELI1</text><text x="66.3" y="572.20" text-anchor="end" dy="0.35em">TERT</text><text x="66.3" y="581.00" text-anchor="end" dy="0.35em">CCDC82</text><text x="66.3" y="589.80" text-anchor="end" dy="0.35em">NPM2</text><text x="66.3" y="598.60" text-anchor="end" dy="0.35em">FXYD6</text><text x="66.3" y="607.40" text-anchor="end" dy="0.35em">PLCG2</text><text x="66.3" y="616.20" text-anchor="end" dy="0.35em">SPATA22</text><text x="66.3" y="625.00" text-anchor="end" dy="0.35em">TMPRSS12</text><text x="66.3" y="633.80" text-anchor="end" dy="0.35em">FAM181A</text><text x="66.3" y="642.60" text-anchor="end" dy="0.35em">MEST</text><text transform="translate(76.08 650.30) rotate(-90)" text-anchor="end" dy="0.35em">ANKRD17</text><text transform="translate(90.22 650.30) rotate(-90)" text-anchor="end" dy="0.35em">APOA5</text><text transform="translate(104.38 650.30) rotate(-90)" text-anchor="end" dy="0.35em">ARHGEF1</text><text transform="translate(118.53 650.30) rotate(-90)" text-anchor="end" dy="0.35em">DICER1</text><text transform="translate(132.68 650.30) rotate(-90)" text-anchor="end" dy="0.35em">C7orf65</text><text transform="translate(146.82 650.30) rotate(-90)" text-anchor="end" dy="0.35em">ILF2</text><text transform="translate(160.98 650.30) rotate(-90)" text-anchor="end" dy="0.35em">SULT1A2</text><text transform="translate(175.12 650.30) rotate(-90)" text-anchor="end" dy="0.35em">AC005597.1</text><text transform="translate(189.28 650.30) rotate(-90)" text-anchor="end" dy="0.35em">RP11-23D24.2</text><text transform="translate(203.43 650.30) rotate(-90)" text-anchor="end" dy="0.35em">ZG16B</text><text transform="translate(217.58 650.30) rotate(-90)" text-anchor="end" dy="0.35em">SFR1</text><text transform="translate(231.72 650.30) rotate(-90)" text-anchor="end" dy="0.35em">SRSF5</text><text transform="translate(245.88 650.30) rotate(-90)" text-anchor="end" dy="0.35em">FRY</text><text transform="translate(260.02 650.30) rotate(-90)" text-anchor="end" dy="0.35em">RP11-166D19</text><text transform="translate(274.18 650.30) rotate(-90)" text-anchor="end" dy="0.35em">ST6GALNAC4</text><text transform="translate(288.33 650.30) rotate(-90)" text-anchor="end" dy="0.35em">PCBP1-AS1</text><text transform="translate(302.48 650.30) rotate(-90)" text-anchor="end" dy="0.35em">RP11-265N7</text><text transform="translate(316.62 650.30) rotate(-90)" text-anchor="end" dy="0.35em">RP5-991G20</text><text transform="translate(330.78 650.30) rotate(-90)" text-anchor="end" dy="0.35em">TMPRSS4</text><text transform="translate(344.93 650.30) rotate(-90)" text-anchor="end" dy="0.35em">FN1</text><text transform="translate(359.07 650.30) rotate(-90)" text-anchor="end" dy="0.35em">OAZ2</text><text transform="translate(373.23 650.30) rotate(-90)" text-anchor="end" dy="0.35em">SPSB3</text><text transform="translate(387.38 650.30) rotate(-90)" text-anchor="end" dy="0.35em">MED27</text><text transform="translate(401.53 650.30) rotate(-90)" text-anchor="end" dy="0.35em">CHI3L2</text><text transform="translate(415.68 650.30) rotate(-90)" text-anchor="end" dy="0.35em">TATDN1</text><text transform="translate(429.82 650.30) rotate(-90)" text-anchor="end" dy="0.35em">GPLD1</text><text transform="translate(443.98 650.30) rotate(-90)" text-anchor="end" dy="0.35em">LRRFIP1</text><text transform="translate(458.12 650.30) rotate(-90)" text-anchor="end" dy="0.35em">LINC01483</text><text transform="translate(472.28 650.30) rotate(-90)" text-anchor="end" dy="0.35em">SLC26A9</text><text transform="translate(486.43 650.30) rotate(-90)" text-anchor="end" dy="0.35em">PEX10</text></g>
<text x="281.25" y="378.30" text-anchor="middle" font-family="Liberation Sans, sans-serif" font-size="10.67" fill="#262626">Pairwise correlation between mRNA and DNA Methylation</text>
<text x="281.25" y="705.60" text-anchor="middle" font-family="Liberation Sans, sans-serif" font-size="9.6" fill="#262626">DNA Methylation</text>
<text transform="translate(26.40 515.20) rotate(-90)" text-anchor="middle" font-family="Liberation Sans, sans-serif" font-size="9.6" fill="#262626">mRNA</text>
<text x="69.00" y="364.30" font-family="Liberation Serif, serif" font-size="16.5" letter-spacing="0.8" fill="#000">(b)</text>
<rect x="520" y="382.60" width="13.2" height="264.00" fill="url(#cw)"/>
<g font-family="Liberation Sans, sans-serif" font-size="7.1" fill="#262626"><text x="535.3" y="629.20" dy="0.35em">0.0</text><text x="535.3" y="593.22" dy="0.35em">0.1</text><text x="535.3" y="557.24" dy="0.35em">0.2</text><text x="535.3" y="521.26" dy="0.35em">0.3</text><text x="535.3" y="485.28" dy="0.35em">0.4</text><text x="535.3" y="449.30" dy="0.35em">0.5</text><text x="535.3" y="413.32" dy="0.35em">0.6</text></g>
<g shape-rendering="crispEdges"><rect x="69.0" y="736.4" width="14.5" height="9.1" fill="#eb7d62"/><rect x="83.2" y="736.4" width="14.5" height="9.1" fill="#dd5f4b"/><rect x="97.3" y="736.4" width="14.5" height="9.1" fill="#ccd9ed"/><rect x="111.5" y="736.4" width="14.5" height="9.1" fill="#eb7d62"/><rect x="125.6" y="736.4" width="14.5" height="9.1" fill="#a3c2fe"/><rect x="139.8" y="736.4" width="14.5" height="9.1" fill="#f7b093"/><rect x="153.9" y="736.4" width="14.5" height="9.1" fill="#f7b093"/><rect x="168.1" y="736.4" width="14.5" height="9.1" fill="#8db0fe"/><rect x="182.2" y="736.4" width="14.5" height="9.1" fill="#ecd3c5"/><rect x="196.4" y="736.4" width="14.5" height="9.1" fill="#b9d0f9"/><rect x="210.5" y="736.4" width="14.5" height="9.1" fill="#b9d0f9"/><rect x="224.7" y="736.4" width="14.5" height="9.1" fill="#dd5f4b"/><rect x="238.8" y="736.4" width="14.5" height="9.1" fill="#eb7d62"/><rect x="253.0" y="736.4" width="14.5" height="9.1" fill="#ecd3c5"/><rect x="267.1" y="736.4" width="14.5" height="9.1" fill="#f7b093"/><rect x="281.2" y="736.4" width="14.5" height="9.1" fill="#ecd3c5"/><rect x="295.4" y="736.4" width="14.5" height="9.1" fill="#ecd3c5"/><rect x="309.6" y="736.4" width="14.5" height="9.1" fill="#eb7d62"/><rect x="323.7" y="736.4" width="14.5" height="9.1" fill="#ecd3c5"/><rect x="337.9" y="736.4" width="14.5" height="9.1" fill="#8db0fe"/><rect x="352.0" y="736.4" width="14.5" height="9.1" fill="#ecd3c5"/><rect x="366.2" y="736.4" width="14.5" height="9.1" fill="#b9d0f9"/><rect x="380.3" y="736.4" width="14.5" height="9.1" fill="#ecd3c5"/><rect x="394.4" y="736.4" width="14.5" height="9.1" fill="#ecd3c5"/><rect x="408.6" y="736.4" width="14.5" height="9.1" fill="#779af7"/><rect x="422.8" y="736.4" width="14.5" height="9.1" fill="#4e68d8"/><rect x="436.9" y="736.4" width="14.5" height="9.1" fill="#b9d0f9"/><rect x="451.1" y="736.4" width="14.5" height="9.1" fill="#b9d0f9"/><rect x="465.2" y="736.4" width="14.5" height="9.1" fill="#779af7"/><rect x="479.4" y="736.4" width="14.5" height="9.1" fill="#779af7"/><rect x="69.0" y="745.2" width="14.5" height="9.1" fill="#dd5f4b"/><rect x="83.2" y="745.2" width="14.5" height="9.1" fill="#eb7d62"/><rect x="97.3" y="745.2" width="14.5" height="9.1" fill="#f7b093"/><rect x="111.5" y="745.2" width="14.5" height="9.1" fill="#ecd3c5"/><rect x="125.6" y="745.2" width="14.5" height="9.1" fill="#ccd9ed"/><rect x="139.8" y="745.2" width="14.5" height="9.1" fill="#f7b093"/><rect x="153.9" y="745.2" width="14.5" height="9.1" fill="#f7b093"/><rect x="168.1" y="745.2" width="14.5" height="9.1" fill="#b9d0f9"/><rect x="182.2" y="745.2" width="14.5" height="9.1" fill="#eb7d62"/><rect x="196.4" y="745.2" width="14.5" height="9.1" fill="#ccd9ed"/><rect x="210.5" y="745.2" width="14.5" height="9.1" fill="#b9d0f9"/><rect x="224.7" y="745.2" width="14.5" height="9.1" fill="#f7b093"/><rect x="238.8" y="745.2" width="14.5" height="9.1" fill="#f7b093"/><rect x="253.0" y="745.2" width="14.5" height="9.1" fill="#ecd3c5"/><rect x="267.1" y="745.2" width="14.5" height="9.1" fill="#ecd3c5"/><rect x="281.2" y="745.2" width="14.5" height="9.1" fill="#f7b093"/><rect x="295.4" y="745.2" width="14.5" height="9.1" fill="#f7b093"/><rect x="309.6" y="745.2" width="14.5" height="9.1" fill="#f7b093"/><rect x="323.7" y="745.2" width="14.5" height="9.1" fill="#b9d0f9"/><rect x="337.9" y="745.2" width="14.5" height="9.1" fill="#ccd9ed"/><rect x="352.0" y="745.2" width="14.5" height="9.1" fill="#ccd9ed"/><rect x="366.2" y="745.2" width="14.5" height="9.1" fill="#ccd9ed"/><rect x="380.3" y="745.2" width="14.5" height="9.1" fill="#ecd3c5"/><rect x="394.4" y="745.2" width="14.5" height="9.1" fill="#ecd3c5"/><rect x="408.6" y="745.2" width="14.5" height="9.1" fill="#8db0fe"/><rect x="422.8" y="745.2" width="14.5" height="9.1" fill="#ccd9ed"/><rect x="436.9" y="745.2" width="14.5" height="9.1" fill="#b9d0f9"/><rect x="451.1" y="745.2" width="14.5" height="9.1" fill="#b9d0f9"/><rect x="465.2" y="745.2" width="14.5" height="9.1" fill="#8db0fe"/><rect x="479.4" y="745.2" width="14.5" height="9.1" fill="#b9d0f9"/><rect x="69.0" y="754.0" width="14.5" height="9.1" fill="#f7b093"/><rect x="83.2" y="754.0" width="14.5" height="9.1" fill="#eb7d62"/><rect x="97.3" y="754.0" width="14.5" height="9.1" fill="#dd5f4b"/><rect x="111.5" y="754.0" width="14.5" height="9.1" fill="#ecd3c5"/><rect x="125.6" y="754.0" width="14.5" height="9.1" fill="#f7b093"/><rect x="139.8" y="754.0" width="14.5" height="9.1" fill="#f7b093"/><rect x="153.9" y="754.0" width="14.5" height="9.1" fill="#f7b093"/><rect x="168.1" y="754.0" width="14.5" height="9.1" fill="#ccd9ed"/><rect x="182.2" y="754.0" width="14.5" height="9.1" fill="#ccd9ed"/><rect x="196.4" y="754.0" width="14.5" height="9.1" fill="#ccd9ed"/><rect x="210.5" y="754.0" width="14.5" height="9.1" fill="#ccd9ed"/><rect x="224.7" y="754.0" width="14.5" height="9.1" fill="#f7b093"/><rect x="238.8" y="754.0" width="14.5" height="9.1" fill="#ecd3c5"/><rect x="253.0" y="754.0" width="14.5" height="9.1" fill="#ecd3c5"/><rect x="267.1" y="754.0" width="14.5" height="9.1" fill="#ecd3c5"/><rect x="281.2" y="754.0" width="14.5" height="9.1" fill="#eb7d62"/><rect x="295.4" y="754.0" width="14.5" height="9.1" fill="#ccd9ed"/><rect x="309.6" y="754.0" width="14.5" height="9.1" fill="#f7b093"/><rect x="323.7" y="754.0" width="14.5" height="9.1" fill="#b9d0f9"/><rect x="337.9" y="754.0" width="14.5" height="9.1" fill="#779af7"/><rect x="352.0" y="754.0" width="14.5" height="9.1" fill="#ccd9ed"/><rect x="366.2" y="754.0" width="14.5" height="9.1" fill="#ccd9ed"/><rect x="380.3" y="754.0" width="14.5" height="9.1" fill="#ccd9ed"/><rect x="394.4" y="754.0" width="14.5" height="9.1" fill="#b9d0f9"/><rect x="408.6" y="754.0" width="14.5" height="9.1" fill="#b9d0f9"/><rect x="422.8" y="754.0" width="14.5" height="9.1" fill="#b9d0f9"/><rect x="436.9" y="754.0" width="14.5" height="9.1" fill="#b9d0f9"/><rect x="451.1" y="754.0" width="14.5" height="9.1" fill="#8db0fe"/><rect x="465.2" y="754.0" width="14.5" height="9.1" fill="#779af7"/><rect x="479.4" y="754.0" width="14.5" height="9.1" fill="#8db0fe"/><rect x="69.0" y="762.8" width="14.5" height="9.1" fill="#f7b093"/><rect x="83.2" y="762.8" width="14.5" height="9.1" fill="#eb7d62"/><rect x="97.3" y="762.8" width="14.5" height="9.1" fill="#f7b093"/><rect x="111.5" y="762.8" width="14.5" height="9.1" fill="#ecd3c5"/><rect x="125.6" y="762.8" width="14.5" height="9.1" fill="#f7b093"/><rect x="139.8" y="762.8" width="14.5" height="9.1" fill="#f7b093"/><rect x="153.9" y="762.8" width="14.5" height="9.1" fill="#f7b093"/><rect x="168.1" y="762.8" width="14.5" height="9.1" fill="#b9d0f9"/><rect x="182.2" y="762.8" width="14.5" height="9.1" fill="#ecd3c5"/><rect x="196.4" y="762.8" width="14.5" height="9.1" fill="#ccd9ed"/><rect x="210.5" y="762.8" width="14.5" height="9.1" fill="#b9d0f9"/><rect x="224.7" y="762.8" width="14.5" height="9.1" fill="#f7b093"/><rect x="238.8" y="762.8" width="14.5" height="9.1" fill="#f7b093"/><rect x="253.0" y="762.8" width="14.5" height="9.1" fill="#ecd3c5"/><rect x="267.1" y="762.8" width="14.5" height="9.1" fill="#ecd3c5"/><rect x="281.2" y="762.8" width="14.5" height="9.1" fill="#f7b093"/><rect x="295.4" y="762.8" width="14.5" height="9.1" fill="#ecd3c5"/><rect x="309.6" y="762.8" width="14.5" height="9.1" fill="#f7b093"/><rect x="323.7" y="762.8" width="14.5" height="9.1" fill="#ccd9ed"/><rect x="337.9" y="762.8" width="14.5" height="9.1" fill="#b9d0f9"/><rect x="352.0" y="762.8" width="14.5" height="9.1" fill="#ccd9ed"/><rect x="366.2" y="762.8" width="14.5" height="9.1" fill="#ccd9ed"/><rect x="380.3" y="762.8" width="14.5" height="9.1" fill="#ccd9ed"/><rect x="394.4" y="762.8" width="14.5" height="9.1" fill="#ccd9ed"/><rect x="408.6" y="762.8" width="14.5" height="9.1" fill="#8db0fe"/><rect x="422.8" y="762.8" width="14.5" height="9.1" fill="#b9d0f9"/><rect x="436.9" y="762.8" width="14.5" height="9.1" fill="#b9d0f9"/><rect x="451.1" y="762.8" width="14.5" height="9.1" fill="#8db0fe"/><rect x="465.2" y="762.8" width="14.5" height="9.1" fill="#779af7"/><rect x="479.4" y="762.8" width="14.5" height="9.1" fill="#8db0fe"/><rect x="69.0" y="771.6" width="14.5" height="9.1" fill="#b40426"/><rect x="83.2" y="771.6" width="14.5" height="9.1" fill="#f7b093"/><rect x="97.3" y="771.6" width="14.5" height="9.1" fill="#8db0fe"/><rect x="111.5" y="771.6" width="14.5" height="9.1" fill="#ecd3c5"/><rect x="125.6" y="771.6" width="14.5" height="9.1" fill="#b9d0f9"/><rect x="139.8" y="771.6" width="14.5" height="9.1" fill="#ecd3c5"/><rect x="153.9" y="771.6" width="14.5" height="9.1" fill="#b9d0f9"/><rect x="168.1" y="771.6" width="14.5" height="9.1" fill="#b9d0f9"/><rect x="182.2" y="771.6" width="14.5" height="9.1" fill="#ecd3c5"/><rect x="196.4" y="771.6" width="14.5" height="9.1" fill="#8db0fe"/><rect x="210.5" y="771.6" width="14.5" height="9.1" fill="#779af7"/><rect x="224.7" y="771.6" width="14.5" height="9.1" fill="#ccd9ed"/><rect x="238.8" y="771.6" width="14.5" height="9.1" fill="#f7b093"/><rect x="253.0" y="771.6" width="14.5" height="9.1" fill="#b9d0f9"/><rect x="267.1" y="771.6" width="14.5" height="9.1" fill="#ccd9ed"/><rect x="281.2" y="771.6" width="14.5" height="9.1" fill="#ecd3c5"/><rect x="295.4" y="771.6" width="14.5" height="9.1" fill="#ecd3c5"/><rect x="309.6" y="771.6" width="14.5" height="9.1" fill="#ecd3c5"/><rect x="323.7" y="771.6" width="14.5" height="9.1" fill="#b9d0f9"/><rect x="337.9" y="771.6" width="14.5" height="9.1" fill="#ecd3c5"/><rect x="352.0" y="771.6" width="14.5" height="9.1" fill="#8db0fe"/><rect x="366.2" y="771.6" width="14.5" height="9.1" fill="#f7b093"/><rect x="380.3" y="771.6" width="14.5" height="9.1" fill="#b9d0f9"/><rect x="394.4" y="771.6" width="14.5" height="9.1" fill="#b9d0f9"/><rect x="408.6" y="771.6" width="14.5" height="9.1" fill="#ecd3c5"/><rect x="422.8" y="771.6" width="14.5" height="9.1" fill="#ecd3c5"/><rect x="436.9" y="771.6" width="14.5" height="9.1" fill="#8db0fe"/><rect x="451.1" y="771.6" width="14.5" height="9.1" fill="#8db0fe"/><rect x="465.2" y="771.6" width="14.5" height="9.1" fill="#b9d0f9"/><rect x="479.4" y="771.6" width="14.5" height="9.1" fill="#8db0fe"/><rect x="69.0" y="780.4" width="14.5" height="9.1" fill="#ccd9ed"/><rect x="83.2" y="780.4" width="14.5" height="9.1" fill="#ecd3c5"/><rect x="97.3" y="780.4" width="14.5" height="9.1" fill="#8db0fe"/><rect x="111.5" y="780.4" width="14.5" height="9.1" fill="#a3c2fe"/><rect x="125.6" y="780.4" width="14.5" height="9.1" fill="#6282ea"/><rect x="139.8" y="780.4" width="14.5" height="9.1" fill="#4e68d8"/><rect x="153.9" y="780.4" width="14.5" height="9.1" fill="#8db0fe"/><rect x="168.1" y="780.4" width="14.5" height="9.1" fill="#779af7"/><rect x="182.2" y="780.4" width="14.5" height="9.1" fill="#3b4cc0"/><rect x="196.4" y="780.4" width="14.5" height="9.1" fill="#6282ea"/><rect x="210.5" y="780.4" width="14.5" height="9.1" fill="#b9d0f9"/><rect x="224.7" y="780.4" width="14.5" height="9.1" fill="#779af7"/><rect x="238.8" y="780.4" width="14.5" height="9.1" fill="#ecd3c5"/><rect x="253.0" y="780.4" width="14.5" height="9.1" fill="#6282ea"/><rect x="267.1" y="780.4" width="14.5" height="9.1" fill="#b9d0f9"/><rect x="281.2" y="780.4" width="14.5" height="9.1" fill="#8db0fe"/><rect x="295.4" y="780.4" width="14.5" height="9.1" fill="#b9d0f9"/><rect x="309.6" y="780.4" width="14.5" height="9.1" fill="#b9d0f9"/><rect x="323.7" y="780.4" width="14.5" height="9.1" fill="#3b4cc0"/><rect x="337.9" y="780.4" width="14.5" height="9.1" fill="#779af7"/><rect x="352.0" y="780.4" width="14.5" height="9.1" fill="#ccd9ed"/><rect x="366.2" y="780.4" width="14.5" height="9.1" fill="#f7b093"/><rect x="380.3" y="780.4" width="14.5" height="9.1" fill="#8db0fe"/><rect x="394.4" y="780.4" width="14.5" height="9.1" fill="#6282ea"/><rect x="408.6" y="780.4" width="14.5" height="9.1" fill="#6282ea"/><rect x="422.8" y="780.4" width="14.5" height="9.1" fill="#4e68d8"/><rect x="436.9" y="780.4" width="14.5" height="9.1" fill="#4e68d8"/><rect x="451.1" y="780.4" width="14.5" height="9.1" fill="#6282ea"/><rect x="465.2" y="780.4" width="14.5" height="9.1" fill="#4e68d8"/><rect x="479.4" y="780.4" width="14.5" height="9.1" fill="#6282ea"/><rect x="69.0" y="789.2" width="14.5" height="9.1" fill="#f7b093"/><rect x="83.2" y="789.2" width="14.5" height="9.1" fill="#ecd3c5"/><rect x="97.3" y="789.2" width="14.5" height="9.1" fill="#ecd3c5"/><rect x="111.5" y="789.2" width="14.5" height="9.1" fill="#b9d0f9"/><rect x="125.6" y="789.2" width="14.5" height="9.1" fill="#ccd9ed"/><rect x="139.8" y="789.2" width="14.5" height="9.1" fill="#ccd9ed"/><rect x="153.9" y="789.2" width="14.5" height="9.1" fill="#ccd9ed"/><rect x="168.1" y="789.2" width="14.5" height="9.1" fill="#b9d0f9"/><rect x="182.2" y="789.2" width="14.5" height="9.1" fill="#ccd9ed"/><rect x="196.4" y="789.2" width="14.5" height="9.1" fill="#b9d0f9"/><rect x="210.5" y="789.2" width="14.5" height="9.1" fill="#8db0fe"/><rect x="224.7" y="789.2" width="14.5" height="9.1" fill="#ccd9ed"/><rect x="238.8" y="789.2" width="14.5" height="9.1" fill="#ccd9ed"/><rect x="253.0" y="789.2" width="14.5" height="9.1" fill="#8db0fe"/><rect x="267.1" y="789.2" width="14.5" height="9.1" fill="#b9d0f9"/><rect x="281.2" y="789.2" width="14.5" height="9.1" fill="#ecd3c5"/><rect x="295.4" y="789.2" width="14.5" height="9.1" fill="#b9d0f9"/><rect x="309.6" y="789.2" width="14.5" height="9.1" fill="#b9d0f9"/><rect x="323.7" y="789.2" width="14.5" height="9.1" fill="#8db0fe"/><rect x="337.9" y="789.2" width="14.5" height="9.1" fill="#b9d0f9"/><rect x="352.0" y="789.2" width="14.5" height="9.1" fill="#b9d0f9"/><rect x="366.2" y="789.2" width="14.5" height="9.1" fill="#b9d0f9"/><rect x="380.3" y="789.2" width="14.5" height="9.1" fill="#8db0fe"/><rect x="394.4" y="789.2" width="14.5" height="9.1" fill="#b9d0f9"/><rect x="408.6" y="789.2" width="14.5" height="9.1" fill="#8db0fe"/><rect x="422.8" y="789.2" width="14.5" height="9.1" fill="#8db0fe"/><rect x="436.9" y="789.2" width="14.5" height="9.1" fill="#8db0fe"/><rect x="451.1" y="789.2" width="14.5" height="9.1" fill="#779af7"/><rect x="465.2" y="789.2" width="14.5" height="9.1" fill="#6282ea"/><rect x="479.4" y="789.2" width="14.5" height="9.1" fill="#8db0fe"/><rect x="69.0" y="798.0" width="14.5" height="9.1" fill="#f7b093"/><rect x="83.2" y="798.0" width="14.5" height="9.1" fill="#b9d0f9"/><rect x="97.3" y="798.0" width="14.5" height="9.1" fill="#b9d0f9"/><rect x="111.5" y="798.0" width="14.5" height="9.1" fill="#ccd9ed"/><rect x="125.6" y="798.0" width="14.5" height="9.1" fill="#779af7"/><rect x="139.8" y="798.0" width="14.5" height="9.1" fill="#b9d0f9"/><rect x="153.9" y="798.0" width="14.5" height="9.1" fill="#ccd9ed"/><rect x="168.1" y="798.0" width="14.5" height="9.1" fill="#8db0fe"/><rect x="182.2" y="798.0" width="14.5" height="9.1" fill="#b9d0f9"/><rect x="196.4" y="798.0" width="14.5" height="9.1" fill="#b9d0f9"/><rect x="210.5" y="798.0" width="14.5" height="9.1" fill="#8db0fe"/><rect x="224.7" y="798.0" width="14.5" height="9.1" fill="#ecd3c5"/><rect x="238.8" y="798.0" width="14.5" height="9.1" fill="#ccd9ed"/><rect x="253.0" y="798.0" width="14.5" height="9.1" fill="#b9d0f9"/><rect x="267.1" y="798.0" width="14.5" height="9.1" fill="#779af7"/><rect x="281.2" y="798.0" width="14.5" height="9.1" fill="#8db0fe"/><rect x="295.4" y="798.0" width="14.5" height="9.1" fill="#f7b093"/><rect x="309.6" y="798.0" width="14.5" height="9.1" fill="#b9d0f9"/><rect x="323.7" y="798.0" width="14.5" height="9.1" fill="#8db0fe"/><rect x="337.9" y="798.0" width="14.5" height="9.1" fill="#f7b093"/><rect x="352.0" y="798.0" width="14.5" height="9.1" fill="#779af7"/><rect x="366.2" y="798.0" width="14.5" height="9.1" fill="#ccd9ed"/><rect x="380.3" y="798.0" width="14.5" height="9.1" fill="#8db0fe"/><rect x="394.4" y="798.0" width="14.5" height="9.1" fill="#b9d0f9"/><rect x="408.6" y="798.0" width="14.5" height="9.1" fill="#8db0fe"/><rect x="422.8" y="798.0" width="14.5" height="9.1" fill="#b9d0f9"/><rect x="436.9" y="798.0" width="14.5" height="9.1" fill="#8db0fe"/><rect x="451.1" y="798.0" width="14.5" height="9.1" fill="#8db0fe"/><rect x="465.2" y="798.0" width="14.5" height="9.1" fill="#6282ea"/><rect x="479.4" y="798.0" width="14.5" height="9.1" fill="#8db0fe"/><rect x="69.0" y="806.8" width="14.5" height="9.1" fill="#f7b093"/><rect x="83.2" y="806.8" width="14.5" height="9.1" fill="#eb7d62"/><rect x="97.3" y="806.8" width="14.5" height="9.1" fill="#f7b093"/><rect x="111.5" y="806.8" width="14.5" height="9.1" fill="#b9d0f9"/><rect x="125.6" y="806.8" width="14.5" height="9.1" fill="#ccd9ed"/><rect x="139.8" y="806.8" width="14.5" height="9.1" fill="#f7b093"/><rect x="153.9" y="806.8" width="14.5" height="9.1" fill="#ccd9ed"/><rect x="168.1" y="806.8" width="14.5" height="9.1" fill="#b9d0f9"/><rect x="182.2" y="806.8" width="14.5" height="9.1" fill="#b9d0f9"/><rect x="196.4" y="806.8" width="14.5" height="9.1" fill="#a3c2fe"/><rect x="210.5" y="806.8" width="14.5" height="9.1" fill="#8db0fe"/><rect x="224.7" y="806.8" width="14.5" height="9.1" fill="#ecd3c5"/><rect x="238.8" y="806.8" width="14.5" height="9.1" fill="#ccd9ed"/><rect x="253.0" y="806.8" width="14.5" height="9.1" fill="#8db0fe"/><rect x="267.1" y="806.8" width="14.5" height="9.1" fill="#8db0fe"/><rect x="281.2" y="806.8" width="14.5" height="9.1" fill="#f7b093"/><rect x="295.4" y="806.8" width="14.5" height="9.1" fill="#b9d0f9"/><rect x="309.6" y="806.8" width="14.5" height="9.1" fill="#b9d0f9"/><rect x="323.7" y="806.8" width="14.5" height="9.1" fill="#779af7"/><rect x="337.9" y="806.8" width="14.5" height="9.1" fill="#b9d0f9"/><rect x="352.0" y="806.8" width="14.5" height="9.1" fill="#8db0fe"/><rect x="366.2" y="806.8" width="14.5" height="9.1" fill="#ccd9ed"/><rect x="380.3" y="806.8" width="14.5" height="9.1" fill="#8db0fe"/><rect x="394.4" y="806.8" width="14.5" height="9.1" fill="#b9d0f9"/><rect x="408.6" y="806.8" width="14.5" height="9.1" fill="#8db0fe"/><rect x="422.8" y="806.8" width="14.5" height="9.1" fill="#b9d0f9"/><rect x="436.9" y="806.8" width="14.5" height="9.1" fill="#8db0fe"/><rect x="451.1" y="806.8" width="14.5" height="9.1" fill="#779af7"/><rect x="465.2" y="806.8" width="14.5" height="9.1" fill="#8db0fe"/><rect x="479.4" y="806.8" width="14.5" height="9.1" fill="#8db0fe"/><rect x="69.0" y="815.6" width="14.5" height="9.1" fill="#eb7d62"/><rect x="83.2" y="815.6" width="14.5" height="9.1" fill="#ecd3c5"/><rect x="97.3" y="815.6" width="14.5" height="9.1" fill="#8db0fe"/><rect x="111.5" y="815.6" width="14.5" height="9.1" fill="#b9d0f9"/><rect x="125.6" y="815.6" width="14.5" height="9.1" fill="#b9d0f9"/><rect x="139.8" y="815.6" width="14.5" height="9.1" fill="#ccd9ed"/><rect x="153.9" y="815.6" width="14.5" height="9.1" fill="#b9d0f9"/><rect x="168.1" y="815.6" width="14.5" height="9.1" fill="#f7b093"/><rect x="182.2" y="815.6" width="14.5" height="9.1" fill="#eb7d62"/><rect x="196.4" y="815.6" width="14.5" height="9.1" fill="#8db0fe"/><rect x="210.5" y="815.6" width="14.5" height="9.1" fill="#779af7"/><rect x="224.7" y="815.6" width="14.5" height="9.1" fill="#b9d0f9"/><rect x="238.8" y="815.6" width="14.5" height="9.1" fill="#ecd3c5"/><rect x="253.0" y="815.6" width="14.5" height="9.1" fill="#8db0fe"/><rect x="267.1" y="815.6" width="14.5" height="9.1" fill="#8db0fe"/><rect x="281.2" y="815.6" width="14.5" height="9.1" fill="#ccd9ed"/><rect x="295.4" y="815.6" width="14.5" height="9.1" fill="#b9d0f9"/><rect x="309.6" y="815.6" width="14.5" height="9.1" fill="#b9d0f9"/><rect x="323.7" y="815.6" width="14.5" height="9.1" fill="#8db0fe"/><rect x="337.9" y="815.6" width="14.5" height="9.1" fill="#f7b093"/><rect x="352.0" y="815.6" width="14.5" height="9.1" fill="#b9d0f9"/><rect x="366.2" y="815.6" width="14.5" height="9.1" fill="#ccd9ed"/><rect x="380.3" y="815.6" width="14.5" height="9.1" fill="#8db0fe"/><rect x="394.4" y="815.6" width="14.5" height="9.1" fill="#8db0fe"/><rect x="408.6" y="815.6" width="14.5" height="9.1" fill="#f7b093"/><rect x="422.8" y="815.6" width="14.5" height="9.1" fill="#eb7d62"/><rect x="436.9" y="815.6" width="14.5" height="9.1" fill="#8db0fe"/><rect x="451.1" y="815.6" width="14.5" height="9.1" fill="#779af7"/><rect x="465.2" y="815.6" width="14.5" height="9.1" fill="#8db0fe"/><rect x="479.4" y="815.6" width="14.5" height="9.1" fill="#b9d0f9"/><rect x="69.0" y="824.4" width="14.5" height="9.1" fill="#b9d0f9"/><rect x="83.2" y="824.4" width="14.5" height="9.1" fill="#eb7d62"/><rect x="97.3" y="824.4" width="14.5" height="9.1" fill="#8db0fe"/><rect x="111.5" y="824.4" width="14.5" height="9.1" fill="#6282ea"/><rect x="125.6" y="824.4" width="14.5" height="9.1" fill="#6282ea"/><rect x="139.8" y="824.4" width="14.5" height="9.1" fill="#6282ea"/><rect x="153.9" y="824.4" width="14.5" height="9.1" fill="#6282ea"/><rect x="168.1" y="824.4" width="14.5" height="9.1" fill="#779af7"/><rect x="182.2" y="824.4" width="14.5" height="9.1" fill="#779af7"/><rect x="196.4" y="824.4" width="14.5" height="9.1" fill="#4e68d8"/><rect x="210.5" y="824.4" width="14.5" height="9.1" fill="#4e68d8"/><rect x="224.7" y="824.4" width="14.5" height="9.1" fill="#8db0fe"/><rect x="238.8" y="824.4" width="14.5" height="9.1" fill="#ccd9ed"/><rect x="253.0" y="824.4" width="14.5" height="9.1" fill="#8db0fe"/><rect x="267.1" y="824.4" width="14.5" height="9.1" fill="#8db0fe"/><rect x="281.2" y="824.4" width="14.5" height="9.1" fill="#6282ea"/><rect x="295.4" y="824.4" width="14.5" height="9.1" fill="#ccd9ed"/><rect x="309.6" y="824.4" width="14.5" height="9.1" fill="#779af7"/><rect x="323.7" y="824.4" width="14.5" height="9.1" fill="#4e68d8"/><rect x="337.9" y="824.4" width="14.5" height="9.1" fill="#6282ea"/><rect x="352.0" y="824.4" width="14.5" height="9.1" fill="#ecd3c5"/><rect x="366.2" y="824.4" width="14.5" height="9.1" fill="#779af7"/><rect x="380.3" y="824.4" width="14.5" height="9.1" fill="#b9d0f9"/><rect x="394.4" y="824.4" width="14.5" height="9.1" fill="#779af7"/><rect x="408.6" y="824.4" width="14.5" height="9.1" fill="#8db0fe"/><rect x="422.8" y="824.4" width="14.5" height="9.1" fill="#779af7"/><rect x="436.9" y="824.4" width="14.5" height="9.1" fill="#779af7"/><rect x="451.1" y="824.4" width="14.5" height="9.1" fill="#b9d0f9"/><rect x="465.2" y="824.4" width="14.5" height="9.1" fill="#8db0fe"/><rect x="479.4" y="824.4" width="14.5" height="9.1" fill="#8db0fe"/><rect x="69.0" y="833.2" width="14.5" height="9.1" fill="#ccd9ed"/><rect x="83.2" y="833.2" width="14.5" height="9.1" fill="#ccd9ed"/><rect x="97.3" y="833.2" width="14.5" height="9.1" fill="#b9d0f9"/><rect x="111.5" y="833.2" width="14.5" height="9.1" fill="#b9d0f9"/><rect x="125.6" y="833.2" width="14.5" height="9.1" fill="#ccd9ed"/><rect x="139.8" y="833.2" width="14.5" height="9.1" fill="#b9d0f9"/><rect x="153.9" y="833.2" width="14.5" height="9.1" fill="#b9d0f9"/><rect x="168.1" y="833.2" width="14.5" height="9.1" fill="#8db0fe"/><rect x="182.2" y="833.2" width="14.5" height="9.1" fill="#b9d0f9"/><rect x="196.4" y="833.2" width="14.5" height="9.1" fill="#779af7"/><rect x="210.5" y="833.2" width="14.5" height="9.1" fill="#8db0fe"/><rect x="224.7" y="833.2" width="14.5" height="9.1" fill="#ccd9ed"/><rect x="238.8" y="833.2" width="14.5" height="9.1" fill="#b9d0f9"/><rect x="253.0" y="833.2" width="14.5" height="9.1" fill="#b9d0f9"/><rect x="267.1" y="833.2" width="14.5" height="9.1" fill="#b9d0f9"/><rect x="281.2" y="833.2" width="14.5" height="9.1" fill="#b9d0f9"/><rect x="295.4" y="833.2" width="14.5" height="9.1" fill="#b9d0f9"/><rect x="309.6" y="833.2" width="14.5" height="9.1" fill="#b9d0f9"/><rect x="323.7" y="833.2" width="14.5" height="9.1" fill="#779af7"/><rect x="337.9" y="833.2" width="14.5" height="9.1" fill="#8db0fe"/><rect x="352.0" y="833.2" width="14.5" height="9.1" fill="#b9d0f9"/><rect x="366.2" y="833.2" width="14.5" height="9.1" fill="#b9d0f9"/><rect x="380.3" y="833.2" width="14.5" height="9.1" fill="#b9d0f9"/><rect x="394.4" y="833.2" width="14.5" height="9.1" fill="#b9d0f9"/><rect x="408.6" y="833.2" width="14.5" height="9.1" fill="#779af7"/><rect x="422.8" y="833.2" width="14.5" height="9.1" fill="#779af7"/><rect x="436.9" y="833.2" width="14.5" height="9.1" fill="#8db0fe"/><rect x="451.1" y="833.2" width="14.5" height="9.1" fill="#779af7"/><rect x="465.2" y="833.2" width="14.5" height="9.1" fill="#779af7"/><rect x="479.4" y="833.2" width="14.5" height="9.1" fill="#779af7"/><rect x="69.0" y="842.0" width="14.5" height="9.1" fill="#f7b093"/><rect x="83.2" y="842.0" width="14.5" height="9.1" fill="#f7b093"/><rect x="97.3" y="842.0" width="14.5" height="9.1" fill="#f7b093"/><rect x="111.5" y="842.0" width="14.5" height="9.1" fill="#ccd9ed"/><rect x="125.6" y="842.0" width="14.5" height="9.1" fill="#ecd3c5"/><rect x="139.8" y="842.0" width="14.5" height="9.1" fill="#f7b093"/><rect x="153.9" y="842.0" width="14.5" height="9.1" fill="#ecd3c5"/><rect x="168.1" y="842.0" width="14.5" height="9.1" fill="#8db0fe"/><rect x="182.2" y="842.0" width="14.5" height="9.1" fill="#eb7d62"/><rect x="196.4" y="842.0" width="14.5" height="9.1" fill="#b9d0f9"/><rect x="210.5" y="842.0" width="14.5" height="9.1" fill="#b9d0f9"/><rect x="224.7" y="842.0" width="14.5" height="9.1" fill="#ecd3c5"/><rect x="238.8" y="842.0" width="14.5" height="9.1" fill="#ecd3c5"/><rect x="253.0" y="842.0" width="14.5" height="9.1" fill="#ecd3c5"/><rect x="267.1" y="842.0" width="14.5" height="9.1" fill="#ecd3c5"/><rect x="281.2" y="842.0" width="14.5" height="9.1" fill="#f7b093"/><rect x="295.4" y="842.0" width="14.5" height="9.1" fill="#ecd3c5"/><rect x="309.6" y="842.0" width="14.5" height="9.1" fill="#ecd3c5"/><rect x="323.7" y="842.0" width="14.5" height="9.1" fill="#ecd3c5"/><rect x="337.9" y="842.0" width="14.5" height="9.1" fill="#b9d0f9"/><rect x="352.0" y="842.0" width="14.5" height="9.1" fill="#ccd9ed"/><rect x="366.2" y="842.0" width="14.5" height="9.1" fill="#ccd9ed"/><rect x="380.3" y="842.0" width="14.5" height="9.1" fill="#ccd9ed"/><rect x="394.4" y="842.0" width="14.5" height="9.1" fill="#ccd9ed"/><rect x="408.6" y="842.0" width="14.5" height="9.1" fill="#b9d0f9"/><rect x="422.8" y="842.0" width="14.5" height="9.1" fill="#b9d0f9"/><rect x="436.9" y="842.0" width="14.5" height="9.1" fill="#b9d0f9"/><rect x="451.1" y="842.0" width="14.5" height="9.1" fill="#b9d0f9"/><rect x="465.2" y="842.0" width="14.5" height="9.1" fill="#b9d0f9"/><rect x="479.4" y="842.0" width="14.5" height="9.1" fill="#b9d0f9"/><rect x="69.0" y="850.8" width="14.5" height="9.1" fill="#ecd3c5"/><rect x="83.2" y="850.8" width="14.5" height="9.1" fill="#f7b093"/><rect x="97.3" y="850.8" width="14.5" height="9.1" fill="#ecd3c5"/><rect x="111.5" y="850.8" width="14.5" height="9.1" fill="#ecd3c5"/><rect x="125.6" y="850.8" width="14.5" height="9.1" fill="#8db0fe"/><rect x="139.8" y="850.8" width="14.5" height="9.1" fill="#ccd9ed"/><rect x="153.9" y="850.8" width="14.5" height="9.1" fill="#ccd9ed"/><rect x="168.1" y="850.8" width="14.5" height="9.1" fill="#8db0fe"/><rect x="182.2" y="850.8" width="14.5" height="9.1" fill="#b9d0f9"/><rect x="196.4" y="850.8" width="14.5" height="9.1" fill="#b9d0f9"/><rect x="210.5" y="850.8" width="14.5" height="9.1" fill="#b9d0f9"/><rect x="224.7" y="850.8" width="14.5" height="9.1" fill="#b9d0f9"/><rect x="238.8" y="850.8" width="14.5" height="9.1" fill="#b9d0f9"/><rect x="253.0" y="850.8" width="14.5" height="9.1" fill="#8db0fe"/><rect x="267.1" y="850.8" width="14.5" height="9.1" fill="#8db0fe"/><rect x="281.2" y="850.8" width="14.5" height="9.1" fill="#ecd3c5"/><rect x="295.4" y="850.8" width="14.5" height="9.1" fill="#b9d0f9"/><rect x="309.6" y="850.8" width="14.5" height="9.1" fill="#779af7"/><rect x="323.7" y="850.8" width="14.5" height="9.1" fill="#b9d0f9"/><rect x="337.9" y="850.8" width="14.5" height="9.1" fill="#b9d0f9"/><rect x="352.0" y="850.8" width="14.5" height="9.1" fill="#8db0fe"/><rect x="366.2" y="850.8" width="14.5" height="9.1" fill="#ecd3c5"/><rect x="380.3" y="850.8" width="14.5" height="9.1" fill="#b9d0f9"/><rect x="394.4" y="850.8" width="14.5" height="9.1" fill="#8db0fe"/><rect x="408.6" y="850.8" width="14.5" height="9.1" fill="#6282ea"/><rect x="422.8" y="850.8" width="14.5" height="9.1" fill="#8db0fe"/><rect x="436.9" y="850.8" width="14.5" height="9.1" fill="#8db0fe"/><rect x="451.1" y="850.8" width="14.5" height="9.1" fill="#6282ea"/><rect x="465.2" y="850.8" width="14.5" height="9.1" fill="#779af7"/><rect x="479.4" y="850.8" width="14.5" height="9.1" fill="#8db0fe"/><rect x="69.0" y="859.6" width="14.5" height="9.1" fill="#f7b093"/><rect x="83.2" y="859.6" width="14.5" height="9.1" fill="#eb7d62"/><rect x="97.3" y="859.6" width="14.5" height="9.1" fill="#f7b093"/><rect x="111.5" y="859.6" width="14.5" height="9.1" fill="#ecd3c5"/><rect x="125.6" y="859.6" width="14.5" height="9.1" fill="#ecd3c5"/><rect x="139.8" y="859.6" width="14.5" height="9.1" fill="#f7b093"/><rect x="153.9" y="859.6" width="14.5" height="9.1" fill="#ecd3c5"/><rect x="168.1" y="859.6" width="14.5" height="9.1" fill="#8db0fe"/><rect x="182.2" y="859.6" width="14.5" height="9.1" fill="#ecd3c5"/><rect x="196.4" y="859.6" width="14.5" height="9.1" fill="#b9d0f9"/><rect x="210.5" y="859.6" width="14.5" height="9.1" fill="#b9d0f9"/><rect x="224.7" y="859.6" width="14.5" height="9.1" fill="#ecd3c5"/><rect x="238.8" y="859.6" width="14.5" height="9.1" fill="#ecd3c5"/><rect x="253.0" y="859.6" width="14.5" height="9.1" fill="#ccd9ed"/><rect x="267.1" y="859.6" width="14.5" height="9.1" fill="#ccd9ed"/><rect x="281.2" y="859.6" width="14.5" height="9.1" fill="#f7b093"/><rect x="295.4" y="859.6" width="14.5" height="9.1" fill="#ecd3c5"/><rect x="309.6" y="859.6" width="14.5" height="9.1" fill="#ecd3c5"/><rect x="323.7" y="859.6" width="14.5" height="9.1" fill="#ccd9ed"/><rect x="337.9" y="859.6" width="14.5" height="9.1" fill="#b9d0f9"/><rect x="352.0" y="859.6" width="14.5" height="9.1" fill="#b9d0f9"/><rect x="366.2" y="859.6" width="14.5" height="9.1" fill="#ccd9ed"/><rect x="380.3" y="859.6" width="14.5" height="9.1" fill="#ccd9ed"/><rect x="394.4" y="859.6" width="14.5" height="9.1" fill="#ccd9ed"/><rect x="408.6" y="859.6" width="14.5" height="9.1" fill="#b9d0f9"/><rect x="422.8" y="859.6" width="14.5" height="9.1" fill="#b9d0f9"/><rect x="436.9" y="859.6" width="14.5" height="9.1" fill="#b9d0f9"/><rect x="451.1" y="859.6" width="14.5" height="9.1" fill="#8db0fe"/><rect x="465.2" y="859.6" width="14.5" height="9.1" fill="#8db0fe"/><rect x="479.4" y="859.6" width="14.5" height="9.1" fill="#8db0fe"/><rect x="69.0" y="868.4" width="14.5" height="9.1" fill="#f7b093"/><rect x="83.2" y="868.4" width="14.5" height="9.1" fill="#eb7d62"/><rect x="97.3" y="868.4" width="14.5" height="9.1" fill="#ccd9ed"/><rect x="111.5" y="868.4" width="14.5" height="9.1" fill="#b9d0f9"/><rect x="125.6" y="868.4" width="14.5" height="9.1" fill="#b9d0f9"/><rect x="139.8" y="868.4" width="14.5" height="9.1" fill="#ecd3c5"/><rect x="153.9" y="868.4" width="14.5" height="9.1" fill="#ecd3c5"/><rect x="168.1" y="868.4" width="14.5" height="9.1" fill="#a3c2fe"/><rect x="182.2" y="868.4" width="14.5" height="9.1" fill="#f7b093"/><rect x="196.4" y="868.4" width="14.5" height="9.1" fill="#b9d0f9"/><rect x="210.5" y="868.4" width="14.5" height="9.1" fill="#779af7"/><rect x="224.7" y="868.4" width="14.5" height="9.1" fill="#ecd3c5"/><rect x="238.8" y="868.4" width="14.5" height="9.1" fill="#ecd3c5"/><rect x="253.0" y="868.4" width="14.5" height="9.1" fill="#b9d0f9"/><rect x="267.1" y="868.4" width="14.5" height="9.1" fill="#b9d0f9"/><rect x="281.2" y="868.4" width="14.5" height="9.1" fill="#f7b093"/><rect x="295.4" y="868.4" width="14.5" height="9.1" fill="#ccd9ed"/><rect x="309.6" y="868.4" width="14.5" height="9.1" fill="#ccd9ed"/><rect x="323.7" y="868.4" width="14.5" height="9.1" fill="#ccd9ed"/><rect x="337.9" y="868.4" width="14.5" height="9.1" fill="#ccd9ed"/><rect x="352.0" y="868.4" width="14.5" height="9.1" fill="#8db0fe"/><rect x="366.2" y="868.4" width="14.5" height="9.1" fill="#b9d0f9"/><rect x="380.3" y="868.4" width="14.5" height="9.1" fill="#b9d0f9"/><rect x="394.4" y="868.4" width="14.5" height="9.1" fill="#a3c2fe"/><rect x="408.6" y="868.4" width="14.5" height="9.1" fill="#b9d0f9"/><rect x="422.8" y="868.4" width="14.5" height="9.1" fill="#ccd9ed"/><rect x="436.9" y="868.4" width="14.5" height="9.1" fill="#b9d0f9"/><rect x="451.1" y="868.4" width="14.5" height="9.1" fill="#779af7"/><rect x="465.2" y="868.4" width="14.5" height="9.1" fill="#779af7"/><rect x="479.4" y="868.4" width="14.5" height="9.1" fill="#779af7"/><rect x="69.0" y="877.2" width="14.5" height="9.1" fill="#f7b093"/><rect x="83.2" y="877.2" width="14.5" height="9.1" fill="#f7b093"/><rect x="97.3" y="877.2" width="14.5" height="9.1" fill="#f7b093"/><rect x="111.5" y="877.2" width="14.5" height="9.1" fill="#ccd9ed"/><rect x="125.6" y="877.2" width="14.5" height="9.1" fill="#f7b093"/><rect x="139.8" y="877.2" width="14.5" height="9.1" fill="#f7b093"/><rect x="153.9" y="877.2" width="14.5" height="9.1" fill="#ecd3c5"/><rect x="168.1" y="877.2" width="14.5" height="9.1" fill="#b9d0f9"/><rect x="182.2" y="877.2" width="14.5" height="9.1" fill="#b9d0f9"/><rect x="196.4" y="877.2" width="14.5" height="9.1" fill="#b9d0f9"/><rect x="210.5" y="877.2" width="14.5" height="9.1" fill="#8db0fe"/><rect x="224.7" y="877.2" width="14.5" height="9.1" fill="#ccd9ed"/><rect x="238.8" y="877.2" width="14.5" height="9.1" fill="#ecd3c5"/><rect x="253.0" y="877.2" width="14.5" height="9.1" fill="#b9d0f9"/><rect x="267.1" y="877.2" width="14.5" height="9.1" fill="#ecd3c5"/><rect x="281.2" y="877.2" width="14.5" height="9.1" fill="#f7b093"/><rect x="295.4" y="877.2" width="14.5" height="9.1" fill="#ccd9ed"/><rect x="309.6" y="877.2" width="14.5" height="9.1" fill="#ecd3c5"/><rect x="323.7" y="877.2" width="14.5" height="9.1" fill="#8db0fe"/><rect x="337.9" y="877.2" width="14.5" height="9.1" fill="#ccd9ed"/><rect x="352.0" y="877.2" width="14.5" height="9.1" fill="#b9d0f9"/><rect x="366.2" y="877.2" width="14.5" height="9.1" fill="#ccd9ed"/><rect x="380.3" y="877.2" width="14.5" height="9.1" fill="#b9d0f9"/><rect x="394.4" y="877.2" width="14.5" height="9.1" fill="#8db0fe"/><rect x="408.6" y="877.2" width="14.5" height="9.1" fill="#b9d0f9"/><rect x="422.8" y="877.2" width="14.5" height="9.1" fill="#ccd9ed"/><rect x="436.9" y="877.2" width="14.5" height="9.1" fill="#b9d0f9"/><rect x="451.1" y="877.2" width="14.5" height="9.1" fill="#779af7"/><rect x="465.2" y="877.2" width="14.5" height="9.1" fill="#779af7"/><rect x="479.4" y="877.2" width="14.5" height="9.1" fill="#b9d0f9"/><rect x="69.0" y="886.0" width="14.5" height="9.1" fill="#ecd3c5"/><rect x="83.2" y="886.0" width="14.5" height="9.1" fill="#ecd3c5"/><rect x="97.3" y="886.0" width="14.5" height="9.1" fill="#ecd3c5"/><rect x="111.5" y="886.0" width="14.5" height="9.1" fill="#ccd9ed"/><rect x="125.6" y="886.0" width="14.5" height="9.1" fill="#b9d0f9"/><rect x="139.8" y="886.0" width="14.5" height="9.1" fill="#ecd3c5"/><rect x="153.9" y="886.0" width="14.5" height="9.1" fill="#ecd3c5"/><rect x="168.1" y="886.0" width="14.5" height="9.1" fill="#b9d0f9"/><rect x="182.2" y="886.0" width="14.5" height="9.1" fill="#f7b093"/><rect x="196.4" y="886.0" width="14.5" height="9.1" fill="#b9d0f9"/><rect x="210.5" y="886.0" width="14.5" height="9.1" fill="#b9d0f9"/><rect x="224.7" y="886.0" width="14.5" height="9.1" fill="#ccd9ed"/><rect x="238.8" y="886.0" width="14.5" height="9.1" fill="#ecd3c5"/><rect x="253.0" y="886.0" width="14.5" height="9.1" fill="#b9d0f9"/><rect x="267.1" y="886.0" width="14.5" height="9.1" fill="#b9d0f9"/><rect x="281.2" y="886.0" width="14.5" height="9.1" fill="#ecd3c5"/><rect x="295.4" y="886.0" width="14.5" height="9.1" fill="#b9d0f9"/><rect x="309.6" y="886.0" width="14.5" height="9.1" fill="#ecd3c5"/><rect x="323.7" y="886.0" width="14.5" height="9.1" fill="#ccd9ed"/><rect x="337.9" y="886.0" width="14.5" height="9.1" fill="#b9d0f9"/><rect x="352.0" y="886.0" width="14.5" height="9.1" fill="#8db0fe"/><rect x="366.2" y="886.0" width="14.5" height="9.1" fill="#ccd9ed"/><rect x="380.3" y="886.0" width="14.5" height="9.1" fill="#b9d0f9"/><rect x="394.4" y="886.0" width="14.5" height="9.1" fill="#779af7"/><rect x="408.6" y="886.0" width="14.5" height="9.1" fill="#b9d0f9"/><rect x="422.8" y="886.0" width="14.5" height="9.1" fill="#b9d0f9"/><rect x="436.9" y="886.0" width="14.5" height="9.1" fill="#b9d0f9"/><rect x="451.1" y="886.0" width="14.5" height="9.1" fill="#6282ea"/><rect x="465.2" y="886.0" width="14.5" height="9.1" fill="#6282ea"/><rect x="479.4" y="886.0" width="14.5" height="9.1" fill="#779af7"/><rect x="69.0" y="894.8" width="14.5" height="9.1" fill="#f7b093"/><rect x="83.2" y="894.8" width="14.5" height="9.1" fill="#ecd3c5"/><rect x="97.3" y="894.8" width="14.5" height="9.1" fill="#b9d0f9"/><rect x="111.5" y="894.8" width="14.5" height="9.1" fill="#b9d0f9"/><rect x="125.6" y="894.8" width="14.5" height="9.1" fill="#b9d0f9"/><rect x="139.8" y="894.8" width="14.5" height="9.1" fill="#ecd3c5"/><rect x="153.9" y="894.8" width="14.5" height="9.1" fill="#ccd9ed"/><rect x="168.1" y="894.8" width="14.5" height="9.1" fill="#779af7"/><rect x="182.2" y="894.8" width="14.5" height="9.1" fill="#ccd9ed"/><rect x="196.4" y="894.8" width="14.5" height="9.1" fill="#8db0fe"/><rect x="210.5" y="894.8" width="14.5" height="9.1" fill="#8db0fe"/><rect x="224.7" y="894.8" width="14.5" height="9.1" fill="#ccd9ed"/><rect x="238.8" y="894.8" width="14.5" height="9.1" fill="#ecd3c5"/><rect x="253.0" y="894.8" width="14.5" height="9.1" fill="#8db0fe"/><rect x="267.1" y="894.8" width="14.5" height="9.1" fill="#ccd9ed"/><rect x="281.2" y="894.8" width="14.5" height="9.1" fill="#ecd3c5"/><rect x="295.4" y="894.8" width="14.5" height="9.1" fill="#ccd9ed"/><rect x="309.6" y="894.8" width="14.5" height="9.1" fill="#ccd9ed"/><rect x="323.7" y="894.8" width="14.5" height="9.1" fill="#8db0fe"/><rect x="337.9" y="894.8" width="14.5" height="9.1" fill="#b9d0f9"/><rect x="352.0" y="894.8" width="14.5" height="9.1" fill="#8db0fe"/><rect x="366.2" y="894.8" width="14.5" height="9.1" fill="#ecd3c5"/><rect x="380.3" y="894.8" width="14.5" height="9.1" fill="#b9d0f9"/><rect x="394.4" y="894.8" width="14.5" height="9.1" fill="#b9d0f9"/><rect x="408.6" y="894.8" width="14.5" height="9.1" fill="#779af7"/><rect x="422.8" y="894.8" width="14.5" height="9.1" fill="#779af7"/><rect x="436.9" y="894.8" width="14.5" height="9.1" fill="#b9d0f9"/><rect x="451.1" y="894.8" width="14.5" height="9.1" fill="#779af7"/><rect x="465.2" y="894.8" width="14.5" height="9.1" fill="#779af7"/><rect x="479.4" y="894.8" width="14.5" height="9.1" fill="#779af7"/><rect x="69.0" y="903.6" width="14.5" height="9.1" fill="#ccd9ed"/><rect x="83.2" y="903.6" width="14.5" height="9.1" fill="#ecd3c5"/><rect x="97.3" y="903.6" width="14.5" height="9.1" fill="#ccd9ed"/><rect x="111.5" y="903.6" width="14.5" height="9.1" fill="#8db0fe"/><rect x="125.6" y="903.6" width="14.5" height="9.1" fill="#ecd3c5"/><rect x="139.8" y="903.6" width="14.5" height="9.1" fill="#ccd9ed"/><rect x="153.9" y="903.6" width="14.5" height="9.1" fill="#ccd9ed"/><rect x="168.1" y="903.6" width="14.5" height="9.1" fill="#779af7"/><rect x="182.2" y="903.6" width="14.5" height="9.1" fill="#ecd3c5"/><rect x="196.4" y="903.6" width="14.5" height="9.1" fill="#a3c2fe"/><rect x="210.5" y="903.6" width="14.5" height="9.1" fill="#b9d0f9"/><rect x="224.7" y="903.6" width="14.5" height="9.1" fill="#b9d0f9"/><rect x="238.8" y="903.6" width="14.5" height="9.1" fill="#b9d0f9"/><rect x="253.0" y="903.6" width="14.5" height="9.1" fill="#b9d0f9"/><rect x="267.1" y="903.6" width="14.5" height="9.1" fill="#b9d0f9"/><rect x="281.2" y="903.6" width="14.5" height="9.1" fill="#ccd9ed"/><rect x="295.4" y="903.6" width="14.5" height="9.1" fill="#8db0fe"/><rect x="309.6" y="903.6" width="14.5" height="9.1" fill="#ccd9ed"/><rect x="323.7" y="903.6" width="14.5" height="9.1" fill="#b9d0f9"/><rect x="337.9" y="903.6" width="14.5" height="9.1" fill="#b9d0f9"/><rect x="352.0" y="903.6" width="14.5" height="9.1" fill="#b9d0f9"/><rect x="366.2" y="903.6" width="14.5" height="9.1" fill="#b9d0f9"/><rect x="380.3" y="903.6" width="14.5" height="9.1" fill="#b9d0f9"/><rect x="394.4" y="903.6" width="14.5" height="9.1" fill="#8db0fe"/><rect x="408.6" y="903.6" width="14.5" height="9.1" fill="#b9d0f9"/><rect x="422.8" y="903.6" width="14.5" height="9.1" fill="#b9d0f9"/><rect x="436.9" y="903.6" width="14.5" height="9.1" fill="#b9d0f9"/><rect x="451.1" y="903.6" width="14.5" height="9.1" fill="#779af7"/><rect x="465.2" y="903.6" width="14.5" height="9.1" fill="#8db0fe"/><rect x="479.4" y="903.6" width="14.5" height="9.1" fill="#b9d0f9"/><rect x="69.0" y="912.4" width="14.5" height="9.1" fill="#f7b093"/><rect x="83.2" y="912.4" width="14.5" height="9.1" fill="#f7b093"/><rect x="97.3" y="912.4" width="14.5" height="9.1" fill="#ccd9ed"/><rect x="111.5" y="912.4" width="14.5" height="9.1" fill="#ecd3c5"/><rect x="125.6" y="912.4" width="14.5" height="9.1" fill="#ecd3c5"/><rect x="139.8" y="912.4" width="14.5" height="9.1" fill="#f7b093"/><rect x="153.9" y="912.4" width="14.5" height="9.1" fill="#f7b093"/><rect x="168.1" y="912.4" width="14.5" height="9.1" fill="#a3c2fe"/><rect x="182.2" y="912.4" width="14.5" height="9.1" fill="#eb7d62"/><rect x="196.4" y="912.4" width="14.5" height="9.1" fill="#b9d0f9"/><rect x="210.5" y="912.4" width="14.5" height="9.1" fill="#8db0fe"/><rect x="224.7" y="912.4" width="14.5" height="9.1" fill="#f7b093"/><rect x="238.8" y="912.4" width="14.5" height="9.1" fill="#ecd3c5"/><rect x="253.0" y="912.4" width="14.5" height="9.1" fill="#ccd9ed"/><rect x="267.1" y="912.4" width="14.5" height="9.1" fill="#ccd9ed"/><rect x="281.2" y="912.4" width="14.5" height="9.1" fill="#ecd3c5"/><rect x="295.4" y="912.4" width="14.5" height="9.1" fill="#ecd3c5"/><rect x="309.6" y="912.4" width="14.5" height="9.1" fill="#ecd3c5"/><rect x="323.7" y="912.4" width="14.5" height="9.1" fill="#f7b093"/><rect x="337.9" y="912.4" width="14.5" height="9.1" fill="#b9d0f9"/><rect x="352.0" y="912.4" width="14.5" height="9.1" fill="#8db0fe"/><rect x="366.2" y="912.4" width="14.5" height="9.1" fill="#ccd9ed"/><rect x="380.3" y="912.4" width="14.5" height="9.1" fill="#8db0fe"/><rect x="394.4" y="912.4" width="14.5" height="9.1" fill="#ccd9ed"/><rect x="408.6" y="912.4" width="14.5" height="9.1" fill="#b9d0f9"/><rect x="422.8" y="912.4" width="14.5" height="9.1" fill="#b9d0f9"/><rect x="436.9" y="912.4" width="14.5" height="9.1" fill="#b9d0f9"/><rect x="451.1" y="912.4" width="14.5" height="9.1" fill="#779af7"/><rect x="465.2" y="912.4" width="14.5" height="9.1" fill="#4e68d8"/><rect x="479.4" y="912.4" width="14.5" height="9.1" fill="#b9d0f9"/><rect x="69.0" y="921.2" width="14.5" height="9.1" fill="#ecd3c5"/><rect x="83.2" y="921.2" width="14.5" height="9.1" fill="#f7b093"/><rect x="97.3" y="921.2" width="14.5" height="9.1" fill="#ecd3c5"/><rect x="111.5" y="921.2" width="14.5" height="9.1" fill="#ccd9ed"/><rect x="125.6" y="921.2" width="14.5" height="9.1" fill="#ccd9ed"/><rect x="139.8" y="921.2" width="14.5" height="9.1" fill="#ccd9ed"/><rect x="153.9" y="921.2" width="14.5" height="9.1" fill="#ecd3c5"/><rect x="168.1" y="921.2" width="14.5" height="9.1" fill="#b9d0f9"/><rect x="182.2" y="921.2" width="14.5" height="9.1" fill="#f7b093"/><rect x="196.4" y="921.2" width="14.5" height="9.1" fill="#ccd9ed"/><rect x="210.5" y="921.2" width="14.5" height="9.1" fill="#8db0fe"/><rect x="224.7" y="921.2" width="14.5" height="9.1" fill="#ecd3c5"/><rect x="238.8" y="921.2" width="14.5" height="9.1" fill="#ecd3c5"/><rect x="253.0" y="921.2" width="14.5" height="9.1" fill="#b9d0f9"/><rect x="267.1" y="921.2" width="14.5" height="9.1" fill="#ccd9ed"/><rect x="281.2" y="921.2" width="14.5" height="9.1" fill="#f7b093"/><rect x="295.4" y="921.2" width="14.5" height="9.1" fill="#ccd9ed"/><rect x="309.6" y="921.2" width="14.5" height="9.1" fill="#ecd3c5"/><rect x="323.7" y="921.2" width="14.5" height="9.1" fill="#ecd3c5"/><rect x="337.9" y="921.2" width="14.5" height="9.1" fill="#6282ea"/><rect x="352.0" y="921.2" width="14.5" height="9.1" fill="#ccd9ed"/><rect x="366.2" y="921.2" width="14.5" height="9.1" fill="#b9d0f9"/><rect x="380.3" y="921.2" width="14.5" height="9.1" fill="#b9d0f9"/><rect x="394.4" y="921.2" width="14.5" height="9.1" fill="#b9d0f9"/><rect x="408.6" y="921.2" width="14.5" height="9.1" fill="#b9d0f9"/><rect x="422.8" y="921.2" width="14.5" height="9.1" fill="#b9d0f9"/><rect x="436.9" y="921.2" width="14.5" height="9.1" fill="#b9d0f9"/><rect x="451.1" y="921.2" width="14.5" height="9.1" fill="#8db0fe"/><rect x="465.2" y="921.2" width="14.5" height="9.1" fill="#4e68d8"/><rect x="479.4" y="921.2" width="14.5" height="9.1" fill="#b9d0f9"/><rect x="69.0" y="930.0" width="14.5" height="9.1" fill="#f7b093"/><rect x="83.2" y="930.0" width="14.5" height="9.1" fill="#eb7d62"/><rect x="97.3" y="930.0" width="14.5" height="9.1" fill="#f7b093"/><rect x="111.5" y="930.0" width="14.5" height="9.1" fill="#b9d0f9"/><rect x="125.6" y="930.0" width="14.5" height="9.1" fill="#ecd3c5"/><rect x="139.8" y="930.0" width="14.5" height="9.1" fill="#ecd3c5"/><rect x="153.9" y="930.0" width="14.5" height="9.1" fill="#ecd3c5"/><rect x="168.1" y="930.0" width="14.5" height="9.1" fill="#b9d0f9"/><rect x="182.2" y="930.0" width="14.5" height="9.1" fill="#f7b093"/><rect x="196.4" y="930.0" width="14.5" height="9.1" fill="#b9d0f9"/><rect x="210.5" y="930.0" width="14.5" height="9.1" fill="#8db0fe"/><rect x="224.7" y="930.0" width="14.5" height="9.1" fill="#ecd3c5"/><rect x="238.8" y="930.0" width="14.5" height="9.1" fill="#ecd3c5"/><rect x="253.0" y="930.0" width="14.5" height="9.1" fill="#ccd9ed"/><rect x="267.1" y="930.0" width="14.5" height="9.1" fill="#ccd9ed"/><rect x="281.2" y="930.0" width="14.5" height="9.1" fill="#f7b093"/><rect x="295.4" y="930.0" width="14.5" height="9.1" fill="#ecd3c5"/><rect x="309.6" y="930.0" width="14.5" height="9.1" fill="#ecd3c5"/><rect x="323.7" y="930.0" width="14.5" height="9.1" fill="#ecd3c5"/><rect x="337.9" y="930.0" width="14.5" height="9.1" fill="#b9d0f9"/><rect x="352.0" y="930.0" width="14.5" height="9.1" fill="#8db0fe"/><rect x="366.2" y="930.0" width="14.5" height="9.1" fill="#ccd9ed"/><rect x="380.3" y="930.0" width="14.5" height="9.1" fill="#b9d0f9"/><rect x="394.4" y="930.0" width="14.5" height="9.1" fill="#ccd9ed"/><rect x="408.6" y="930.0" width="14.5" height="9.1" fill="#779af7"/><rect x="422.8" y="930.0" width="14.5" height="9.1" fill="#8db0fe"/><rect x="436.9" y="930.0" width="14.5" height="9.1" fill="#b9d0f9"/><rect x="451.1" y="930.0" width="14.5" height="9.1" fill="#779af7"/><rect x="465.2" y="930.0" width="14.5" height="9.1" fill="#8db0fe"/><rect x="479.4" y="930.0" width="14.5" height="9.1" fill="#b9d0f9"/><rect x="69.0" y="938.8" width="14.5" height="9.1" fill="#ccd9ed"/><rect x="83.2" y="938.8" width="14.5" height="9.1" fill="#ccd9ed"/><rect x="97.3" y="938.8" width="14.5" height="9.1" fill="#6282ea"/><rect x="111.5" y="938.8" width="14.5" height="9.1" fill="#6282ea"/><rect x="125.6" y="938.8" width="14.5" height="9.1" fill="#4e68d8"/><rect x="139.8" y="938.8" width="14.5" height="9.1" fill="#779af7"/><rect x="153.9" y="938.8" width="14.5" height="9.1" fill="#6282ea"/><rect x="168.1" y="938.8" width="14.5" height="9.1" fill="#8db0fe"/><rect x="182.2" y="938.8" width="14.5" height="9.1" fill="#3b4cc0"/><rect x="196.4" y="938.8" width="14.5" height="9.1" fill="#779af7"/><rect x="210.5" y="938.8" width="14.5" height="9.1" fill="#4e68d8"/><rect x="224.7" y="938.8" width="14.5" height="9.1" fill="#8db0fe"/><rect x="238.8" y="938.8" width="14.5" height="9.1" fill="#b9d0f9"/><rect x="253.0" y="938.8" width="14.5" height="9.1" fill="#6282ea"/><rect x="267.1" y="938.8" width="14.5" height="9.1" fill="#779af7"/><rect x="281.2" y="938.8" width="14.5" height="9.1" fill="#b9d0f9"/><rect x="295.4" y="938.8" width="14.5" height="9.1" fill="#b9d0f9"/><rect x="309.6" y="938.8" width="14.5" height="9.1" fill="#6282ea"/><rect x="323.7" y="938.8" width="14.5" height="9.1" fill="#3b4cc0"/><rect x="337.9" y="938.8" width="14.5" height="9.1" fill="#b9d0f9"/><rect x="352.0" y="938.8" width="14.5" height="9.1" fill="#6282ea"/><rect x="366.2" y="938.8" width="14.5" height="9.1" fill="#8db0fe"/><rect x="380.3" y="938.8" width="14.5" height="9.1" fill="#779af7"/><rect x="394.4" y="938.8" width="14.5" height="9.1" fill="#8db0fe"/><rect x="408.6" y="938.8" width="14.5" height="9.1" fill="#6282ea"/><rect x="422.8" y="938.8" width="14.5" height="9.1" fill="#8db0fe"/><rect x="436.9" y="938.8" width="14.5" height="9.1" fill="#8db0fe"/><rect x="451.1" y="938.8" width="14.5" height="9.1" fill="#6282ea"/><rect x="465.2" y="938.8" width="14.5" height="9.1" fill="#8db0fe"/><rect x="479.4" y="938.8" width="14.5" height="9.1" fill="#6282ea"/><rect x="69.0" y="947.6" width="14.5" height="9.1" fill="#f7b093"/><rect x="83.2" y="947.6" width="14.5" height="9.1" fill="#f7b093"/><rect x="97.3" y="947.6" width="14.5" height="9.1" fill="#eb7d62"/><rect x="111.5" y="947.6" width="14.5" height="9.1" fill="#ccd9ed"/><rect x="125.6" y="947.6" width="14.5" height="9.1" fill="#ccd9ed"/><rect x="139.8" y="947.6" width="14.5" height="9.1" fill="#f7b093"/><rect x="153.9" y="947.6" width="14.5" height="9.1" fill="#ccd9ed"/><rect x="168.1" y="947.6" width="14.5" height="9.1" fill="#779af7"/><rect x="182.2" y="947.6" width="14.5" height="9.1" fill="#ccd9ed"/><rect x="196.4" y="947.6" width="14.5" height="9.1" fill="#ccd9ed"/><rect x="210.5" y="947.6" width="14.5" height="9.1" fill="#b9d0f9"/><rect x="224.7" y="947.6" width="14.5" height="9.1" fill="#ecd3c5"/><rect x="238.8" y="947.6" width="14.5" height="9.1" fill="#ccd9ed"/><rect x="253.0" y="947.6" width="14.5" height="9.1" fill="#b9d0f9"/><rect x="267.1" y="947.6" width="14.5" height="9.1" fill="#ccd9ed"/><rect x="281.2" y="947.6" width="14.5" height="9.1" fill="#f7b093"/><rect x="295.4" y="947.6" width="14.5" height="9.1" fill="#ccd9ed"/><rect x="309.6" y="947.6" width="14.5" height="9.1" fill="#ccd9ed"/><rect x="323.7" y="947.6" width="14.5" height="9.1" fill="#b9d0f9"/><rect x="337.9" y="947.6" width="14.5" height="9.1" fill="#b9d0f9"/><rect x="352.0" y="947.6" width="14.5" height="9.1" fill="#8db0fe"/><rect x="366.2" y="947.6" width="14.5" height="9.1" fill="#ccd9ed"/><rect x="380.3" y="947.6" width="14.5" height="9.1" fill="#ccd9ed"/><rect x="394.4" y="947.6" width="14.5" height="9.1" fill="#b9d0f9"/><rect x="408.6" y="947.6" width="14.5" height="9.1" fill="#8db0fe"/><rect x="422.8" y="947.6" width="14.5" height="9.1" fill="#779af7"/><rect x="436.9" y="947.6" width="14.5" height="9.1" fill="#b9d0f9"/><rect x="451.1" y="947.6" width="14.5" height="9.1" fill="#8db0fe"/><rect x="465.2" y="947.6" width="14.5" height="9.1" fill="#8db0fe"/><rect x="479.4" y="947.6" width="14.5" height="9.1" fill="#8db0fe"/><rect x="69.0" y="956.4" width="14.5" height="9.1" fill="#ecd3c5"/><rect x="83.2" y="956.4" width="14.5" height="9.1" fill="#f7b093"/><rect x="97.3" y="956.4" width="14.5" height="9.1" fill="#ecd3c5"/><rect x="111.5" y="956.4" width="14.5" height="9.1" fill="#b9d0f9"/><rect x="125.6" y="956.4" width="14.5" height="9.1" fill="#ccd9ed"/><rect x="139.8" y="956.4" width="14.5" height="9.1" fill="#ecd3c5"/><rect x="153.9" y="956.4" width="14.5" height="9.1" fill="#ccd9ed"/><rect x="168.1" y="956.4" width="14.5" height="9.1" fill="#b9d0f9"/><rect x="182.2" y="956.4" width="14.5" height="9.1" fill="#ecd3c5"/><rect x="196.4" y="956.4" width="14.5" height="9.1" fill="#b9d0f9"/><rect x="210.5" y="956.4" width="14.5" height="9.1" fill="#8db0fe"/><rect x="224.7" y="956.4" width="14.5" height="9.1" fill="#ecd3c5"/><rect x="238.8" y="956.4" width="14.5" height="9.1" fill="#ccd9ed"/><rect x="253.0" y="956.4" width="14.5" height="9.1" fill="#b9d0f9"/><rect x="267.1" y="956.4" width="14.5" height="9.1" fill="#ccd9ed"/><rect x="281.2" y="956.4" width="14.5" height="9.1" fill="#ecd3c5"/><rect x="295.4" y="956.4" width="14.5" height="9.1" fill="#ccd9ed"/><rect x="309.6" y="956.4" width="14.5" height="9.1" fill="#ccd9ed"/><rect x="323.7" y="956.4" width="14.5" height="9.1" fill="#b9d0f9"/><rect x="337.9" y="956.4" width="14.5" height="9.1" fill="#8db0fe"/><rect x="352.0" y="956.4" width="14.5" height="9.1" fill="#8db0fe"/><rect x="366.2" y="956.4" width="14.5" height="9.1" fill="#b9d0f9"/><rect x="380.3" y="956.4" width="14.5" height="9.1" fill="#b9d0f9"/><rect x="394.4" y="956.4" width="14.5" height="9.1" fill="#b9d0f9"/><rect x="408.6" y="956.4" width="14.5" height="9.1" fill="#779af7"/><rect x="422.8" y="956.4" width="14.5" height="9.1" fill="#8db0fe"/><rect x="436.9" y="956.4" width="14.5" height="9.1" fill="#b9d0f9"/><rect x="451.1" y="956.4" width="14.5" height="9.1" fill="#8db0fe"/><rect x="465.2" y="956.4" width="14.5" height="9.1" fill="#779af7"/><rect x="479.4" y="956.4" width="14.5" height="9.1" fill="#8db0fe"/><rect x="69.0" y="965.2" width="14.5" height="9.1" fill="#ccd9ed"/><rect x="83.2" y="965.2" width="14.5" height="9.1" fill="#ecd3c5"/><rect x="97.3" y="965.2" width="14.5" height="9.1" fill="#ecd3c5"/><rect x="111.5" y="965.2" width="14.5" height="9.1" fill="#779af7"/><rect x="125.6" y="965.2" width="14.5" height="9.1" fill="#ccd9ed"/><rect x="139.8" y="965.2" width="14.5" height="9.1" fill="#b9d0f9"/><rect x="153.9" y="965.2" width="14.5" height="9.1" fill="#ccd9ed"/><rect x="168.1" y="965.2" width="14.5" height="9.1" fill="#b9d0f9"/><rect x="182.2" y="965.2" width="14.5" height="9.1" fill="#b9d0f9"/><rect x="196.4" y="965.2" width="14.5" height="9.1" fill="#b9d0f9"/><rect x="210.5" y="965.2" width="14.5" height="9.1" fill="#8db0fe"/><rect x="224.7" y="965.2" width="14.5" height="9.1" fill="#b9d0f9"/><rect x="238.8" y="965.2" width="14.5" height="9.1" fill="#b9d0f9"/><rect x="253.0" y="965.2" width="14.5" height="9.1" fill="#779af7"/><rect x="267.1" y="965.2" width="14.5" height="9.1" fill="#b9d0f9"/><rect x="281.2" y="965.2" width="14.5" height="9.1" fill="#ecd3c5"/><rect x="295.4" y="965.2" width="14.5" height="9.1" fill="#779af7"/><rect x="309.6" y="965.2" width="14.5" height="9.1" fill="#b9d0f9"/><rect x="323.7" y="965.2" width="14.5" height="9.1" fill="#8db0fe"/><rect x="337.9" y="965.2" width="14.5" height="9.1" fill="#4e68d8"/><rect x="352.0" y="965.2" width="14.5" height="9.1" fill="#b9d0f9"/><rect x="366.2" y="965.2" width="14.5" height="9.1" fill="#8db0fe"/><rect x="380.3" y="965.2" width="14.5" height="9.1" fill="#779af7"/><rect x="394.4" y="965.2" width="14.5" height="9.1" fill="#b9d0f9"/><rect x="408.6" y="965.2" width="14.5" height="9.1" fill="#b9d0f9"/><rect x="422.8" y="965.2" width="14.5" height="9.1" fill="#ccd9ed"/><rect x="436.9" y="965.2" width="14.5" height="9.1" fill="#8db0fe"/><rect x="451.1" y="965.2" width="14.5" height="9.1" fill="#779af7"/><rect x="465.2" y="965.2" width="14.5" height="9.1" fill="#779af7"/><rect x="479.4" y="965.2" width="14.5" height="9.1" fill="#779af7"/><rect x="69.0" y="974.0" width="14.5" height="9.1" fill="#ecd3c5"/><rect x="83.2" y="974.0" width="14.5" height="9.1" fill="#ecd3c5"/><rect x="97.3" y="974.0" width="14.5" height="9.1" fill="#8db0fe"/><rect x="111.5" y="974.0" width="14.5" height="9.1" fill="#6282ea"/><rect x="125.6" y="974.0" width="14.5" height="9.1" fill="#8db0fe"/><rect x="139.8" y="974.0" width="14.5" height="9.1" fill="#ccd9ed"/><rect x="153.9" y="974.0" width="14.5" height="9.1" fill="#b9d0f9"/><rect x="168.1" y="974.0" width="14.5" height="9.1" fill="#779af7"/><rect x="182.2" y="974.0" width="14.5" height="9.1" fill="#ccd9ed"/><rect x="196.4" y="974.0" width="14.5" height="9.1" fill="#6282ea"/><rect x="210.5" y="974.0" width="14.5" height="9.1" fill="#4e68d8"/><rect x="224.7" y="974.0" width="14.5" height="9.1" fill="#8db0fe"/><rect x="238.8" y="974.0" width="14.5" height="9.1" fill="#b9d0f9"/><rect x="253.0" y="974.0" width="14.5" height="9.1" fill="#8db0fe"/><rect x="267.1" y="974.0" width="14.5" height="9.1" fill="#4e68d8"/><rect x="281.2" y="974.0" width="14.5" height="9.1" fill="#b9d0f9"/><rect x="295.4" y="974.0" width="14.5" height="9.1" fill="#8db0fe"/><rect x="309.6" y="974.0" width="14.5" height="9.1" fill="#8db0fe"/><rect x="323.7" y="974.0" width="14.5" height="9.1" fill="#779af7"/><rect x="337.9" y="974.0" width="14.5" height="9.1" fill="#779af7"/><rect x="352.0" y="974.0" width="14.5" height="9.1" fill="#779af7"/><rect x="366.2" y="974.0" width="14.5" height="9.1" fill="#ccd9ed"/><rect x="380.3" y="974.0" width="14.5" height="9.1" fill="#b9d0f9"/><rect x="394.4" y="974.0" width="14.5" height="9.1" fill="#b9d0f9"/><rect x="408.6" y="974.0" width="14.5" height="9.1" fill="#779af7"/><rect x="422.8" y="974.0" width="14.5" height="9.1" fill="#b9d0f9"/><rect x="436.9" y="974.0" width="14.5" height="9.1" fill="#b9d0f9"/><rect x="451.1" y="974.0" width="14.5" height="9.1" fill="#6282ea"/><rect x="465.2" y="974.0" width="14.5" height="9.1" fill="#779af7"/><rect x="479.4" y="974.0" width="14.5" height="9.1" fill="#6282ea"/><rect x="69.0" y="982.8" width="14.5" height="9.1" fill="#ecd3c5"/><rect x="83.2" y="982.8" width="14.5" height="9.1" fill="#ecd3c5"/><rect x="97.3" y="982.8" width="14.5" height="9.1" fill="#ccd9ed"/><rect x="111.5" y="982.8" width="14.5" height="9.1" fill="#b9d0f9"/><rect x="125.6" y="982.8" width="14.5" height="9.1" fill="#ccd9ed"/><rect x="139.8" y="982.8" width="14.5" height="9.1" fill="#ccd9ed"/><rect x="153.9" y="982.8" width="14.5" height="9.1" fill="#ccd9ed"/><rect x="168.1" y="982.8" width="14.5" height="9.1" fill="#779af7"/><rect x="182.2" y="982.8" width="14.5" height="9.1" fill="#b9d0f9"/><rect x="196.4" y="982.8" width="14.5" height="9.1" fill="#b9d0f9"/><rect x="210.5" y="982.8" width="14.5" height="9.1" fill="#b9d0f9"/><rect x="224.7" y="982.8" width="14.5" height="9.1" fill="#ccd9ed"/><rect x="238.8" y="982.8" width="14.5" height="9.1" fill="#ccd9ed"/><rect x="253.0" y="982.8" width="14.5" height="9.1" fill="#b9d0f9"/><rect x="267.1" y="982.8" width="14.5" height="9.1" fill="#b9d0f9"/><rect x="281.2" y="982.8" width="14.5" height="9.1" fill="#ccd9ed"/><rect x="295.4" y="982.8" width="14.5" height="9.1" fill="#ecd3c5"/><rect x="309.6" y="982.8" width="14.5" height="9.1" fill="#b9d0f9"/><rect x="323.7" y="982.8" width="14.5" height="9.1" fill="#b9d0f9"/><rect x="337.9" y="982.8" width="14.5" height="9.1" fill="#b9d0f9"/><rect x="352.0" y="982.8" width="14.5" height="9.1" fill="#8db0fe"/><rect x="366.2" y="982.8" width="14.5" height="9.1" fill="#8db0fe"/><rect x="380.3" y="982.8" width="14.5" height="9.1" fill="#8db0fe"/><rect x="394.4" y="982.8" width="14.5" height="9.1" fill="#b9d0f9"/><rect x="408.6" y="982.8" width="14.5" height="9.1" fill="#779af7"/><rect x="422.8" y="982.8" width="14.5" height="9.1" fill="#8db0fe"/><rect x="436.9" y="982.8" width="14.5" height="9.1" fill="#b9d0f9"/><rect x="451.1" y="982.8" width="14.5" height="9.1" fill="#8db0fe"/><rect x="465.2" y="982.8" width="14.5" height="9.1" fill="#779af7"/><rect x="479.4" y="982.8" width="14.5" height="9.1" fill="#8db0fe"/><rect x="69.0" y="991.6" width="14.5" height="9.1" fill="#ecd3c5"/><rect x="83.2" y="991.6" width="14.5" height="9.1" fill="#ecd3c5"/><rect x="97.3" y="991.6" width="14.5" height="9.1" fill="#b9d0f9"/><rect x="111.5" y="991.6" width="14.5" height="9.1" fill="#b9d0f9"/><rect x="125.6" y="991.6" width="14.5" height="9.1" fill="#b9d0f9"/><rect x="139.8" y="991.6" width="14.5" height="9.1" fill="#b9d0f9"/><rect x="153.9" y="991.6" width="14.5" height="9.1" fill="#b9d0f9"/><rect x="168.1" y="991.6" width="14.5" height="9.1" fill="#8db0fe"/><rect x="182.2" y="991.6" width="14.5" height="9.1" fill="#b9d0f9"/><rect x="196.4" y="991.6" width="14.5" height="9.1" fill="#779af7"/><rect x="210.5" y="991.6" width="14.5" height="9.1" fill="#8db0fe"/><rect x="224.7" y="991.6" width="14.5" height="9.1" fill="#ecd3c5"/><rect x="238.8" y="991.6" width="14.5" height="9.1" fill="#ccd9ed"/><rect x="253.0" y="991.6" width="14.5" height="9.1" fill="#b9d0f9"/><rect x="267.1" y="991.6" width="14.5" height="9.1" fill="#b9d0f9"/><rect x="281.2" y="991.6" width="14.5" height="9.1" fill="#ccd9ed"/><rect x="295.4" y="991.6" width="14.5" height="9.1" fill="#b9d0f9"/><rect x="309.6" y="991.6" width="14.5" height="9.1" fill="#b9d0f9"/><rect x="323.7" y="991.6" width="14.5" height="9.1" fill="#b9d0f9"/><rect x="337.9" y="991.6" width="14.5" height="9.1" fill="#8db0fe"/><rect x="352.0" y="991.6" width="14.5" height="9.1" fill="#8db0fe"/><rect x="366.2" y="991.6" width="14.5" height="9.1" fill="#8db0fe"/><rect x="380.3" y="991.6" width="14.5" height="9.1" fill="#8db0fe"/><rect x="394.4" y="991.6" width="14.5" height="9.1" fill="#b9d0f9"/><rect x="408.6" y="991.6" width="14.5" height="9.1" fill="#779af7"/><rect x="422.8" y="991.6" width="14.5" height="9.1" fill="#8db0fe"/><rect x="436.9" y="991.6" width="14.5" height="9.1" fill="#779af7"/><rect x="451.1" y="991.6" width="14.5" height="9.1" fill="#6282ea"/><rect x="465.2" y="991.6" width="14.5" height="9.1" fill="#6282ea"/><rect x="479.4" y="991.6" width="14.5" height="9.1" fill="#8db0fe"/></g>
<path d="M74.92 738.85L77.23 741.15M74.92 741.15L77.23 738.85M89.07 738.85L91.38 741.15M89.07 741.15L91.38 738.85M103.22 738.85L105.53 741.15M103.22 741.15L105.53 738.85M117.38 738.85L119.68 741.15M117.38 741.15L119.68 738.85M145.67 738.85L147.97 741.15M145.67 741.15L147.97 738.85M159.83 738.85L162.13 741.15M159.83 741.15L162.13 738.85M188.12 738.85L190.43 741.15M188.12 741.15L190.43 738.85M230.57 738.85L232.88 741.15M230.57 741.15L232.88 738.85M244.72 738.85L247.03 741.15M244.72 741.15L247.03 738.85M258.88 738.85L261.17 741.15M258.88 741.15L261.17 738.85M273.03 738.85L275.32 741.15M273.03 741.15L275.32 738.85M287.18 738.85L289.48 741.15M287.18 741.15L289.48 738.85M301.33 738.85L303.62 741.15M301.33 741.15L303.62 738.85M315.48 738.85L317.77 741.15M315.48 741.15L317.77 738.85M329.63 738.85L331.93 741.15M329.63 741.15L331.93 738.85M357.93 738.85L360.22 741.15M357.93 741.15L360.22 738.85M386.23 738.85L388.52 741.15M386.23 741.15L388.52 738.85M400.38 738.85L402.68 741.15M400.38 741.15L402.68 738.85M74.92 747.65L77.23 749.95M74.92 749.95L77.23 747.65M89.07 747.65L91.38 749.95M89.07 749.95L91.38 747.65M103.22 747.65L105.53 749.95M103.22 749.95L105.53 747.65M117.38 747.65L119.68 749.95M117.38 749.95L119.68 747.65M131.53 747.65L133.83 749.95M131.53 749.95L133.83 747.65M145.67 747.65L147.97 749.95M145.67 749.95L147.97 747.65M159.83 747.65L162.13 749.95M159.83 749.95L162.13 747.65M188.12 747.65L190.43 749.95M188.12 749.95L190.43 747.65M202.28 747.65L204.58 749.95M202.28 749.95L204.58 747.65M230.57 747.65L232.88 749.95M230.57 749.95L232.88 747.65M244.72 747.65L247.03 749.95M244.72 749.95L247.03 747.65M258.88 747.65L261.17 749.95M258.88 749.95L261.17 747.65M273.03 747.65L275.32 749.95M273.03 749.95L275.32 747.65M287.18 747.65L289.48 749.95M287.18 749.95L289.48 747.65M301.33 747.65L303.62 749.95M301.33 749.95L303.62 747.65M315.48 747.65L317.77 749.95M315.48 749.95L317.77 747.65M343.78 747.65L346.07 749.95M343.78 749.95L346.07 747.65M357.93 747.65L360.22 749.95M357.93 749.95L360.22 747.65M372.08 747.65L374.38 749.95M372.08 749.95L374.38 747.65M386.23 747.65L388.52 749.95M386.23 749.95L388.52 747.65M400.38 747.65L402.68 749.95M400.38 749.95L402.68 747.65M428.68 747.65L430.97 749.95M428.68 749.95L430.97 747.65M74.92 756.45L77.23 758.75M74.92 758.75L77.23 756.45M89.07 756.45L91.38 758.75M89.07 758.75L91.38 756.45M103.22 756.45L105.53 758.75M103.22 758.75L105.53 756.45M117.38 756.45L119.68 758.75M117.38 758.75L119.68 756.45M131.53 756.45L133.83 758.75M131.53 758.75L133.83 756.45M145.67 756.45L147.97 758.75M145.67 758.75L147.97 756.45M159.83 756.45L162.13 758.75M159.83 758.75L162.13 756.45M173.97 756.45L176.28 758.75M173.97 758.75L176.28 756.45M188.12 756.45L190.43 758.75M188.12 758.75L190.43 756.45M202.28 756.45L204.58 758.75M202.28 758.75L204.58 756.45M216.43 756.45L218.73 758.75M216.43 758.75L218.73 756.45M230.57 756.45L232.88 758.75M230.57 758.75L232.88 756.45M244.72 756.45L247.03 758.75M244.72 758.75L247.03 756.45M258.88 756.45L261.17 758.75M258.88 758.75L261.17 756.45M273.03 756.45L275.32 758.75M273.03 758.75L275.32 756.45M287.18 756.45L289.48 758.75M287.18 758.75L289.48 756.45M301.33 756.45L303.62 758.75M301.33 758.75L303.62 756.45M315.48 756.45L317.77 758.75M315.48 758.75L317.77 756.45M357.93 756.45L360.22 758.75M357.93 758.75L360.22 756.45M386.23 756.45L388.52 758.75M386.23 758.75L388.52 756.45M74.92 765.25L77.23 767.55M74.92 767.55L77.23 765.25M89.07 765.25L91.38 767.55M89.07 767.55L91.38 765.25M103.22 765.25L105.53 767.55M103.22 767.55L105.53 765.25M117.38 765.25L119.68 767.55M117.38 767.55L119.68 765.25M131.53 765.25L133.83 767.55M131.53 767.55L133.83 765.25M145.67 765.25L147.97 767.55M145.67 767.55L147.97 765.25M159.83 765.25L162.13 767.55M159.83 767.55L162.13 765.25M188.12 765.25L190.43 767.55M188.12 767.55L190.43 765.25M202.28 765.25L204.58 767.55M202.28 767.55L204.58 765.25M230.57 765.25L232.88 767.55M230.57 767.55L232.88 765.25M244.72 765.25L247.03 767.55M244.72 767.55L247.03 765.25M258.88 765.25L261.17 767.55M258.88 767.55L261.17 765.25M273.03 765.25L275.32 767.55M273.03 767.55L275.32 765.25M287.18 765.25L289.48 767.55M287.18 767.55L289.48 765.25M301.33 765.25L303.62 767.55M301.33 767.55L303.62 765.25M315.48 765.25L317.77 767.55M315.48 767.55L317.77 765.25M329.63 765.25L331.93 767.55M329.63 767.55L331.93 765.25M357.93 765.25L360.22 767.55M357.93 767.55L360.22 765.25M372.08 765.25L374.38 767.55M372.08 767.55L374.38 765.25M386.23 765.25L388.52 767.55M386.23 767.55L388.52 765.25M400.38 765.25L402.68 767.55M400.38 767.55L402.68 765.25M74.92 774.05L77.23 776.35M74.92 776.35L77.23 774.05M89.07 774.05L91.38 776.35M89.07 776.35L91.38 774.05M117.38 774.05L119.68 776.35M117.38 776.35L119.68 774.05M145.67 774.05L147.97 776.35M145.67 776.35L147.97 774.05M188.12 774.05L190.43 776.35M188.12 776.35L190.43 774.05M230.57 774.05L232.88 776.35M230.57 776.35L232.88 774.05M244.72 774.05L247.03 776.35M244.72 776.35L247.03 774.05M273.03 774.05L275.32 776.35M273.03 776.35L275.32 774.05M287.18 774.05L289.48 776.35M287.18 776.35L289.48 774.05M301.33 774.05L303.62 776.35M301.33 776.35L303.62 774.05M315.48 774.05L317.77 776.35M315.48 776.35L317.77 774.05M343.78 774.05L346.07 776.35M343.78 776.35L346.07 774.05M372.08 774.05L374.38 776.35M372.08 776.35L374.38 774.05M414.53 774.05L416.82 776.35M414.53 776.35L416.82 774.05M428.68 774.05L430.97 776.35M428.68 776.35L430.97 774.05M74.92 782.85L77.23 785.15M74.92 785.15L77.23 782.85M89.07 782.85L91.38 785.15M89.07 785.15L91.38 782.85M244.72 782.85L247.03 785.15M244.72 785.15L247.03 782.85M357.93 782.85L360.22 785.15M357.93 785.15L360.22 782.85M372.08 782.85L374.38 785.15M372.08 785.15L374.38 782.85M74.92 791.65L77.23 793.95M74.92 793.95L77.23 791.65M89.07 791.65L91.38 793.95M89.07 793.95L91.38 791.65M103.22 791.65L105.53 793.95M103.22 793.95L105.53 791.65M131.53 791.65L133.83 793.95M131.53 793.95L133.83 791.65M145.67 791.65L147.97 793.95M145.67 793.95L147.97 791.65M159.83 791.65L162.13 793.95M159.83 793.95L162.13 791.65M188.12 791.65L190.43 793.95M188.12 793.95L190.43 791.65M230.57 791.65L232.88 793.95M230.57 793.95L232.88 791.65M244.72 791.65L247.03 793.95M244.72 793.95L247.03 791.65M287.18 791.65L289.48 793.95M287.18 793.95L289.48 791.65M74.92 800.45L77.23 802.75M74.92 802.75L77.23 800.45M117.38 800.45L119.68 802.75M117.38 802.75L119.68 800.45M159.83 800.45L162.13 802.75M159.83 802.75L162.13 800.45M230.57 800.45L232.88 802.75M230.57 802.75L232.88 800.45M244.72 800.45L247.03 802.75M244.72 802.75L247.03 800.45M301.33 800.45L303.62 802.75M301.33 802.75L303.62 800.45M343.78 800.45L346.07 802.75M343.78 802.75L346.07 800.45M372.08 800.45L374.38 802.75M372.08 802.75L374.38 800.45M74.92 809.25L77.23 811.55M74.92 811.55L77.23 809.25M89.07 809.25L91.38 811.55M89.07 811.55L91.38 809.25M103.22 809.25L105.53 811.55M103.22 811.55L105.53 809.25M131.53 809.25L133.83 811.55M131.53 811.55L133.83 809.25M145.67 809.25L147.97 811.55M145.67 811.55L147.97 809.25M159.83 809.25L162.13 811.55M159.83 811.55L162.13 809.25M230.57 809.25L232.88 811.55M230.57 811.55L232.88 809.25M244.72 809.25L247.03 811.55M244.72 811.55L247.03 809.25M287.18 809.25L289.48 811.55M287.18 811.55L289.48 809.25M372.08 809.25L374.38 811.55M372.08 811.55L374.38 809.25M74.92 818.05L77.23 820.35M74.92 820.35L77.23 818.05M89.07 818.05L91.38 820.35M89.07 820.35L91.38 818.05M145.67 818.05L147.97 820.35M145.67 820.35L147.97 818.05M173.97 818.05L176.28 820.35M173.97 820.35L176.28 818.05M188.12 818.05L190.43 820.35M188.12 820.35L190.43 818.05M244.72 818.05L247.03 820.35M244.72 820.35L247.03 818.05M287.18 818.05L289.48 820.35M287.18 820.35L289.48 818.05M315.48 818.05L317.77 820.35M315.48 820.35L317.77 818.05M343.78 818.05L346.07 820.35M343.78 820.35L346.07 818.05M372.08 818.05L374.38 820.35M372.08 820.35L374.38 818.05M414.53 818.05L416.82 820.35M414.53 820.35L416.82 818.05M428.68 818.05L430.97 820.35M428.68 820.35L430.97 818.05M89.07 826.85L91.38 829.15M89.07 829.15L91.38 826.85M244.72 826.85L247.03 829.15M244.72 829.15L247.03 826.85M301.33 826.85L303.62 829.15M301.33 829.15L303.62 826.85M357.93 826.85L360.22 829.15M357.93 829.15L360.22 826.85M74.92 835.65L77.23 837.95M74.92 837.95L77.23 835.65M89.07 835.65L91.38 837.95M89.07 837.95L91.38 835.65M131.53 835.65L133.83 837.95M131.53 837.95L133.83 835.65M230.57 835.65L232.88 837.95M230.57 837.95L232.88 835.65M74.92 844.45L77.23 846.75M74.92 846.75L77.23 844.45M89.07 844.45L91.38 846.75M89.07 846.75L91.38 844.45M103.22 844.45L105.53 846.75M103.22 846.75L105.53 844.45M117.38 844.45L119.68 846.75M117.38 846.75L119.68 844.45M131.53 844.45L133.83 846.75M131.53 846.75L133.83 844.45M145.67 844.45L147.97 846.75M145.67 846.75L147.97 844.45M159.83 844.45L162.13 846.75M159.83 846.75L162.13 844.45M188.12 844.45L190.43 846.75M188.12 846.75L190.43 844.45M202.28 844.45L204.58 846.75M202.28 846.75L204.58 844.45M230.57 844.45L232.88 846.75M230.57 846.75L232.88 844.45M244.72 844.45L247.03 846.75M244.72 846.75L247.03 844.45M258.88 844.45L261.17 846.75M258.88 846.75L261.17 844.45M273.03 844.45L275.32 846.75M273.03 846.75L275.32 844.45M287.18 844.45L289.48 846.75M287.18 846.75L289.48 844.45M301.33 844.45L303.62 846.75M301.33 846.75L303.62 844.45M315.48 844.45L317.77 846.75M315.48 846.75L317.77 844.45M329.63 844.45L331.93 846.75M329.63 846.75L331.93 844.45M357.93 844.45L360.22 846.75M357.93 846.75L360.22 844.45M372.08 844.45L374.38 846.75M372.08 846.75L374.38 844.45M386.23 844.45L388.52 846.75M386.23 846.75L388.52 844.45M400.38 844.45L402.68 846.75M400.38 846.75L402.68 844.45M74.92 853.25L77.23 855.55M74.92 855.55L77.23 853.25M89.07 853.25L91.38 855.55M89.07 855.55L91.38 853.25M103.22 853.25L105.53 855.55M103.22 855.55L105.53 853.25M117.38 853.25L119.68 855.55M117.38 855.55L119.68 853.25M145.67 853.25L147.97 855.55M145.67 855.55L147.97 853.25M159.83 853.25L162.13 855.55M159.83 855.55L162.13 853.25M202.28 853.25L204.58 855.55M202.28 855.55L204.58 853.25M287.18 853.25L289.48 855.55M287.18 855.55L289.48 853.25M343.78 853.25L346.07 855.55M343.78 855.55L346.07 853.25M372.08 853.25L374.38 855.55M372.08 855.55L374.38 853.25M74.92 862.05L77.23 864.35M74.92 864.35L77.23 862.05M89.07 862.05L91.38 864.35M89.07 864.35L91.38 862.05M103.22 862.05L105.53 864.35M103.22 864.35L105.53 862.05M117.38 862.05L119.68 864.35M117.38 864.35L119.68 862.05M131.53 862.05L133.83 864.35M131.53 864.35L133.83 862.05M145.67 862.05L147.97 864.35M145.67 864.35L147.97 862.05M159.83 862.05L162.13 864.35M159.83 864.35L162.13 862.05M188.12 862.05L190.43 864.35M188.12 864.35L190.43 862.05M230.57 862.05L232.88 864.35M230.57 864.35L232.88 862.05M244.72 862.05L247.03 864.35M244.72 864.35L247.03 862.05M258.88 862.05L261.17 864.35M258.88 864.35L261.17 862.05M273.03 862.05L275.32 864.35M273.03 864.35L275.32 862.05M287.18 862.05L289.48 864.35M287.18 864.35L289.48 862.05M301.33 862.05L303.62 864.35M301.33 864.35L303.62 862.05M315.48 862.05L317.77 864.35M315.48 864.35L317.77 862.05M329.63 862.05L331.93 864.35M329.63 864.35L331.93 862.05M372.08 862.05L374.38 864.35M372.08 864.35L374.38 862.05M386.23 862.05L388.52 864.35M386.23 864.35L388.52 862.05M400.38 862.05L402.68 864.35M400.38 864.35L402.68 862.05M74.92 870.85L77.23 873.15M74.92 873.15L77.23 870.85M89.07 870.85L91.38 873.15M89.07 873.15L91.38 870.85M103.22 870.85L105.53 873.15M103.22 873.15L105.53 870.85M117.38 870.85L119.68 873.15M117.38 873.15L119.68 870.85M145.67 870.85L147.97 873.15M145.67 873.15L147.97 870.85M159.83 870.85L162.13 873.15M159.83 873.15L162.13 870.85M188.12 870.85L190.43 873.15M188.12 873.15L190.43 870.85M230.57 870.85L232.88 873.15M230.57 873.15L232.88 870.85M244.72 870.85L247.03 873.15M244.72 873.15L247.03 870.85M287.18 870.85L289.48 873.15M287.18 873.15L289.48 870.85M301.33 870.85L303.62 873.15M301.33 873.15L303.62 870.85M315.48 870.85L317.77 873.15M315.48 873.15L317.77 870.85M329.63 870.85L331.93 873.15M329.63 873.15L331.93 870.85M343.78 870.85L346.07 873.15M343.78 873.15L346.07 870.85M428.68 870.85L430.97 873.15M428.68 873.15L430.97 870.85M74.92 879.65L77.23 881.95M74.92 881.95L77.23 879.65M89.07 879.65L91.38 881.95M89.07 881.95L91.38 879.65M103.22 879.65L105.53 881.95M103.22 881.95L105.53 879.65M117.38 879.65L119.68 881.95M117.38 881.95L119.68 879.65M131.53 879.65L133.83 881.95M131.53 881.95L133.83 879.65M145.67 879.65L147.97 881.95M145.67 881.95L147.97 879.65M159.83 879.65L162.13 881.95M159.83 881.95L162.13 879.65M188.12 879.65L190.43 881.95M188.12 881.95L190.43 879.65M230.57 879.65L232.88 881.95M230.57 881.95L232.88 879.65M244.72 879.65L247.03 881.95M244.72 881.95L247.03 879.65M273.03 879.65L275.32 881.95M273.03 881.95L275.32 879.65M287.18 879.65L289.48 881.95M287.18 881.95L289.48 879.65M301.33 879.65L303.62 881.95M301.33 881.95L303.62 879.65M315.48 879.65L317.77 881.95M315.48 881.95L317.77 879.65M343.78 879.65L346.07 881.95M343.78 881.95L346.07 879.65M372.08 879.65L374.38 881.95M372.08 881.95L374.38 879.65M428.68 879.65L430.97 881.95M428.68 881.95L430.97 879.65M74.92 888.45L77.23 890.75M74.92 890.75L77.23 888.45M89.07 888.45L91.38 890.75M89.07 890.75L91.38 888.45M103.22 888.45L105.53 890.75M103.22 890.75L105.53 888.45M117.38 888.45L119.68 890.75M117.38 890.75L119.68 888.45M145.67 888.45L147.97 890.75M145.67 890.75L147.97 888.45M159.83 888.45L162.13 890.75M159.83 890.75L162.13 888.45M188.12 888.45L190.43 890.75M188.12 890.75L190.43 888.45M230.57 888.45L232.88 890.75M230.57 890.75L232.88 888.45M244.72 888.45L247.03 890.75M244.72 890.75L247.03 888.45M287.18 888.45L289.48 890.75M287.18 890.75L289.48 888.45M301.33 888.45L303.62 890.75M301.33 890.75L303.62 888.45M315.48 888.45L317.77 890.75M315.48 890.75L317.77 888.45M329.63 888.45L331.93 890.75M329.63 890.75L331.93 888.45M372.08 888.45L374.38 890.75M372.08 890.75L374.38 888.45M74.92 897.25L77.23 899.55M74.92 899.55L77.23 897.25M89.07 897.25L91.38 899.55M89.07 899.55L91.38 897.25M145.67 897.25L147.97 899.55M145.67 899.55L147.97 897.25M159.83 897.25L162.13 899.55M159.83 899.55L162.13 897.25M188.12 897.25L190.43 899.55M188.12 899.55L190.43 897.25M230.57 897.25L232.88 899.55M230.57 899.55L232.88 897.25M244.72 897.25L247.03 899.55M244.72 899.55L247.03 897.25M273.03 897.25L275.32 899.55M273.03 899.55L275.32 897.25M287.18 897.25L289.48 899.55M287.18 899.55L289.48 897.25M301.33 897.25L303.62 899.55M301.33 899.55L303.62 897.25M315.48 897.25L317.77 899.55M315.48 899.55L317.77 897.25M372.08 897.25L374.38 899.55M372.08 899.55L374.38 897.25M74.92 906.05L77.23 908.35M74.92 908.35L77.23 906.05M89.07 906.05L91.38 908.35M89.07 908.35L91.38 906.05M103.22 906.05L105.53 908.35M103.22 908.35L105.53 906.05M131.53 906.05L133.83 908.35M131.53 908.35L133.83 906.05M145.67 906.05L147.97 908.35M145.67 908.35L147.97 906.05M159.83 906.05L162.13 908.35M159.83 908.35L162.13 906.05M188.12 906.05L190.43 908.35M188.12 908.35L190.43 906.05M287.18 906.05L289.48 908.35M287.18 908.35L289.48 906.05M315.48 906.05L317.77 908.35M315.48 908.35L317.77 906.05M74.92 914.85L77.23 917.15M74.92 917.15L77.23 914.85M89.07 914.85L91.38 917.15M89.07 917.15L91.38 914.85M103.22 914.85L105.53 917.15M103.22 917.15L105.53 914.85M117.38 914.85L119.68 917.15M117.38 917.15L119.68 914.85M131.53 914.85L133.83 917.15M131.53 917.15L133.83 914.85M145.67 914.85L147.97 917.15M145.67 917.15L147.97 914.85M159.83 914.85L162.13 917.15M159.83 917.15L162.13 914.85M188.12 914.85L190.43 917.15M188.12 917.15L190.43 914.85M230.57 914.85L232.88 917.15M230.57 917.15L232.88 914.85M244.72 914.85L247.03 917.15M244.72 917.15L247.03 914.85M258.88 914.85L261.17 917.15M258.88 917.15L261.17 914.85M273.03 914.85L275.32 917.15M273.03 917.15L275.32 914.85M287.18 914.85L289.48 917.15M287.18 917.15L289.48 914.85M301.33 914.85L303.62 917.15M301.33 917.15L303.62 914.85M315.48 914.85L317.77 917.15M315.48 917.15L317.77 914.85M329.63 914.85L331.93 917.15M329.63 917.15L331.93 914.85M372.08 914.85L374.38 917.15M372.08 917.15L374.38 914.85M400.38 914.85L402.68 917.15M400.38 917.15L402.68 914.85M74.92 923.65L77.23 925.95M74.92 925.95L77.23 923.65M89.07 923.65L91.38 925.95M89.07 925.95L91.38 923.65M103.22 923.65L105.53 925.95M103.22 925.95L105.53 923.65M117.38 923.65L119.68 925.95M117.38 925.95L119.68 923.65M131.53 923.65L133.83 925.95M131.53 925.95L133.83 923.65M145.67 923.65L147.97 925.95M145.67 925.95L147.97 923.65M159.83 923.65L162.13 925.95M159.83 925.95L162.13 923.65M188.12 923.65L190.43 925.95M188.12 925.95L190.43 923.65M202.28 923.65L204.58 925.95M202.28 925.95L204.58 923.65M230.57 923.65L232.88 925.95M230.57 925.95L232.88 923.65M244.72 923.65L247.03 925.95M244.72 925.95L247.03 923.65M273.03 923.65L275.32 925.95M273.03 925.95L275.32 923.65M287.18 923.65L289.48 925.95M287.18 925.95L289.48 923.65M301.33 923.65L303.62 925.95M301.33 925.95L303.62 923.65M315.48 923.65L317.77 925.95M315.48 925.95L317.77 923.65M329.63 923.65L331.93 925.95M329.63 925.95L331.93 923.65M357.93 923.65L360.22 925.95M357.93 925.95L360.22 923.65M74.92 932.45L77.23 934.75M74.92 934.75L77.23 932.45M89.07 932.45L91.38 934.75M89.07 934.75L91.38 932.45M103.22 932.45L105.53 934.75M103.22 934.75L105.53 932.45M131.53 932.45L133.83 934.75M131.53 934.75L133.83 932.45M145.67 932.45L147.97 934.75M145.67 934.75L147.97 932.45M159.83 932.45L162.13 934.75M159.83 934.75L162.13 932.45M188.12 932.45L190.43 934.75M188.12 934.75L190.43 932.45M230.57 932.45L232.88 934.75M230.57 934.75L232.88 932.45M244.72 932.45L247.03 934.75M244.72 934.75L247.03 932.45M258.88 932.45L261.17 934.75M258.88 934.75L261.17 932.45M273.03 932.45L275.32 934.75M273.03 934.75L275.32 932.45M287.18 932.45L289.48 934.75M287.18 934.75L289.48 932.45M301.33 932.45L303.62 934.75M301.33 934.75L303.62 932.45M315.48 932.45L317.77 934.75M315.48 934.75L317.77 932.45M329.63 932.45L331.93 934.75M329.63 934.75L331.93 932.45M372.08 932.45L374.38 934.75M372.08 934.75L374.38 932.45M400.38 932.45L402.68 934.75M400.38 934.75L402.68 932.45M74.92 941.25L77.23 943.55M74.92 943.55L77.23 941.25M89.07 941.25L91.38 943.55M89.07 943.55L91.38 941.25M74.92 950.05L77.23 952.35M74.92 952.35L77.23 950.05M89.07 950.05L91.38 952.35M89.07 952.35L91.38 950.05M103.22 950.05L105.53 952.35M103.22 952.35L105.53 950.05M117.38 950.05L119.68 952.35M117.38 952.35L119.68 950.05M131.53 950.05L133.83 952.35M131.53 952.35L133.83 950.05M145.67 950.05L147.97 952.35M145.67 952.35L147.97 950.05M159.83 950.05L162.13 952.35M159.83 952.35L162.13 950.05M188.12 950.05L190.43 952.35M188.12 952.35L190.43 950.05M202.28 950.05L204.58 952.35M202.28 952.35L204.58 950.05M216.43 950.05L218.73 952.35M216.43 952.35L218.73 950.05M230.57 950.05L232.88 952.35M230.57 952.35L232.88 950.05M244.72 950.05L247.03 952.35M244.72 952.35L247.03 950.05M273.03 950.05L275.32 952.35M273.03 952.35L275.32 950.05M287.18 950.05L289.48 952.35M287.18 952.35L289.48 950.05M301.33 950.05L303.62 952.35M301.33 952.35L303.62 950.05M315.48 950.05L317.77 952.35M315.48 952.35L317.77 950.05M372.08 950.05L374.38 952.35M372.08 952.35L374.38 950.05M386.23 950.05L388.52 952.35M386.23 952.35L388.52 950.05M74.92 958.85L77.23 961.15M74.92 961.15L77.23 958.85M89.07 958.85L91.38 961.15M89.07 961.15L91.38 958.85M103.22 958.85L105.53 961.15M103.22 961.15L105.53 958.85M131.53 958.85L133.83 961.15M131.53 961.15L133.83 958.85M145.67 958.85L147.97 961.15M145.67 961.15L147.97 958.85M159.83 958.85L162.13 961.15M159.83 961.15L162.13 958.85M188.12 958.85L190.43 961.15M188.12 961.15L190.43 958.85M230.57 958.85L232.88 961.15M230.57 961.15L232.88 958.85M244.72 958.85L247.03 961.15M244.72 961.15L247.03 958.85M273.03 958.85L275.32 961.15M273.03 961.15L275.32 958.85M287.18 958.85L289.48 961.15M287.18 961.15L289.48 958.85M301.33 958.85L303.62 961.15M301.33 961.15L303.62 958.85M315.48 958.85L317.77 961.15M315.48 961.15L317.77 958.85M74.92 967.65L77.23 969.95M74.92 969.95L77.23 967.65M89.07 967.65L91.38 969.95M89.07 969.95L91.38 967.65M103.22 967.65L105.53 969.95M103.22 969.95L105.53 967.65M131.53 967.65L133.83 969.95M131.53 969.95L133.83 967.65M159.83 967.65L162.13 969.95M159.83 969.95L162.13 967.65M287.18 967.65L289.48 969.95M287.18 969.95L289.48 967.65M428.68 967.65L430.97 969.95M428.68 969.95L430.97 967.65M74.92 976.45L77.23 978.75M74.92 978.75L77.23 976.45M89.07 976.45L91.38 978.75M89.07 978.75L91.38 976.45M145.67 976.45L147.97 978.75M145.67 978.75L147.97 976.45M188.12 976.45L190.43 978.75M188.12 978.75L190.43 976.45M372.08 976.45L374.38 978.75M372.08 978.75L374.38 976.45M74.92 985.25L77.23 987.55M74.92 987.55L77.23 985.25M89.07 985.25L91.38 987.55M89.07 987.55L91.38 985.25M103.22 985.25L105.53 987.55M103.22 987.55L105.53 985.25M131.53 985.25L133.83 987.55M131.53 987.55L133.83 985.25M145.67 985.25L147.97 987.55M145.67 987.55L147.97 985.25M159.83 985.25L162.13 987.55M159.83 987.55L162.13 985.25M188.12 985.25L190.43 987.55M188.12 987.55L190.43 985.25M230.57 985.25L232.88 987.55M230.57 987.55L232.88 985.25M244.72 985.25L247.03 987.55M244.72 987.55L247.03 985.25M287.18 985.25L289.48 987.55M287.18 987.55L289.48 985.25M301.33 985.25L303.62 987.55M301.33 987.55L303.62 985.25M74.92 994.05L77.23 996.35M74.92 996.35L77.23 994.05M89.07 994.05L91.38 996.35M89.07 996.35L91.38 994.05M131.53 994.05L133.83 996.35M131.53 996.35L133.83 994.05M145.67 994.05L147.97 996.35M145.67 996.35L147.97 994.05M230.57 994.05L232.88 996.35M230.57 996.35L232.88 994.05M244.72 994.05L247.03 996.35M244.72 996.35L247.03 994.05M287.18 994.05L289.48 996.35M287.18 996.35L289.48 994.05" stroke="#222" stroke-width="0.9" fill="none"/>
<g font-family="Liberation Sans, sans-serif" font-size="7.1" fill="#262626"><text x="66.3" y="741.20" text-anchor="end" dy="0.35em">ANKRD17</text><text x="66.3" y="750.00" text-anchor="end" dy="0.35em">APOA5</text><text x="66.3" y="758.80" text-anchor="end" dy="0.35em">ARHGEF1</text><text x="66.3" y="767.60" text-anchor="end" dy="0.35em">DICER1</text><text x="66.3" y="776.40" text-anchor="end" dy="0.35em">C7orf65</text><text x="66.3" y="785.20" text-anchor="end" dy="0.35em">ILF2</text><text x="66.3" y="794.00" text-anchor="end" dy="0.35em">SULT1A2</text><text x="66.3" y="802.80" text-anchor="end" dy="0.35em">AC005597.1</text><text x="66.3" y="811.60" text-anchor="end" dy="0.35em">RP11-23D24.2</text><text x="66.3" y="820.40" text-anchor="end" dy="0.35em">ZG16B</text><text x="66.3" y="829.20" text-anchor="end" dy="0.35em">SFR1</text><text x="66.3" y="838.00" text-anchor="end" dy="0.35em">SRSF5</text><text x="66.3" y="846.80" text-anchor="end" dy="0.35em">FRY</text><text x="66.3" y="855.60" text-anchor="end" dy="0.35em">RP11-166D19</text><text x="66.3" y="864.40" text-anchor="end" dy="0.35em">ST6GALNAC4</text><text x="66.3" y="873.20" text-anchor="end" dy="0.35em">PCBP1-AS1</text><text x="66.3" y="882.00" text-anchor="end" dy="0.35em">RP11-265N7</text><text x="66.3" y="890.80" text-anchor="end" dy="0.35em">RP5-991G20</text><text x="66.3" y="899.60" text-anchor="end" dy="0.35em">TMPRSS4</text><text x="66.3" y="908.40" text-anchor="end" dy="0.35em">FN1</text><text x="66.3" y="917.20" text-anchor="end" dy="0.35em">OAZ2</text><text x="66.3" y="926.00" text-anchor="end" dy="0.35em">SPSB3</text><text x="66.3" y="934.80" text-anchor="end" dy="0.35em">MED27</text><text x="66.3" y="943.60" text-anchor="end" dy="0.35em">CHI3L2</text><text x="66.3" y="952.40" text-anchor="end" dy="0.35em">TATDN1</text><text x="66.3" y="961.20" text-anchor="end" dy="0.35em">GPLD1</text><text x="66.3" y="970.00" text-anchor="end" dy="0.35em">LRRFIP1</text><text x="66.3" y="978.80" text-anchor="end" dy="0.35em">LINC01483</text><text x="66.3" y="987.60" text-anchor="end" dy="0.35em">SLC26A9</text><text x="66.3" y="996.40" text-anchor="end" dy="0.35em">PEX10</text><text transform="translate(76.08 1004.10) rotate(-90)" text-anchor="end" dy="0.35em">hsa-mir-19a</text><text transform="translate(90.22 1004.10) rotate(-90)" text-anchor="end" dy="0.35em">hsa-mir-1350</text><text transform="translate(104.38 1004.10) rotate(-90)" text-anchor="end" dy="0.35em">hsa-mir-6499</text><text transform="translate(118.53 1004.10) rotate(-90)" text-anchor="end" dy="0.35em">hsa-mir-6832</text><text transform="translate(132.68 1004.10) rotate(-90)" text-anchor="end" dy="0.35em">hsa-mir-224</text><text transform="translate(146.82 1004.10) rotate(-90)" text-anchor="end" dy="0.35em">hsa-mir-3622a</text><text transform="translate(160.98 1004.10) rotate(-90)" text-anchor="end" dy="0.35em">hsa-mir-6728</text><text transform="translate(175.12 1004.10) rotate(-90)" text-anchor="end" dy="0.35em">hsa-mir-216b</text><text transform="translate(189.28 1004.10) rotate(-90)" text-anchor="end" dy="0.35em">hsa-mir-155</text><text transform="translate(203.43 1004.10) rotate(-90)" text-anchor="end" dy="0.35em">hsa-mir-1276</text><text transform="translate(217.58 1004.10) rotate(-90)" text-anchor="end" dy="0.35em">hsa-mir-3115</text><text transform="translate(231.72 1004.10) rotate(-90)" text-anchor="end" dy="0.35em">hsa-mir-7112</text><text transform="translate(245.88 1004.10) rotate(-90)" text-anchor="end" dy="0.35em">hsa-mir-548d-1</text><text transform="translate(260.02 1004.10) rotate(-90)" text-anchor="end" dy="0.35em">hsa-mir-877</text><text transform="translate(274.18 1004.10) rotate(-90)" text-anchor="end" dy="0.35em">hsa-mir-4766</text><text transform="translate(288.33 1004.10) rotate(-90)" text-anchor="end" dy="0.35em">hsa-mir-4760</text><text transform="translate(302.48 1004.10) rotate(-90)" text-anchor="end" dy="0.35em">hsa-mir-301b</text><text transform="translate(316.62 1004.10) rotate(-90)" text-anchor="end" dy="0.35em">hsa-mir-188</text><text transform="translate(330.78 1004.10) rotate(-90)" text-anchor="end" dy="0.35em">hsa-mir-5571</text><text transform="translate(344.93 1004.10) rotate(-90)" text-anchor="end" dy="0.35em">hsa-mir-4788</text><text transform="translate(359.07 1004.10) rotate(-90)" text-anchor="end" dy="0.35em">hsa-mir-3145</text><text transform="translate(373.23 1004.10) rotate(-90)" text-anchor="end" dy="0.35em">hsa-mir-548ag-2</text><text transform="translate(387.38 1004.10) rotate(-90)" text-anchor="end" dy="0.35em">hsa-mir-4787</text><text transform="translate(401.53 1004.10) rotate(-90)" text-anchor="end" dy="0.35em">hsa-mir-5092</text><text transform="translate(415.68 1004.10) rotate(-90)" text-anchor="end" dy="0.35em">hsa-mir-4699</text><text transform="translate(429.82 1004.10) rotate(-90)" text-anchor="end" dy="0.35em">hsa-mir-204</text><text transform="translate(443.98 1004.10) rotate(-90)" text-anchor="end" dy="0.35em">hsa-mir-4421</text><text transform="translate(458.12 1004.10) rotate(-90)" text-anchor="end" dy="0.35em">hsa-mir-3944</text><text transform="translate(472.28 1004.10) rotate(-90)" text-anchor="end" dy="0.35em">hsa-mir-605</text><text transform="translate(486.43 1004.10) rotate(-90)" text-anchor="end" dy="0.35em">hsa-mir-6858</text></g>
<text x="281.25" y="732.10" text-anchor="middle" font-family="Liberation Sans, sans-serif" font-size="10.67" fill="#262626">Pairwise correlation betwee miRNA and DNA Methylation</text>
<text x="281.25" y="1063.60" text-anchor="middle" font-family="Liberation Sans, sans-serif" font-size="9.6" fill="#262626">miRNA</text>
<text transform="translate(14.40 868.10) rotate(-90)" text-anchor="middle" font-family="Liberation Sans, sans-serif" font-size="9.6" fill="#262626">DNA Methylation</text>
<text x="71.40" y="717.80" font-family="Liberation Serif, serif" font-size="16.5" letter-spacing="0.8" fill="#000">(c)</text>
<rect x="520" y="736.40" width="13.2" height="264.00" fill="url(#cw)"/>
<g font-family="Liberation Sans, sans-serif" font-size="7.1" fill="#262626"><text x="535.3" y="980.70" dy="0.35em">0.0</text><text x="535.3" y="931.33" dy="0.35em">0.1</text><text x="535.3" y="881.95" dy="0.35em">0.2</text><text x="535.3" y="832.58" dy="0.35em">0.3</text><text x="535.3" y="783.20" dy="0.35em">0.4</text></g>
</svg>
</body></html>
